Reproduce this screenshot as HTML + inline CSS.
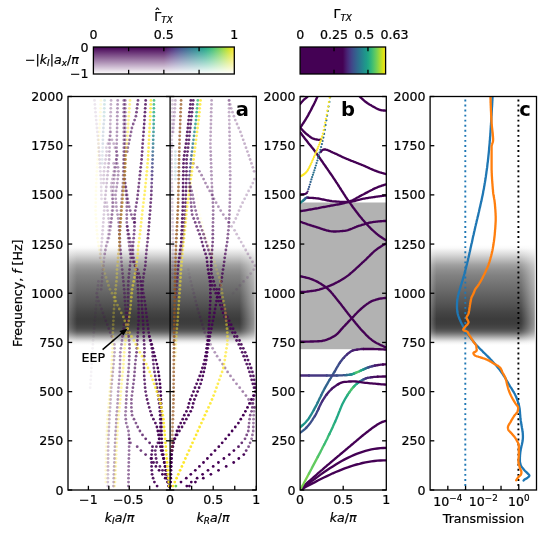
<!DOCTYPE html>
<html><head><meta charset="utf-8"><title>Figure</title>
<style>
html,body{margin:0;padding:0;background:#fff;}
body{width:550px;height:535px;overflow:hidden;}
svg{display:block;}
text{font-family:"DejaVu Sans","Liberation Sans",sans-serif;fill:#000;}
.t{font-size:12.6px;stroke:#000;stroke-width:0.22px;}
.i{font-style:italic;}
.b{font-weight:bold;}
</style></head><body>
<svg width="550" height="535" viewBox="0 0 550 535">
<defs><clipPath id="clipc"><rect x="430.1" y="96.5" width="106.4" height="393.5"/></clipPath></defs>
<defs><clipPath id="clipb"><rect x="300.1" y="96.5" width="86.2" height="393.5"/></clipPath></defs>
<defs><clipPath id="clipa"><rect x="68.0" y="96.5" width="188.3" height="393.5"/></clipPath></defs>
<defs><linearGradient id="gb" x1="0" y1="0" x2="0" y2="1">
<stop offset="0.0000" stop-color="#ffffff"/>
<stop offset="0.0300" stop-color="#fafafa"/>
<stop offset="0.0500" stop-color="#f0f0f0"/>
<stop offset="0.0900" stop-color="#dcdcdc"/>
<stop offset="0.1300" stop-color="#c6c6c6"/>
<stop offset="0.1700" stop-color="#b0b0b0"/>
<stop offset="0.2000" stop-color="#a0a0a0"/>
<stop offset="0.2500" stop-color="#8e8e8e"/>
<stop offset="0.3050" stop-color="#818181"/>
<stop offset="0.4060" stop-color="#717171"/>
<stop offset="0.5070" stop-color="#616161"/>
<stop offset="0.6070" stop-color="#515151"/>
<stop offset="0.6700" stop-color="#454545"/>
<stop offset="0.7400" stop-color="#3c3c3c"/>
<stop offset="0.7900" stop-color="#3e3e3e"/>
<stop offset="0.8300" stop-color="#484848"/>
<stop offset="0.8600" stop-color="#5a5a5a"/>
<stop offset="0.8800" stop-color="#707070"/>
<stop offset="0.9000" stop-color="#8c8c8c"/>
<stop offset="0.9200" stop-color="#aaaaaa"/>
<stop offset="0.9400" stop-color="#c8c8c8"/>
<stop offset="0.9600" stop-color="#e4e4e4"/>
<stop offset="0.9800" stop-color="#f6f6f6"/>
<stop offset="1.0000" stop-color="#ffffff"/>
</linearGradient></defs>
<rect x="68.0" y="245" width="188.3" height="100" fill="url(#gb)"/>
<rect x="430.1" y="245" width="104.8" height="100" fill="url(#gb)"/>
<rect x="300.1" y="202.5" width="86.2" height="146.7" fill="#b2b2b2"/>
<defs><linearGradient id="fl" x1="0" y1="0" x2="1" y2="0"><stop offset="0" stop-color="#fff" stop-opacity="0.25"/><stop offset="1" stop-color="#fff" stop-opacity="0"/></linearGradient><linearGradient id="fr" x1="0" y1="0" x2="1" y2="0"><stop offset="0" stop-color="#fff" stop-opacity="0"/><stop offset="1" stop-color="#fff" stop-opacity="0.47"/></linearGradient></defs>
<rect x="68.0" y="245" width="9.0" height="100" fill="url(#fl)"/>
<rect x="239.6" y="245" width="15.0" height="100" fill="url(#fr)"/>
<rect x="254.6" y="245" width="2.0" height="100" fill="#fff"/>
<rect x="430.1" y="245" width="6.5" height="100" fill="url(#fl)"/>
<rect x="520.8" y="245" width="14.0" height="100" fill="url(#fr)"/>
<rect x="534.8" y="245" width="2.0" height="100" fill="#fff"/>
<g clip-path="url(#clipa)">
<g fill="#440154" fill-opacity="0.05"><circle cx="90.2" cy="387.7" r="1.4"/><circle cx="90.5" cy="383.8" r="1.4"/><circle cx="90.7" cy="379.8" r="1.4"/><circle cx="91.0" cy="375.9" r="1.4"/><circle cx="91.2" cy="371.9" r="1.4"/><circle cx="91.4" cy="368.0" r="1.4"/><circle cx="91.7" cy="364.1" r="1.4"/><circle cx="91.9" cy="360.1" r="1.4"/><circle cx="92.1" cy="356.2" r="1.4"/><circle cx="92.4" cy="352.3" r="1.4"/><circle cx="92.6" cy="348.3" r="1.4"/><circle cx="92.9" cy="344.4" r="1.4"/><circle cx="93.1" cy="340.5" r="1.4"/><circle cx="93.5" cy="336.5" r="1.4"/><circle cx="189.1" cy="273.6" r="1.4"/><circle cx="188.3" cy="269.6" r="1.4"/><circle cx="233.3" cy="293.2" r="1.4"/></g>
<g fill="#440154" fill-opacity="0.10"><circle cx="93.8" cy="332.6" r="1.4"/><circle cx="94.1" cy="328.7" r="1.4"/><circle cx="94.4" cy="324.7" r="1.4"/><circle cx="94.8" cy="320.8" r="1.4"/><circle cx="95.1" cy="316.9" r="1.4"/><circle cx="95.4" cy="312.9" r="1.4"/><circle cx="95.8" cy="309.0" r="1.4"/><circle cx="96.1" cy="305.1" r="1.4"/><circle cx="96.4" cy="301.1" r="1.4"/><circle cx="96.8" cy="297.2" r="1.4"/><circle cx="97.2" cy="293.2" r="1.4"/><circle cx="96.4" cy="293.2" r="1.4"/><circle cx="98.4" cy="143.7" r="1.4"/><circle cx="98.0" cy="139.8" r="1.4"/><circle cx="97.7" cy="135.8" r="1.4"/><circle cx="97.3" cy="131.9" r="1.4"/><circle cx="96.9" cy="128.0" r="1.4"/><circle cx="96.6" cy="124.0" r="1.4"/><circle cx="96.2" cy="120.1" r="1.4"/><circle cx="95.9" cy="116.2" r="1.4"/><circle cx="95.5" cy="112.2" r="1.4"/><circle cx="95.2" cy="108.3" r="1.4"/><circle cx="94.9" cy="104.4" r="1.4"/><circle cx="94.5" cy="100.4" r="1.4"/><circle cx="192.8" cy="289.3" r="1.4"/><circle cx="191.8" cy="285.4" r="1.4"/><circle cx="190.8" cy="281.4" r="1.4"/><circle cx="189.9" cy="277.5" r="1.4"/><circle cx="236.7" cy="289.3" r="1.4"/><circle cx="240.0" cy="285.4" r="1.4"/></g>
<g fill="#440154" fill-opacity="0.15"><circle cx="97.6" cy="289.3" r="1.4"/><circle cx="98.0" cy="285.4" r="1.4"/><circle cx="98.4" cy="281.4" r="1.4"/><circle cx="100.1" cy="305.1" r="1.4"/><circle cx="98.7" cy="301.1" r="1.4"/><circle cx="97.6" cy="297.2" r="1.4"/><circle cx="100.2" cy="257.8" r="1.4"/><circle cx="100.6" cy="253.9" r="1.4"/><circle cx="101.5" cy="198.8" r="1.4"/><circle cx="101.4" cy="194.9" r="1.4"/><circle cx="101.3" cy="190.9" r="1.4"/><circle cx="101.2" cy="187.0" r="1.4"/><circle cx="101.1" cy="183.1" r="1.4"/><circle cx="100.9" cy="179.1" r="1.4"/><circle cx="100.7" cy="175.2" r="1.4"/><circle cx="100.4" cy="171.3" r="1.4"/><circle cx="100.2" cy="167.3" r="1.4"/><circle cx="99.9" cy="163.4" r="1.4"/><circle cx="99.6" cy="159.5" r="1.4"/><circle cx="99.4" cy="155.5" r="1.4"/><circle cx="99.1" cy="151.6" r="1.4"/><circle cx="98.8" cy="147.7" r="1.4"/><circle cx="195.7" cy="301.1" r="1.4"/><circle cx="194.7" cy="297.2" r="1.4"/><circle cx="193.8" cy="293.2" r="1.4"/><circle cx="243.6" cy="281.4" r="1.4"/><circle cx="247.5" cy="277.5" r="1.4"/><circle cx="250.7" cy="273.6" r="1.4"/></g>
<g fill="#440154" fill-opacity="0.25"><circle cx="107.8" cy="486.1" r="1.4"/><circle cx="107.8" cy="482.1" r="1.4"/><circle cx="107.9" cy="478.2" r="1.4"/><circle cx="107.9" cy="474.3" r="1.4"/><circle cx="107.3" cy="324.7" r="1.4"/><circle cx="105.8" cy="320.8" r="1.4"/><circle cx="104.7" cy="253.9" r="1.4"/><circle cx="105.4" cy="250.0" r="1.4"/><circle cx="106.3" cy="246.0" r="1.4"/><circle cx="107.8" cy="242.1" r="1.4"/><circle cx="104.5" cy="206.7" r="1.4"/><circle cx="104.8" cy="202.7" r="1.4"/><circle cx="105.1" cy="198.8" r="1.4"/><circle cx="105.5" cy="194.9" r="1.4"/><circle cx="105.9" cy="190.9" r="1.4"/><circle cx="106.3" cy="187.0" r="1.4"/><circle cx="106.7" cy="183.1" r="1.4"/><circle cx="107.1" cy="179.1" r="1.4"/><circle cx="107.5" cy="175.2" r="1.4"/><circle cx="107.9" cy="171.3" r="1.4"/><circle cx="110.3" cy="135.8" r="1.4"/><circle cx="110.7" cy="131.9" r="1.4"/><circle cx="107.9" cy="143.7" r="1.4"/><circle cx="109.0" cy="139.8" r="1.4"/><circle cx="110.3" cy="226.4" r="1.4"/><circle cx="106.9" cy="242.1" r="1.4"/><circle cx="107.8" cy="238.2" r="1.4"/><circle cx="108.5" cy="234.2" r="1.4"/><circle cx="108.8" cy="230.3" r="1.4"/><circle cx="109.0" cy="226.4" r="1.4"/><circle cx="109.1" cy="222.4" r="1.4"/><circle cx="108.6" cy="218.5" r="1.4"/><circle cx="108.1" cy="214.6" r="1.4"/><circle cx="107.6" cy="210.6" r="1.4"/><circle cx="107.2" cy="206.7" r="1.4"/><circle cx="202.4" cy="324.7" r="1.4"/><circle cx="201.2" cy="320.8" r="1.4"/><circle cx="200.1" cy="316.9" r="1.4"/><circle cx="231.6" cy="226.4" r="1.4"/><circle cx="233.8" cy="222.4" r="1.4"/><circle cx="235.8" cy="218.5" r="1.4"/><circle cx="237.5" cy="214.6" r="1.4"/><circle cx="239.0" cy="210.6" r="1.4"/><circle cx="240.7" cy="206.7" r="1.4"/><circle cx="242.6" cy="202.7" r="1.4"/><circle cx="244.6" cy="198.8" r="1.4"/><circle cx="246.6" cy="194.9" r="1.4"/><circle cx="248.6" cy="190.9" r="1.4"/><circle cx="250.9" cy="187.0" r="1.4"/><circle cx="252.8" cy="183.1" r="1.4"/><circle cx="254.3" cy="179.1" r="1.4"/><circle cx="255.0" cy="265.7" r="1.4"/><circle cx="252.5" cy="261.8" r="1.4"/><circle cx="250.2" cy="257.8" r="1.4"/><circle cx="247.9" cy="253.9" r="1.4"/><circle cx="245.7" cy="250.0" r="1.4"/><circle cx="243.4" cy="246.0" r="1.4"/><circle cx="241.2" cy="242.1" r="1.4"/><circle cx="238.9" cy="238.2" r="1.4"/><circle cx="236.7" cy="234.2" r="1.4"/><circle cx="234.6" cy="230.3" r="1.4"/></g>
<g fill="#440154" fill-opacity="0.30"><circle cx="108.0" cy="470.3" r="1.4"/><circle cx="108.0" cy="466.4" r="1.4"/><circle cx="108.0" cy="462.5" r="1.4"/><circle cx="108.1" cy="458.5" r="1.4"/><circle cx="108.1" cy="454.6" r="1.4"/><circle cx="108.1" cy="450.6" r="1.4"/><circle cx="108.2" cy="446.7" r="1.4"/><circle cx="108.3" cy="442.8" r="1.4"/><circle cx="108.4" cy="438.8" r="1.4"/><circle cx="108.6" cy="434.9" r="1.4"/><circle cx="108.8" cy="431.0" r="1.4"/><circle cx="109.0" cy="427.0" r="1.4"/><circle cx="109.2" cy="423.1" r="1.4"/><circle cx="109.3" cy="419.2" r="1.4"/><circle cx="109.5" cy="415.2" r="1.4"/><circle cx="109.8" cy="411.3" r="1.4"/><circle cx="110.1" cy="407.4" r="1.4"/><circle cx="110.4" cy="403.4" r="1.4"/><circle cx="110.6" cy="399.5" r="1.4"/><circle cx="110.8" cy="395.6" r="1.4"/><circle cx="111.0" cy="391.6" r="1.4"/><circle cx="111.3" cy="387.7" r="1.4"/><circle cx="110.3" cy="332.6" r="1.4"/><circle cx="108.8" cy="328.7" r="1.4"/><circle cx="108.8" cy="238.2" r="1.4"/><circle cx="109.5" cy="234.2" r="1.4"/><circle cx="110.1" cy="230.3" r="1.4"/><circle cx="110.8" cy="226.4" r="1.4"/><circle cx="111.2" cy="222.4" r="1.4"/><circle cx="111.5" cy="218.5" r="1.4"/><circle cx="108.3" cy="167.3" r="1.4"/><circle cx="108.7" cy="163.4" r="1.4"/><circle cx="109.2" cy="159.5" r="1.4"/><circle cx="109.3" cy="155.5" r="1.4"/><circle cx="109.4" cy="151.6" r="1.4"/><circle cx="109.6" cy="147.7" r="1.4"/><circle cx="109.7" cy="143.7" r="1.4"/><circle cx="109.8" cy="139.8" r="1.4"/><circle cx="109.9" cy="135.8" r="1.4"/><circle cx="110.1" cy="131.9" r="1.4"/><circle cx="110.2" cy="128.0" r="1.4"/><circle cx="110.3" cy="124.0" r="1.4"/><circle cx="110.4" cy="120.1" r="1.4"/><circle cx="110.6" cy="116.2" r="1.4"/><circle cx="110.7" cy="112.2" r="1.4"/><circle cx="110.8" cy="108.3" r="1.4"/><circle cx="110.9" cy="104.4" r="1.4"/><circle cx="111.1" cy="100.4" r="1.4"/><circle cx="114.9" cy="147.7" r="1.4"/><circle cx="113.7" cy="143.7" r="1.4"/><circle cx="112.0" cy="139.8" r="1.4"/><circle cx="110.9" cy="222.4" r="1.4"/><circle cx="111.6" cy="218.5" r="1.4"/><circle cx="112.2" cy="214.6" r="1.4"/><circle cx="112.8" cy="210.6" r="1.4"/><circle cx="113.4" cy="206.7" r="1.4"/><circle cx="113.0" cy="202.7" r="1.4"/><circle cx="112.4" cy="198.8" r="1.4"/><circle cx="111.9" cy="194.9" r="1.4"/><circle cx="111.5" cy="190.9" r="1.4"/><circle cx="111.1" cy="187.0" r="1.4"/><circle cx="111.6" cy="183.1" r="1.4"/><circle cx="112.4" cy="179.1" r="1.4"/><circle cx="113.2" cy="175.2" r="1.4"/><circle cx="113.9" cy="171.3" r="1.4"/><circle cx="114.4" cy="167.3" r="1.4"/><circle cx="113.6" cy="163.4" r="1.4"/><circle cx="173.1" cy="131.9" r="1.4"/><circle cx="173.4" cy="128.0" r="1.4"/><circle cx="173.7" cy="124.0" r="1.4"/><circle cx="174.0" cy="120.1" r="1.4"/><circle cx="174.3" cy="116.2" r="1.4"/><circle cx="174.6" cy="112.2" r="1.4"/><circle cx="174.9" cy="108.3" r="1.4"/><circle cx="175.1" cy="104.4" r="1.4"/><circle cx="175.4" cy="100.4" r="1.4"/><circle cx="229.4" cy="124.0" r="1.4"/><circle cx="229.3" cy="120.1" r="1.4"/><circle cx="229.2" cy="116.2" r="1.4"/><circle cx="229.1" cy="112.2" r="1.4"/><circle cx="229.1" cy="108.3" r="1.4"/><circle cx="229.0" cy="104.4" r="1.4"/><circle cx="228.9" cy="100.4" r="1.4"/><circle cx="204.8" cy="332.6" r="1.4"/><circle cx="203.6" cy="328.7" r="1.4"/><circle cx="254.1" cy="171.3" r="1.4"/><circle cx="252.8" cy="167.3" r="1.4"/><circle cx="251.5" cy="163.4" r="1.4"/><circle cx="250.1" cy="159.5" r="1.4"/><circle cx="248.8" cy="155.5" r="1.4"/><circle cx="247.4" cy="151.6" r="1.4"/><circle cx="246.0" cy="147.7" r="1.4"/><circle cx="244.6" cy="143.7" r="1.4"/><circle cx="243.2" cy="139.8" r="1.4"/><circle cx="241.8" cy="135.8" r="1.4"/><circle cx="240.4" cy="131.9" r="1.4"/><circle cx="238.7" cy="128.0" r="1.4"/><circle cx="237.0" cy="124.0" r="1.4"/><circle cx="235.3" cy="120.1" r="1.4"/><circle cx="233.9" cy="116.2" r="1.4"/><circle cx="232.5" cy="112.2" r="1.4"/><circle cx="231.2" cy="108.3" r="1.4"/><circle cx="230.2" cy="104.4" r="1.4"/><circle cx="229.3" cy="100.4" r="1.4"/></g>
<g fill="#440154" fill-opacity="0.35"><circle cx="111.7" cy="383.8" r="1.4"/><circle cx="112.0" cy="379.8" r="1.4"/><circle cx="112.4" cy="375.9" r="1.4"/><circle cx="112.8" cy="371.9" r="1.4"/><circle cx="113.2" cy="368.0" r="1.4"/><circle cx="113.6" cy="364.1" r="1.4"/><circle cx="113.9" cy="360.1" r="1.4"/><circle cx="114.2" cy="356.2" r="1.4"/><circle cx="114.5" cy="352.3" r="1.4"/><circle cx="114.5" cy="348.3" r="1.4"/><circle cx="114.4" cy="344.4" r="1.4"/><circle cx="113.2" cy="340.5" r="1.4"/><circle cx="111.8" cy="336.5" r="1.4"/><circle cx="113.5" cy="486.1" r="1.4"/><circle cx="113.7" cy="482.1" r="1.4"/><circle cx="113.8" cy="478.2" r="1.4"/><circle cx="113.9" cy="474.3" r="1.4"/><circle cx="114.1" cy="470.3" r="1.4"/><circle cx="114.2" cy="466.4" r="1.4"/><circle cx="114.4" cy="462.5" r="1.4"/><circle cx="114.5" cy="458.5" r="1.4"/><circle cx="114.6" cy="454.6" r="1.4"/><circle cx="114.8" cy="450.6" r="1.4"/><circle cx="114.9" cy="446.7" r="1.4"/><circle cx="111.8" cy="214.6" r="1.4"/><circle cx="112.1" cy="210.6" r="1.4"/><circle cx="112.4" cy="206.7" r="1.4"/><circle cx="112.6" cy="202.7" r="1.4"/><circle cx="112.8" cy="198.8" r="1.4"/><circle cx="113.0" cy="194.9" r="1.4"/><circle cx="113.2" cy="190.9" r="1.4"/><circle cx="113.4" cy="187.0" r="1.4"/><circle cx="113.7" cy="183.1" r="1.4"/><circle cx="114.2" cy="179.1" r="1.4"/><circle cx="114.6" cy="175.2" r="1.4"/><circle cx="115.0" cy="171.3" r="1.4"/><circle cx="117.4" cy="155.5" r="1.4"/><circle cx="116.5" cy="151.6" r="1.4"/><circle cx="230.1" cy="171.3" r="1.4"/><circle cx="230.0" cy="167.3" r="1.4"/><circle cx="230.0" cy="163.4" r="1.4"/><circle cx="229.9" cy="159.5" r="1.4"/><circle cx="229.9" cy="155.5" r="1.4"/><circle cx="229.8" cy="151.6" r="1.4"/><circle cx="229.8" cy="147.7" r="1.4"/><circle cx="229.7" cy="143.7" r="1.4"/><circle cx="229.6" cy="139.8" r="1.4"/><circle cx="229.6" cy="135.8" r="1.4"/><circle cx="229.5" cy="131.9" r="1.4"/><circle cx="229.4" cy="128.0" r="1.4"/><circle cx="210.5" cy="147.7" r="1.4"/><circle cx="210.4" cy="143.7" r="1.4"/><circle cx="210.5" cy="139.8" r="1.4"/><circle cx="210.6" cy="135.8" r="1.4"/><circle cx="210.7" cy="131.9" r="1.4"/><circle cx="210.8" cy="128.0" r="1.4"/><circle cx="210.9" cy="124.0" r="1.4"/><circle cx="211.0" cy="120.1" r="1.4"/><circle cx="211.1" cy="116.2" r="1.4"/><circle cx="211.2" cy="112.2" r="1.4"/><circle cx="211.3" cy="108.3" r="1.4"/><circle cx="211.5" cy="104.4" r="1.4"/><circle cx="211.6" cy="100.4" r="1.4"/><circle cx="210.6" cy="344.4" r="1.4"/><circle cx="208.7" cy="340.5" r="1.4"/><circle cx="206.7" cy="336.5" r="1.4"/></g>
<g fill="#440154" fill-opacity="0.20"><circle cx="104.3" cy="316.9" r="1.4"/><circle cx="102.9" cy="312.9" r="1.4"/><circle cx="101.5" cy="309.0" r="1.4"/><circle cx="101.1" cy="289.3" r="1.4"/><circle cx="101.5" cy="285.4" r="1.4"/><circle cx="101.9" cy="281.4" r="1.4"/><circle cx="102.2" cy="277.5" r="1.4"/><circle cx="102.6" cy="273.6" r="1.4"/><circle cx="103.0" cy="269.6" r="1.4"/><circle cx="103.4" cy="265.7" r="1.4"/><circle cx="103.8" cy="261.8" r="1.4"/><circle cx="104.2" cy="257.8" r="1.4"/><circle cx="101.0" cy="250.0" r="1.4"/><circle cx="101.4" cy="246.0" r="1.4"/><circle cx="101.8" cy="242.1" r="1.4"/><circle cx="102.1" cy="238.2" r="1.4"/><circle cx="102.4" cy="234.2" r="1.4"/><circle cx="102.7" cy="230.3" r="1.4"/><circle cx="103.0" cy="226.4" r="1.4"/><circle cx="103.3" cy="222.4" r="1.4"/><circle cx="103.6" cy="218.5" r="1.4"/><circle cx="103.9" cy="214.6" r="1.4"/><circle cx="104.2" cy="210.6" r="1.4"/><circle cx="103.6" cy="183.1" r="1.4"/><circle cx="103.7" cy="179.1" r="1.4"/><circle cx="103.8" cy="175.2" r="1.4"/><circle cx="104.0" cy="171.3" r="1.4"/><circle cx="104.4" cy="167.3" r="1.4"/><circle cx="105.0" cy="163.4" r="1.4"/><circle cx="105.6" cy="159.5" r="1.4"/><circle cx="106.2" cy="155.5" r="1.4"/><circle cx="106.7" cy="151.6" r="1.4"/><circle cx="106.3" cy="147.7" r="1.4"/><circle cx="104.8" cy="253.9" r="1.4"/><circle cx="105.4" cy="250.0" r="1.4"/><circle cx="106.1" cy="246.0" r="1.4"/><circle cx="106.8" cy="202.7" r="1.4"/><circle cx="172.5" cy="277.5" r="1.4"/><circle cx="172.6" cy="273.6" r="1.4"/><circle cx="172.6" cy="269.6" r="1.4"/><circle cx="172.7" cy="265.7" r="1.4"/><circle cx="172.7" cy="261.8" r="1.4"/><circle cx="172.8" cy="257.8" r="1.4"/><circle cx="172.8" cy="253.9" r="1.4"/><circle cx="172.9" cy="250.0" r="1.4"/><circle cx="172.9" cy="246.0" r="1.4"/><circle cx="173.0" cy="242.1" r="1.4"/><circle cx="173.0" cy="238.2" r="1.4"/><circle cx="172.9" cy="234.2" r="1.4"/><circle cx="172.8" cy="230.3" r="1.4"/><circle cx="172.7" cy="226.4" r="1.4"/><circle cx="172.6" cy="222.4" r="1.4"/><circle cx="172.6" cy="218.5" r="1.4"/><circle cx="172.5" cy="214.6" r="1.4"/><circle cx="172.4" cy="210.6" r="1.4"/><circle cx="172.3" cy="206.7" r="1.4"/><circle cx="172.3" cy="202.7" r="1.4"/><circle cx="172.2" cy="198.8" r="1.4"/><circle cx="172.1" cy="194.9" r="1.4"/><circle cx="172.1" cy="190.9" r="1.4"/><circle cx="172.0" cy="187.0" r="1.4"/><circle cx="171.9" cy="183.1" r="1.4"/><circle cx="171.9" cy="179.1" r="1.4"/><circle cx="171.8" cy="175.2" r="1.4"/><circle cx="171.8" cy="171.3" r="1.4"/><circle cx="171.7" cy="167.3" r="1.4"/><circle cx="171.7" cy="163.4" r="1.4"/><circle cx="171.6" cy="159.5" r="1.4"/><circle cx="171.7" cy="155.5" r="1.4"/><circle cx="171.7" cy="151.6" r="1.4"/><circle cx="171.8" cy="147.7" r="1.4"/><circle cx="171.8" cy="143.7" r="1.4"/><circle cx="171.9" cy="139.8" r="1.4"/><circle cx="171.9" cy="135.8" r="1.4"/><circle cx="172.0" cy="131.9" r="1.4"/><circle cx="172.0" cy="128.0" r="1.4"/><circle cx="172.1" cy="124.0" r="1.4"/><circle cx="172.2" cy="120.1" r="1.4"/><circle cx="172.2" cy="116.2" r="1.4"/><circle cx="172.3" cy="112.2" r="1.4"/><circle cx="172.3" cy="108.3" r="1.4"/><circle cx="172.4" cy="104.4" r="1.4"/><circle cx="172.5" cy="100.4" r="1.4"/><circle cx="198.9" cy="312.9" r="1.4"/><circle cx="197.7" cy="309.0" r="1.4"/><circle cx="196.7" cy="305.1" r="1.4"/><circle cx="253.8" cy="269.6" r="1.4"/></g>
<g fill="#440154" fill-opacity="0.40"><circle cx="115.1" cy="442.8" r="1.4"/><circle cx="115.3" cy="438.8" r="1.4"/><circle cx="115.5" cy="434.9" r="1.4"/><circle cx="115.7" cy="431.0" r="1.4"/><circle cx="116.0" cy="427.0" r="1.4"/><circle cx="116.2" cy="423.1" r="1.4"/><circle cx="116.4" cy="419.2" r="1.4"/><circle cx="116.6" cy="415.2" r="1.4"/><circle cx="117.0" cy="411.3" r="1.4"/><circle cx="117.3" cy="407.4" r="1.4"/><circle cx="117.6" cy="403.4" r="1.4"/><circle cx="117.8" cy="399.5" r="1.4"/><circle cx="118.0" cy="395.6" r="1.4"/><circle cx="118.2" cy="391.6" r="1.4"/><circle cx="118.5" cy="387.7" r="1.4"/><circle cx="115.5" cy="167.3" r="1.4"/><circle cx="115.9" cy="163.4" r="1.4"/><circle cx="116.3" cy="159.5" r="1.4"/><circle cx="116.5" cy="155.5" r="1.4"/><circle cx="116.6" cy="151.6" r="1.4"/><circle cx="116.6" cy="147.7" r="1.4"/><circle cx="116.7" cy="143.7" r="1.4"/><circle cx="116.8" cy="139.8" r="1.4"/><circle cx="116.9" cy="135.8" r="1.4"/><circle cx="117.0" cy="131.9" r="1.4"/><circle cx="117.1" cy="128.0" r="1.4"/><circle cx="117.2" cy="124.0" r="1.4"/><circle cx="117.2" cy="120.1" r="1.4"/><circle cx="117.3" cy="116.2" r="1.4"/><circle cx="117.4" cy="112.2" r="1.4"/><circle cx="117.5" cy="108.3" r="1.4"/><circle cx="117.6" cy="104.4" r="1.4"/><circle cx="117.7" cy="100.4" r="1.4"/><circle cx="118.2" cy="218.5" r="1.4"/><circle cx="117.6" cy="214.6" r="1.4"/><circle cx="116.9" cy="210.6" r="1.4"/><circle cx="116.4" cy="206.7" r="1.4"/><circle cx="116.1" cy="202.7" r="1.4"/><circle cx="115.8" cy="198.8" r="1.4"/><circle cx="115.5" cy="194.9" r="1.4"/><circle cx="116.1" cy="190.9" r="1.4"/><circle cx="116.7" cy="187.0" r="1.4"/><circle cx="117.3" cy="183.1" r="1.4"/><circle cx="117.7" cy="179.1" r="1.4"/><circle cx="118.1" cy="175.2" r="1.4"/><circle cx="118.4" cy="171.3" r="1.4"/><circle cx="118.0" cy="167.3" r="1.4"/><circle cx="117.2" cy="163.4" r="1.4"/><circle cx="116.5" cy="159.5" r="1.4"/><circle cx="230.0" cy="190.9" r="1.4"/><circle cx="230.1" cy="187.0" r="1.4"/><circle cx="230.1" cy="183.1" r="1.4"/><circle cx="230.2" cy="179.1" r="1.4"/><circle cx="230.2" cy="175.2" r="1.4"/><circle cx="211.8" cy="183.1" r="1.4"/><circle cx="211.6" cy="179.1" r="1.4"/><circle cx="211.5" cy="175.2" r="1.4"/><circle cx="211.3" cy="171.3" r="1.4"/><circle cx="211.2" cy="167.3" r="1.4"/><circle cx="211.1" cy="163.4" r="1.4"/><circle cx="210.9" cy="159.5" r="1.4"/><circle cx="210.8" cy="155.5" r="1.4"/><circle cx="210.7" cy="151.6" r="1.4"/><circle cx="219.8" cy="360.1" r="1.4"/><circle cx="217.1" cy="356.2" r="1.4"/><circle cx="214.8" cy="352.3" r="1.4"/><circle cx="212.6" cy="348.3" r="1.4"/><circle cx="228.6" cy="222.4" r="1.4"/><circle cx="226.0" cy="218.5" r="1.4"/><circle cx="223.3" cy="214.6" r="1.4"/><circle cx="220.7" cy="210.6" r="1.4"/><circle cx="218.4" cy="206.7" r="1.4"/><circle cx="216.1" cy="202.7" r="1.4"/><circle cx="214.0" cy="198.8" r="1.4"/><circle cx="211.9" cy="194.9" r="1.4"/></g>
<g fill="#440154" fill-opacity="0.45"><circle cx="118.9" cy="383.8" r="1.4"/><circle cx="119.2" cy="379.8" r="1.4"/><circle cx="119.6" cy="375.9" r="1.4"/><circle cx="119.7" cy="371.9" r="1.4"/><circle cx="119.8" cy="368.0" r="1.4"/><circle cx="120.0" cy="364.1" r="1.4"/><circle cx="120.1" cy="360.1" r="1.4"/><circle cx="120.2" cy="356.2" r="1.4"/><circle cx="120.3" cy="352.3" r="1.4"/><circle cx="120.9" cy="348.3" r="1.4"/><circle cx="121.5" cy="344.4" r="1.4"/><circle cx="122.0" cy="340.5" r="1.4"/><circle cx="120.8" cy="253.9" r="1.4"/><circle cx="120.6" cy="250.0" r="1.4"/><circle cx="120.3" cy="246.0" r="1.4"/><circle cx="120.0" cy="242.1" r="1.4"/><circle cx="119.8" cy="238.2" r="1.4"/><circle cx="119.5" cy="234.2" r="1.4"/><circle cx="119.2" cy="230.3" r="1.4"/><circle cx="118.9" cy="226.4" r="1.4"/><circle cx="118.7" cy="222.4" r="1.4"/><circle cx="121.8" cy="265.7" r="1.4"/><circle cx="121.5" cy="261.8" r="1.4"/><circle cx="121.2" cy="257.8" r="1.4"/><circle cx="120.8" cy="253.9" r="1.4"/><circle cx="120.1" cy="250.0" r="1.4"/><circle cx="119.6" cy="246.0" r="1.4"/><circle cx="119.6" cy="242.1" r="1.4"/><circle cx="119.5" cy="238.2" r="1.4"/><circle cx="119.5" cy="234.2" r="1.4"/><circle cx="119.8" cy="230.3" r="1.4"/><circle cx="120.0" cy="226.4" r="1.4"/><circle cx="120.2" cy="222.4" r="1.4"/><circle cx="120.5" cy="218.5" r="1.4"/><circle cx="120.7" cy="214.6" r="1.4"/><circle cx="121.0" cy="210.6" r="1.4"/><circle cx="121.2" cy="206.7" r="1.4"/><circle cx="121.5" cy="202.7" r="1.4"/><circle cx="121.7" cy="198.8" r="1.4"/><circle cx="122.0" cy="194.9" r="1.4"/><circle cx="175.8" cy="297.2" r="1.4"/><circle cx="229.7" cy="206.7" r="1.4"/><circle cx="229.8" cy="202.7" r="1.4"/><circle cx="229.9" cy="198.8" r="1.4"/><circle cx="229.9" cy="194.9" r="1.4"/><circle cx="212.5" cy="194.9" r="1.4"/><circle cx="212.2" cy="190.9" r="1.4"/><circle cx="212.0" cy="187.0" r="1.4"/><circle cx="254.0" cy="411.3" r="1.4"/><circle cx="254.9" cy="407.4" r="1.4"/><circle cx="239.7" cy="387.7" r="1.4"/><circle cx="236.5" cy="383.8" r="1.4"/><circle cx="233.4" cy="379.8" r="1.4"/><circle cx="230.5" cy="375.9" r="1.4"/><circle cx="227.6" cy="371.9" r="1.4"/><circle cx="225.1" cy="368.0" r="1.4"/><circle cx="222.6" cy="364.1" r="1.4"/><circle cx="209.7" cy="190.9" r="1.4"/><circle cx="207.5" cy="187.0" r="1.4"/><circle cx="205.5" cy="183.1" r="1.4"/><circle cx="203.6" cy="179.1" r="1.4"/><circle cx="201.6" cy="175.2" r="1.4"/><circle cx="199.4" cy="171.3" r="1.4"/><circle cx="197.2" cy="167.3" r="1.4"/><circle cx="193.4" cy="163.4" r="1.4"/></g>
<g fill="#440154" fill-opacity="0.50"><circle cx="122.4" cy="336.5" r="1.4"/><circle cx="123.1" cy="332.6" r="1.4"/><circle cx="123.6" cy="328.7" r="1.4"/><circle cx="124.0" cy="324.7" r="1.4"/><circle cx="125.4" cy="415.2" r="1.4"/><circle cx="125.7" cy="411.3" r="1.4"/><circle cx="125.6" cy="309.0" r="1.4"/><circle cx="125.2" cy="305.1" r="1.4"/><circle cx="124.9" cy="301.1" r="1.4"/><circle cx="124.7" cy="297.2" r="1.4"/><circle cx="124.5" cy="293.2" r="1.4"/><circle cx="124.2" cy="289.3" r="1.4"/><circle cx="123.8" cy="285.4" r="1.4"/><circle cx="123.4" cy="281.4" r="1.4"/><circle cx="123.0" cy="277.5" r="1.4"/><circle cx="122.6" cy="273.6" r="1.4"/><circle cx="122.2" cy="269.6" r="1.4"/><circle cx="122.3" cy="190.9" r="1.4"/><circle cx="122.6" cy="187.0" r="1.4"/><circle cx="122.9" cy="183.1" r="1.4"/><circle cx="123.2" cy="179.1" r="1.4"/><circle cx="123.3" cy="175.2" r="1.4"/><circle cx="123.4" cy="171.3" r="1.4"/><circle cx="123.4" cy="167.3" r="1.4"/><circle cx="123.5" cy="163.4" r="1.4"/><circle cx="123.6" cy="159.5" r="1.4"/><circle cx="123.7" cy="155.5" r="1.4"/><circle cx="123.8" cy="151.6" r="1.4"/><circle cx="123.8" cy="147.7" r="1.4"/><circle cx="123.8" cy="143.7" r="1.4"/><circle cx="123.8" cy="139.8" r="1.4"/><circle cx="123.8" cy="135.8" r="1.4"/><circle cx="123.8" cy="131.9" r="1.4"/><circle cx="123.8" cy="128.0" r="1.4"/><circle cx="123.8" cy="124.0" r="1.4"/><circle cx="123.8" cy="120.1" r="1.4"/><circle cx="123.8" cy="116.2" r="1.4"/><circle cx="123.8" cy="112.2" r="1.4"/><circle cx="123.8" cy="108.3" r="1.4"/><circle cx="123.8" cy="104.4" r="1.4"/><circle cx="123.8" cy="100.4" r="1.4"/><circle cx="125.1" cy="183.1" r="1.4"/><circle cx="124.2" cy="179.1" r="1.4"/><circle cx="125.6" cy="190.9" r="1.4"/><circle cx="125.3" cy="187.0" r="1.4"/><circle cx="125.1" cy="183.1" r="1.4"/><circle cx="124.9" cy="179.1" r="1.4"/><circle cx="124.7" cy="175.2" r="1.4"/><circle cx="124.5" cy="171.3" r="1.4"/><circle cx="124.5" cy="167.3" r="1.4"/><circle cx="124.6" cy="163.4" r="1.4"/><circle cx="124.7" cy="159.5" r="1.4"/><circle cx="124.8" cy="155.5" r="1.4"/><circle cx="124.9" cy="151.6" r="1.4"/><circle cx="125.0" cy="147.7" r="1.4"/><circle cx="125.1" cy="143.7" r="1.4"/><circle cx="125.2" cy="139.8" r="1.4"/><circle cx="125.2" cy="135.8" r="1.4"/><circle cx="125.2" cy="131.9" r="1.4"/><circle cx="125.2" cy="128.0" r="1.4"/><circle cx="125.2" cy="124.0" r="1.4"/><circle cx="125.2" cy="120.1" r="1.4"/><circle cx="125.2" cy="116.2" r="1.4"/><circle cx="125.2" cy="112.2" r="1.4"/><circle cx="125.2" cy="108.3" r="1.4"/><circle cx="125.2" cy="104.4" r="1.4"/><circle cx="125.2" cy="100.4" r="1.4"/><circle cx="176.1" cy="293.2" r="1.4"/><circle cx="176.4" cy="289.3" r="1.4"/><circle cx="192.6" cy="194.9" r="1.4"/><circle cx="191.7" cy="190.9" r="1.4"/><circle cx="190.7" cy="187.0" r="1.4"/><circle cx="229.0" cy="222.4" r="1.4"/><circle cx="229.2" cy="218.5" r="1.4"/><circle cx="229.4" cy="214.6" r="1.4"/><circle cx="229.6" cy="210.6" r="1.4"/><circle cx="213.2" cy="210.6" r="1.4"/><circle cx="213.1" cy="206.7" r="1.4"/><circle cx="212.9" cy="202.7" r="1.4"/><circle cx="212.7" cy="198.8" r="1.4"/><circle cx="253.4" cy="423.1" r="1.4"/><circle cx="253.5" cy="419.2" r="1.4"/><circle cx="253.7" cy="415.2" r="1.4"/><circle cx="254.3" cy="407.4" r="1.4"/><circle cx="251.0" cy="403.4" r="1.4"/><circle cx="248.6" cy="399.5" r="1.4"/><circle cx="245.9" cy="395.6" r="1.4"/><circle cx="242.8" cy="391.6" r="1.4"/></g>
<g fill="#440154" fill-opacity="0.55"><circle cx="128.4" cy="486.1" r="1.4"/><circle cx="128.5" cy="482.1" r="1.4"/><circle cx="128.5" cy="478.2" r="1.4"/><circle cx="128.6" cy="474.3" r="1.4"/><circle cx="128.6" cy="470.3" r="1.4"/><circle cx="128.7" cy="466.4" r="1.4"/><circle cx="128.8" cy="462.5" r="1.4"/><circle cx="128.9" cy="458.5" r="1.4"/><circle cx="129.0" cy="454.6" r="1.4"/><circle cx="129.1" cy="450.6" r="1.4"/><circle cx="129.1" cy="446.7" r="1.4"/><circle cx="129.1" cy="442.8" r="1.4"/><circle cx="129.1" cy="438.8" r="1.4"/><circle cx="128.8" cy="434.9" r="1.4"/><circle cx="128.5" cy="431.0" r="1.4"/><circle cx="127.4" cy="427.0" r="1.4"/><circle cx="126.2" cy="423.1" r="1.4"/><circle cx="125.8" cy="419.2" r="1.4"/><circle cx="125.9" cy="407.4" r="1.4"/><circle cx="126.1" cy="403.4" r="1.4"/><circle cx="126.3" cy="399.5" r="1.4"/><circle cx="126.5" cy="395.6" r="1.4"/><circle cx="126.7" cy="391.6" r="1.4"/><circle cx="127.0" cy="387.7" r="1.4"/><circle cx="127.4" cy="383.8" r="1.4"/><circle cx="127.7" cy="379.8" r="1.4"/><circle cx="128.1" cy="375.9" r="1.4"/><circle cx="128.4" cy="371.9" r="1.4"/><circle cx="128.7" cy="368.0" r="1.4"/><circle cx="129.0" cy="364.1" r="1.4"/><circle cx="129.2" cy="360.1" r="1.4"/><circle cx="129.1" cy="340.5" r="1.4"/><circle cx="128.6" cy="336.5" r="1.4"/><circle cx="128.0" cy="332.6" r="1.4"/><circle cx="127.5" cy="328.7" r="1.4"/><circle cx="127.2" cy="324.7" r="1.4"/><circle cx="126.9" cy="320.8" r="1.4"/><circle cx="126.4" cy="316.9" r="1.4"/><circle cx="126.0" cy="312.9" r="1.4"/><circle cx="127.8" cy="324.7" r="1.4"/><circle cx="128.0" cy="320.8" r="1.4"/><circle cx="128.1" cy="316.9" r="1.4"/><circle cx="128.1" cy="312.9" r="1.4"/><circle cx="128.1" cy="309.0" r="1.4"/><circle cx="128.1" cy="305.1" r="1.4"/><circle cx="128.1" cy="301.1" r="1.4"/><circle cx="128.1" cy="297.2" r="1.4"/><circle cx="128.1" cy="293.2" r="1.4"/><circle cx="128.1" cy="289.3" r="1.4"/><circle cx="128.2" cy="285.4" r="1.4"/><circle cx="128.4" cy="281.4" r="1.4"/><circle cx="128.7" cy="277.5" r="1.4"/><circle cx="129.1" cy="273.6" r="1.4"/><circle cx="129.2" cy="246.0" r="1.4"/><circle cx="128.8" cy="242.1" r="1.4"/><circle cx="128.3" cy="238.2" r="1.4"/><circle cx="127.9" cy="234.2" r="1.4"/><circle cx="127.5" cy="230.3" r="1.4"/><circle cx="127.1" cy="226.4" r="1.4"/><circle cx="127.3" cy="151.6" r="1.4"/><circle cx="127.9" cy="147.7" r="1.4"/><circle cx="128.7" cy="143.7" r="1.4"/><circle cx="129.2" cy="206.7" r="1.4"/><circle cx="128.4" cy="202.7" r="1.4"/><circle cx="127.7" cy="198.8" r="1.4"/><circle cx="127.1" cy="194.9" r="1.4"/><circle cx="126.6" cy="190.9" r="1.4"/><circle cx="125.9" cy="187.0" r="1.4"/><circle cx="128.8" cy="234.2" r="1.4"/><circle cx="128.0" cy="230.3" r="1.4"/><circle cx="127.3" cy="226.4" r="1.4"/><circle cx="126.8" cy="222.4" r="1.4"/><circle cx="126.8" cy="218.5" r="1.4"/><circle cx="126.8" cy="214.6" r="1.4"/><circle cx="126.8" cy="210.6" r="1.4"/><circle cx="126.8" cy="206.7" r="1.4"/><circle cx="126.8" cy="202.7" r="1.4"/><circle cx="126.6" cy="198.8" r="1.4"/><circle cx="126.1" cy="194.9" r="1.4"/><circle cx="176.7" cy="285.4" r="1.4"/><circle cx="197.7" cy="218.5" r="1.4"/><circle cx="196.6" cy="214.6" r="1.4"/><circle cx="195.7" cy="210.6" r="1.4"/><circle cx="194.7" cy="206.7" r="1.4"/><circle cx="194.0" cy="202.7" r="1.4"/><circle cx="193.3" cy="198.8" r="1.4"/><circle cx="228.4" cy="230.3" r="1.4"/><circle cx="228.8" cy="226.4" r="1.4"/><circle cx="213.0" cy="222.4" r="1.4"/><circle cx="213.1" cy="218.5" r="1.4"/><circle cx="213.1" cy="214.6" r="1.4"/><circle cx="251.6" cy="438.8" r="1.4"/><circle cx="252.4" cy="434.9" r="1.4"/><circle cx="253.2" cy="431.0" r="1.4"/><circle cx="253.3" cy="427.0" r="1.4"/></g>
<g fill="#440154" fill-opacity="0.60"><circle cx="129.3" cy="356.2" r="1.4"/><circle cx="129.5" cy="352.3" r="1.4"/><circle cx="129.5" cy="348.3" r="1.4"/><circle cx="129.5" cy="344.4" r="1.4"/><circle cx="129.5" cy="269.6" r="1.4"/><circle cx="130.0" cy="265.7" r="1.4"/><circle cx="130.4" cy="261.8" r="1.4"/><circle cx="130.7" cy="257.8" r="1.4"/><circle cx="130.2" cy="253.9" r="1.4"/><circle cx="129.7" cy="250.0" r="1.4"/><circle cx="129.5" cy="139.8" r="1.4"/><circle cx="130.3" cy="135.8" r="1.4"/><circle cx="131.1" cy="131.9" r="1.4"/><circle cx="131.9" cy="128.0" r="1.4"/><circle cx="132.7" cy="218.5" r="1.4"/><circle cx="131.3" cy="214.6" r="1.4"/><circle cx="130.2" cy="210.6" r="1.4"/><circle cx="132.1" cy="415.2" r="1.4"/><circle cx="131.7" cy="411.3" r="1.4"/><circle cx="131.4" cy="407.4" r="1.4"/><circle cx="131.4" cy="403.4" r="1.4"/><circle cx="131.4" cy="399.5" r="1.4"/><circle cx="131.9" cy="395.6" r="1.4"/><circle cx="132.4" cy="391.6" r="1.4"/><circle cx="132.2" cy="257.8" r="1.4"/><circle cx="131.4" cy="253.9" r="1.4"/><circle cx="131.4" cy="250.0" r="1.4"/><circle cx="131.3" cy="246.0" r="1.4"/><circle cx="130.6" cy="242.1" r="1.4"/><circle cx="129.6" cy="238.2" r="1.4"/><circle cx="130.5" cy="442.8" r="1.4"/><circle cx="129.3" cy="438.8" r="1.4"/><circle cx="177.0" cy="281.4" r="1.4"/><circle cx="180.7" cy="257.8" r="1.4"/><circle cx="181.2" cy="253.9" r="1.4"/><circle cx="191.0" cy="202.7" r="1.4"/><circle cx="190.6" cy="198.8" r="1.4"/><circle cx="190.3" cy="194.9" r="1.4"/><circle cx="202.1" cy="230.3" r="1.4"/><circle cx="200.6" cy="226.4" r="1.4"/><circle cx="199.2" cy="222.4" r="1.4"/><circle cx="227.6" cy="238.2" r="1.4"/><circle cx="228.0" cy="234.2" r="1.4"/><circle cx="212.9" cy="230.3" r="1.4"/><circle cx="212.9" cy="226.4" r="1.4"/><circle cx="249.1" cy="423.1" r="1.4"/><circle cx="249.6" cy="419.2" r="1.4"/><circle cx="250.1" cy="442.8" r="1.4"/></g>
<g fill="#440154" fill-opacity="0.65"><circle cx="133.2" cy="124.0" r="1.4"/><circle cx="134.6" cy="120.1" r="1.4"/><circle cx="135.9" cy="116.2" r="1.4"/><circle cx="134.3" cy="222.4" r="1.4"/><circle cx="135.9" cy="423.1" r="1.4"/><circle cx="134.0" cy="419.2" r="1.4"/><circle cx="132.9" cy="387.7" r="1.4"/><circle cx="133.4" cy="383.8" r="1.4"/><circle cx="133.9" cy="379.8" r="1.4"/><circle cx="134.3" cy="375.9" r="1.4"/><circle cx="134.6" cy="371.9" r="1.4"/><circle cx="134.9" cy="368.0" r="1.4"/><circle cx="135.2" cy="364.1" r="1.4"/><circle cx="135.6" cy="360.1" r="1.4"/><circle cx="136.1" cy="356.2" r="1.4"/><circle cx="135.9" cy="269.6" r="1.4"/><circle cx="134.9" cy="265.7" r="1.4"/><circle cx="133.2" cy="261.8" r="1.4"/><circle cx="135.7" cy="265.7" r="1.4"/><circle cx="134.5" cy="261.8" r="1.4"/><circle cx="133.6" cy="257.8" r="1.4"/><circle cx="133.0" cy="253.9" r="1.4"/><circle cx="133.0" cy="250.0" r="1.4"/><circle cx="133.0" cy="246.0" r="1.4"/><circle cx="133.3" cy="242.1" r="1.4"/><circle cx="133.7" cy="238.2" r="1.4"/><circle cx="134.0" cy="234.2" r="1.4"/><circle cx="134.3" cy="230.3" r="1.4"/><circle cx="134.5" cy="226.4" r="1.4"/><circle cx="134.7" cy="222.4" r="1.4"/><circle cx="134.7" cy="218.5" r="1.4"/><circle cx="134.7" cy="214.6" r="1.4"/><circle cx="135.3" cy="210.6" r="1.4"/><circle cx="136.0" cy="206.7" r="1.4"/><circle cx="143.3" cy="293.2" r="1.4"/><circle cx="142.7" cy="289.3" r="1.4"/><circle cx="142.7" cy="285.4" r="1.4"/><circle cx="142.9" cy="281.4" r="1.4"/><circle cx="143.4" cy="277.5" r="1.4"/><circle cx="177.3" cy="277.5" r="1.4"/><circle cx="181.7" cy="250.0" r="1.4"/><circle cx="182.2" cy="246.0" r="1.4"/><circle cx="182.8" cy="242.1" r="1.4"/><circle cx="183.1" cy="238.2" r="1.4"/><circle cx="193.7" cy="218.5" r="1.4"/><circle cx="192.2" cy="214.6" r="1.4"/><circle cx="191.7" cy="210.6" r="1.4"/><circle cx="191.3" cy="206.7" r="1.4"/><circle cx="206.0" cy="242.1" r="1.4"/><circle cx="204.8" cy="238.2" r="1.4"/><circle cx="203.6" cy="234.2" r="1.4"/><circle cx="226.5" cy="246.0" r="1.4"/><circle cx="227.2" cy="242.1" r="1.4"/><circle cx="212.8" cy="238.2" r="1.4"/><circle cx="212.8" cy="234.2" r="1.4"/><circle cx="248.3" cy="431.0" r="1.4"/><circle cx="248.7" cy="427.0" r="1.4"/><circle cx="250.2" cy="415.2" r="1.4"/><circle cx="251.5" cy="411.3" r="1.4"/><circle cx="248.6" cy="446.7" r="1.4"/></g>
<g fill="#440154" fill-opacity="0.70"><circle cx="136.5" cy="112.2" r="1.4"/><circle cx="137.0" cy="108.3" r="1.4"/><circle cx="137.5" cy="104.4" r="1.4"/><circle cx="138.0" cy="100.4" r="1.4"/><circle cx="139.9" cy="431.0" r="1.4"/><circle cx="137.7" cy="427.0" r="1.4"/><circle cx="136.6" cy="352.3" r="1.4"/><circle cx="136.8" cy="348.3" r="1.4"/><circle cx="137.1" cy="344.4" r="1.4"/><circle cx="137.4" cy="340.5" r="1.4"/><circle cx="137.6" cy="336.5" r="1.4"/><circle cx="137.9" cy="332.6" r="1.4"/><circle cx="138.1" cy="328.7" r="1.4"/><circle cx="138.3" cy="324.7" r="1.4"/><circle cx="138.6" cy="320.8" r="1.4"/><circle cx="138.6" cy="316.9" r="1.4"/><circle cx="138.6" cy="312.9" r="1.4"/><circle cx="138.6" cy="309.0" r="1.4"/><circle cx="138.6" cy="305.1" r="1.4"/><circle cx="138.5" cy="301.1" r="1.4"/><circle cx="138.3" cy="297.2" r="1.4"/><circle cx="138.2" cy="293.2" r="1.4"/><circle cx="138.0" cy="289.3" r="1.4"/><circle cx="137.8" cy="285.4" r="1.4"/><circle cx="137.6" cy="281.4" r="1.4"/><circle cx="137.2" cy="277.5" r="1.4"/><circle cx="136.7" cy="273.6" r="1.4"/><circle cx="137.2" cy="446.7" r="1.4"/><circle cx="139.9" cy="277.5" r="1.4"/><circle cx="138.7" cy="273.6" r="1.4"/><circle cx="137.2" cy="269.6" r="1.4"/><circle cx="136.6" cy="202.7" r="1.4"/><circle cx="137.3" cy="198.8" r="1.4"/><circle cx="137.7" cy="194.9" r="1.4"/><circle cx="138.2" cy="190.9" r="1.4"/><circle cx="138.6" cy="187.0" r="1.4"/><circle cx="139.0" cy="183.1" r="1.4"/><circle cx="139.5" cy="179.1" r="1.4"/><circle cx="139.9" cy="175.2" r="1.4"/><circle cx="147.2" cy="320.8" r="1.4"/><circle cx="146.7" cy="316.9" r="1.4"/><circle cx="146.2" cy="312.9" r="1.4"/><circle cx="145.8" cy="309.0" r="1.4"/><circle cx="145.3" cy="305.1" r="1.4"/><circle cx="144.7" cy="301.1" r="1.4"/><circle cx="144.0" cy="297.2" r="1.4"/><circle cx="143.9" cy="273.6" r="1.4"/><circle cx="144.6" cy="269.6" r="1.4"/><circle cx="145.3" cy="265.7" r="1.4"/><circle cx="145.6" cy="261.8" r="1.4"/><circle cx="145.9" cy="257.8" r="1.4"/><circle cx="146.2" cy="253.9" r="1.4"/><circle cx="146.6" cy="250.0" r="1.4"/><circle cx="147.0" cy="246.0" r="1.4"/><circle cx="147.5" cy="242.1" r="1.4"/><circle cx="177.6" cy="273.6" r="1.4"/><circle cx="183.4" cy="234.2" r="1.4"/><circle cx="183.7" cy="230.3" r="1.4"/><circle cx="184.0" cy="226.4" r="1.4"/><circle cx="198.1" cy="230.3" r="1.4"/><circle cx="196.6" cy="226.4" r="1.4"/><circle cx="195.2" cy="222.4" r="1.4"/><circle cx="208.5" cy="250.0" r="1.4"/><circle cx="207.3" cy="246.0" r="1.4"/><circle cx="225.3" cy="253.9" r="1.4"/><circle cx="225.9" cy="250.0" r="1.4"/><circle cx="212.4" cy="246.0" r="1.4"/><circle cx="212.7" cy="242.1" r="1.4"/><circle cx="245.0" cy="438.8" r="1.4"/><circle cx="246.7" cy="434.9" r="1.4"/><circle cx="252.3" cy="407.4" r="1.4"/></g>
<g fill="#440154" fill-opacity="0.95"><circle cx="157.1" cy="486.1" r="1.4"/><circle cx="154.4" cy="482.1" r="1.4"/><circle cx="155.9" cy="466.4" r="1.4"/><circle cx="156.9" cy="364.1" r="1.4"/><circle cx="155.8" cy="360.1" r="1.4"/><circle cx="154.8" cy="356.2" r="1.4"/><circle cx="156.9" cy="427.0" r="1.4"/><circle cx="155.4" cy="423.1" r="1.4"/><circle cx="166.9" cy="478.2" r="1.4"/><circle cx="165.1" cy="474.3" r="1.4"/><circle cx="178.7" cy="427.0" r="1.4"/><circle cx="180.7" cy="423.1" r="1.4"/><circle cx="182.7" cy="419.2" r="1.4"/><circle cx="184.3" cy="415.2" r="1.4"/><circle cx="186.4" cy="411.3" r="1.4"/><circle cx="188.1" cy="407.4" r="1.4"/><circle cx="189.0" cy="403.4" r="1.4"/><circle cx="190.3" cy="399.5" r="1.4"/><circle cx="191.9" cy="395.6" r="1.4"/><circle cx="193.5" cy="391.6" r="1.4"/><circle cx="195.0" cy="387.7" r="1.4"/><circle cx="196.6" cy="383.8" r="1.4"/><circle cx="198.2" cy="379.8" r="1.4"/><circle cx="199.7" cy="375.9" r="1.4"/><circle cx="201.1" cy="371.9" r="1.4"/><circle cx="202.4" cy="368.0" r="1.4"/><circle cx="203.6" cy="364.1" r="1.4"/><circle cx="204.6" cy="360.1" r="1.4"/><circle cx="205.4" cy="356.2" r="1.4"/><circle cx="206.2" cy="352.3" r="1.4"/><circle cx="206.6" cy="348.3" r="1.4"/><circle cx="207.1" cy="344.4" r="1.4"/><circle cx="207.7" cy="340.5" r="1.4"/><circle cx="208.3" cy="336.5" r="1.4"/><circle cx="208.6" cy="332.6" r="1.4"/><circle cx="208.8" cy="328.7" r="1.4"/><circle cx="209.0" cy="324.7" r="1.4"/><circle cx="209.3" cy="320.8" r="1.4"/><circle cx="209.5" cy="316.9" r="1.4"/><circle cx="175.0" cy="438.8" r="1.4"/><circle cx="177.1" cy="434.9" r="1.4"/><circle cx="179.4" cy="431.0" r="1.4"/><circle cx="182.0" cy="427.0" r="1.4"/><circle cx="184.3" cy="423.1" r="1.4"/><circle cx="186.3" cy="419.2" r="1.4"/><circle cx="188.5" cy="415.2" r="1.4"/><circle cx="190.7" cy="411.3" r="1.4"/><circle cx="192.4" cy="407.4" r="1.4"/><circle cx="193.2" cy="403.4" r="1.4"/><circle cx="194.4" cy="399.5" r="1.4"/><circle cx="196.0" cy="395.6" r="1.4"/><circle cx="197.6" cy="391.6" r="1.4"/><circle cx="199.1" cy="387.7" r="1.4"/><circle cx="200.6" cy="383.8" r="1.4"/><circle cx="201.7" cy="379.8" r="1.4"/><circle cx="202.8" cy="375.9" r="1.4"/><circle cx="203.8" cy="371.9" r="1.4"/><circle cx="204.7" cy="368.0" r="1.4"/><circle cx="205.5" cy="364.1" r="1.4"/><circle cx="206.3" cy="360.1" r="1.4"/><circle cx="206.7" cy="356.2" r="1.4"/><circle cx="207.1" cy="352.3" r="1.4"/><circle cx="207.8" cy="348.3" r="1.4"/></g>
<g fill="#440154" fill-opacity="0.90"><circle cx="153.1" cy="478.2" r="1.4"/><circle cx="152.1" cy="474.3" r="1.4"/><circle cx="151.8" cy="470.3" r="1.4"/><circle cx="151.6" cy="466.4" r="1.4"/><circle cx="151.6" cy="462.5" r="1.4"/><circle cx="151.6" cy="458.5" r="1.4"/><circle cx="151.6" cy="454.6" r="1.4"/><circle cx="152.1" cy="450.6" r="1.4"/><circle cx="152.5" cy="446.7" r="1.4"/><circle cx="153.5" cy="462.5" r="1.4"/><circle cx="151.0" cy="458.5" r="1.4"/><circle cx="153.8" cy="352.3" r="1.4"/><circle cx="152.8" cy="348.3" r="1.4"/><circle cx="151.8" cy="344.4" r="1.4"/><circle cx="150.6" cy="340.5" r="1.4"/><circle cx="153.4" cy="419.2" r="1.4"/><circle cx="151.6" cy="415.2" r="1.4"/><circle cx="162.5" cy="470.3" r="1.4"/><circle cx="160.0" cy="434.9" r="1.4"/><circle cx="160.2" cy="431.0" r="1.4"/><circle cx="160.4" cy="427.0" r="1.4"/><circle cx="160.4" cy="423.1" r="1.4"/><circle cx="160.3" cy="419.2" r="1.4"/><circle cx="160.2" cy="415.2" r="1.4"/><circle cx="159.9" cy="411.3" r="1.4"/><circle cx="209.7" cy="312.9" r="1.4"/><circle cx="210.0" cy="309.0" r="1.4"/><circle cx="210.1" cy="305.1" r="1.4"/><circle cx="210.3" cy="301.1" r="1.4"/><circle cx="210.4" cy="297.2" r="1.4"/><circle cx="210.4" cy="293.2" r="1.4"/><circle cx="210.4" cy="289.3" r="1.4"/><circle cx="210.2" cy="285.4" r="1.4"/><circle cx="209.9" cy="281.4" r="1.4"/><circle cx="209.3" cy="277.5" r="1.4"/><circle cx="208.7" cy="273.6" r="1.4"/><circle cx="208.1" cy="269.6" r="1.4"/><circle cx="207.5" cy="265.7" r="1.4"/><circle cx="207.1" cy="261.8" r="1.4"/><circle cx="206.7" cy="257.8" r="1.4"/><circle cx="208.5" cy="344.4" r="1.4"/><circle cx="209.2" cy="340.5" r="1.4"/><circle cx="209.9" cy="336.5" r="1.4"/><circle cx="210.6" cy="332.6" r="1.4"/><circle cx="211.4" cy="328.7" r="1.4"/><circle cx="212.1" cy="324.7" r="1.4"/><circle cx="212.9" cy="320.8" r="1.4"/><circle cx="213.7" cy="316.9" r="1.4"/><circle cx="214.4" cy="312.9" r="1.4"/><circle cx="215.1" cy="309.0" r="1.4"/><circle cx="215.8" cy="305.1" r="1.4"/><circle cx="216.5" cy="301.1" r="1.4"/><circle cx="217.3" cy="297.2" r="1.4"/><circle cx="237.1" cy="336.5" r="1.4"/><circle cx="235.1" cy="332.6" r="1.4"/><circle cx="233.1" cy="328.7" r="1.4"/><circle cx="231.2" cy="324.7" r="1.4"/><circle cx="229.2" cy="320.8" r="1.4"/><circle cx="227.2" cy="316.9" r="1.4"/><circle cx="225.7" cy="312.9" r="1.4"/><circle cx="224.2" cy="309.0" r="1.4"/><circle cx="222.8" cy="305.1" r="1.4"/><circle cx="221.3" cy="301.1" r="1.4"/><circle cx="219.9" cy="297.2" r="1.4"/><circle cx="218.4" cy="293.2" r="1.4"/><circle cx="234.5" cy="336.5" r="1.4"/><circle cx="232.5" cy="332.6" r="1.4"/><circle cx="230.5" cy="328.7" r="1.4"/><circle cx="228.6" cy="324.7" r="1.4"/><circle cx="226.6" cy="320.8" r="1.4"/><circle cx="224.6" cy="316.9" r="1.4"/><circle cx="223.1" cy="312.9" r="1.4"/><circle cx="221.6" cy="309.0" r="1.4"/><circle cx="220.2" cy="305.1" r="1.4"/><circle cx="218.7" cy="301.1" r="1.4"/><circle cx="217.3" cy="297.2" r="1.4"/><circle cx="215.8" cy="293.2" r="1.4"/><circle cx="255.3" cy="391.6" r="1.4"/><circle cx="254.0" cy="387.7" r="1.4"/><circle cx="252.8" cy="383.8" r="1.4"/><circle cx="251.7" cy="379.8" r="1.4"/><circle cx="250.6" cy="375.9" r="1.4"/><circle cx="249.5" cy="371.9" r="1.4"/><circle cx="248.2" cy="368.0" r="1.4"/><circle cx="246.7" cy="364.1" r="1.4"/><circle cx="245.1" cy="360.1" r="1.4"/><circle cx="243.7" cy="356.2" r="1.4"/><circle cx="242.2" cy="352.3" r="1.4"/><circle cx="240.5" cy="348.3" r="1.4"/><circle cx="238.8" cy="344.4" r="1.4"/><circle cx="236.6" cy="340.5" r="1.4"/><circle cx="255.6" cy="387.7" r="1.4"/><circle cx="254.9" cy="383.8" r="1.4"/><circle cx="254.2" cy="379.8" r="1.4"/><circle cx="253.4" cy="375.9" r="1.4"/><circle cx="252.4" cy="371.9" r="1.4"/><circle cx="251.2" cy="368.0" r="1.4"/><circle cx="249.7" cy="364.1" r="1.4"/><circle cx="248.1" cy="360.1" r="1.4"/><circle cx="246.7" cy="356.2" r="1.4"/><circle cx="245.2" cy="352.3" r="1.4"/><circle cx="243.3" cy="348.3" r="1.4"/><circle cx="241.3" cy="344.4" r="1.4"/><circle cx="239.5" cy="340.5" r="1.4"/><circle cx="238.5" cy="446.7" r="1.4"/></g>
<g fill="#440154" fill-opacity="0.85"><circle cx="149.6" cy="442.8" r="1.4"/><circle cx="149.4" cy="336.5" r="1.4"/><circle cx="150.4" cy="411.3" r="1.4"/><circle cx="149.2" cy="407.4" r="1.4"/><circle cx="148.1" cy="403.4" r="1.4"/><circle cx="147.1" cy="399.5" r="1.4"/><circle cx="159.9" cy="466.4" r="1.4"/><circle cx="156.8" cy="462.5" r="1.4"/><circle cx="156.1" cy="458.5" r="1.4"/><circle cx="156.4" cy="446.7" r="1.4"/><circle cx="157.9" cy="442.8" r="1.4"/><circle cx="159.5" cy="438.8" r="1.4"/><circle cx="159.7" cy="407.4" r="1.4"/><circle cx="159.2" cy="403.4" r="1.4"/><circle cx="158.7" cy="399.5" r="1.4"/><circle cx="158.2" cy="395.6" r="1.4"/><circle cx="157.7" cy="391.6" r="1.4"/><circle cx="157.1" cy="387.7" r="1.4"/><circle cx="156.5" cy="383.8" r="1.4"/><circle cx="155.8" cy="379.8" r="1.4"/><circle cx="178.6" cy="261.8" r="1.4"/><circle cx="179.1" cy="257.8" r="1.4"/><circle cx="179.6" cy="253.9" r="1.4"/><circle cx="180.1" cy="250.0" r="1.4"/><circle cx="180.6" cy="246.0" r="1.4"/><circle cx="181.2" cy="242.1" r="1.4"/><circle cx="181.4" cy="238.2" r="1.4"/><circle cx="181.6" cy="234.2" r="1.4"/><circle cx="181.8" cy="230.3" r="1.4"/><circle cx="182.0" cy="226.4" r="1.4"/><circle cx="182.1" cy="222.4" r="1.4"/><circle cx="182.3" cy="218.5" r="1.4"/><circle cx="182.5" cy="214.6" r="1.4"/><circle cx="182.7" cy="210.6" r="1.4"/><circle cx="182.8" cy="206.7" r="1.4"/><circle cx="182.9" cy="202.7" r="1.4"/><circle cx="182.9" cy="198.8" r="1.4"/><circle cx="183.0" cy="194.9" r="1.4"/><circle cx="183.0" cy="190.9" r="1.4"/><circle cx="183.1" cy="187.0" r="1.4"/><circle cx="183.1" cy="183.1" r="1.4"/><circle cx="183.2" cy="179.1" r="1.4"/><circle cx="183.3" cy="175.2" r="1.4"/><circle cx="183.4" cy="171.3" r="1.4"/><circle cx="183.4" cy="167.3" r="1.4"/><circle cx="183.5" cy="163.4" r="1.4"/><circle cx="183.7" cy="159.5" r="1.4"/><circle cx="184.2" cy="155.5" r="1.4"/><circle cx="184.8" cy="151.6" r="1.4"/><circle cx="185.4" cy="147.7" r="1.4"/><circle cx="186.0" cy="143.7" r="1.4"/><circle cx="186.5" cy="139.8" r="1.4"/><circle cx="186.9" cy="135.8" r="1.4"/><circle cx="187.3" cy="131.9" r="1.4"/><circle cx="187.8" cy="128.0" r="1.4"/><circle cx="188.2" cy="124.0" r="1.4"/><circle cx="188.6" cy="120.1" r="1.4"/><circle cx="189.1" cy="116.2" r="1.4"/><circle cx="189.5" cy="112.2" r="1.4"/><circle cx="190.0" cy="108.3" r="1.4"/><circle cx="190.4" cy="104.4" r="1.4"/><circle cx="190.8" cy="100.4" r="1.4"/><circle cx="205.6" cy="253.9" r="1.4"/><circle cx="204.3" cy="250.0" r="1.4"/><circle cx="211.1" cy="269.6" r="1.4"/><circle cx="218.3" cy="293.2" r="1.4"/><circle cx="219.3" cy="289.3" r="1.4"/><circle cx="220.4" cy="285.4" r="1.4"/><circle cx="221.3" cy="281.4" r="1.4"/><circle cx="216.7" cy="289.3" r="1.4"/><circle cx="214.8" cy="285.4" r="1.4"/><circle cx="213.7" cy="281.4" r="1.4"/><circle cx="212.6" cy="277.5" r="1.4"/><circle cx="211.5" cy="273.6" r="1.4"/><circle cx="214.1" cy="289.3" r="1.4"/><circle cx="212.2" cy="285.4" r="1.4"/><circle cx="211.1" cy="281.4" r="1.4"/></g>
<g fill="#440154" fill-opacity="0.80"><circle cx="145.7" cy="438.8" r="1.4"/><circle cx="145.6" cy="454.6" r="1.4"/><circle cx="146.3" cy="395.6" r="1.4"/><circle cx="145.6" cy="391.6" r="1.4"/><circle cx="145.1" cy="387.7" r="1.4"/><circle cx="144.8" cy="383.8" r="1.4"/><circle cx="144.5" cy="379.8" r="1.4"/><circle cx="144.2" cy="375.9" r="1.4"/><circle cx="144.1" cy="371.9" r="1.4"/><circle cx="144.0" cy="368.0" r="1.4"/><circle cx="143.8" cy="364.1" r="1.4"/><circle cx="144.0" cy="360.1" r="1.4"/><circle cx="144.2" cy="356.2" r="1.4"/><circle cx="144.4" cy="352.3" r="1.4"/><circle cx="144.4" cy="348.3" r="1.4"/><circle cx="144.2" cy="344.4" r="1.4"/><circle cx="144.0" cy="340.5" r="1.4"/><circle cx="143.8" cy="336.5" r="1.4"/><circle cx="143.6" cy="332.6" r="1.4"/><circle cx="143.6" cy="131.9" r="1.4"/><circle cx="143.9" cy="128.0" r="1.4"/><circle cx="144.2" cy="124.0" r="1.4"/><circle cx="144.5" cy="120.1" r="1.4"/><circle cx="144.7" cy="116.2" r="1.4"/><circle cx="145.0" cy="112.2" r="1.4"/><circle cx="145.2" cy="108.3" r="1.4"/><circle cx="145.5" cy="104.4" r="1.4"/><circle cx="145.7" cy="100.4" r="1.4"/><circle cx="155.5" cy="454.6" r="1.4"/><circle cx="155.3" cy="450.6" r="1.4"/><circle cx="155.2" cy="375.9" r="1.4"/><circle cx="154.5" cy="371.9" r="1.4"/><circle cx="153.9" cy="368.0" r="1.4"/><circle cx="153.5" cy="364.1" r="1.4"/><circle cx="153.1" cy="360.1" r="1.4"/><circle cx="152.8" cy="356.2" r="1.4"/><circle cx="152.5" cy="352.3" r="1.4"/><circle cx="151.9" cy="348.3" r="1.4"/><circle cx="178.3" cy="265.7" r="1.4"/><circle cx="185.4" cy="206.7" r="1.4"/><circle cx="185.5" cy="202.7" r="1.4"/><circle cx="185.7" cy="198.8" r="1.4"/><circle cx="185.8" cy="194.9" r="1.4"/><circle cx="186.0" cy="190.9" r="1.4"/><circle cx="186.1" cy="187.0" r="1.4"/><circle cx="186.2" cy="183.1" r="1.4"/><circle cx="186.4" cy="179.1" r="1.4"/><circle cx="186.4" cy="175.2" r="1.4"/><circle cx="186.5" cy="171.3" r="1.4"/><circle cx="186.5" cy="167.3" r="1.4"/><circle cx="186.6" cy="163.4" r="1.4"/><circle cx="186.6" cy="159.5" r="1.4"/><circle cx="187.1" cy="155.5" r="1.4"/><circle cx="187.6" cy="151.6" r="1.4"/><circle cx="188.1" cy="147.7" r="1.4"/><circle cx="188.5" cy="143.7" r="1.4"/><circle cx="189.0" cy="139.8" r="1.4"/><circle cx="189.4" cy="135.8" r="1.4"/><circle cx="189.8" cy="131.9" r="1.4"/><circle cx="190.3" cy="128.0" r="1.4"/><circle cx="190.7" cy="124.0" r="1.4"/><circle cx="191.1" cy="120.1" r="1.4"/><circle cx="191.6" cy="116.2" r="1.4"/><circle cx="192.0" cy="112.2" r="1.4"/><circle cx="192.5" cy="108.3" r="1.4"/><circle cx="192.9" cy="104.4" r="1.4"/><circle cx="193.3" cy="100.4" r="1.4"/><circle cx="203.0" cy="246.0" r="1.4"/><circle cx="202.0" cy="242.1" r="1.4"/><circle cx="211.1" cy="265.7" r="1.4"/><circle cx="211.1" cy="261.8" r="1.4"/><circle cx="221.9" cy="277.5" r="1.4"/><circle cx="222.4" cy="273.6" r="1.4"/><circle cx="223.0" cy="269.6" r="1.4"/><circle cx="211.2" cy="269.6" r="1.4"/><circle cx="211.3" cy="265.7" r="1.4"/><circle cx="211.5" cy="261.8" r="1.4"/><circle cx="211.6" cy="257.8" r="1.4"/><circle cx="210.0" cy="277.5" r="1.4"/><circle cx="208.9" cy="273.6" r="1.4"/><circle cx="241.8" cy="442.8" r="1.4"/><circle cx="254.3" cy="395.6" r="1.4"/><circle cx="246.2" cy="450.6" r="1.4"/></g>
<g fill="#440154" fill-opacity="0.75"><circle cx="142.5" cy="434.9" r="1.4"/><circle cx="140.9" cy="450.6" r="1.4"/><circle cx="143.4" cy="328.7" r="1.4"/><circle cx="143.2" cy="324.7" r="1.4"/><circle cx="143.0" cy="320.8" r="1.4"/><circle cx="142.7" cy="316.9" r="1.4"/><circle cx="142.4" cy="312.9" r="1.4"/><circle cx="142.1" cy="309.0" r="1.4"/><circle cx="141.8" cy="305.1" r="1.4"/><circle cx="141.6" cy="301.1" r="1.4"/><circle cx="141.6" cy="297.2" r="1.4"/><circle cx="141.5" cy="293.2" r="1.4"/><circle cx="141.4" cy="289.3" r="1.4"/><circle cx="141.2" cy="285.4" r="1.4"/><circle cx="140.7" cy="281.4" r="1.4"/><circle cx="140.3" cy="171.3" r="1.4"/><circle cx="140.7" cy="167.3" r="1.4"/><circle cx="141.2" cy="163.4" r="1.4"/><circle cx="141.6" cy="159.5" r="1.4"/><circle cx="141.9" cy="155.5" r="1.4"/><circle cx="142.2" cy="151.6" r="1.4"/><circle cx="142.4" cy="147.7" r="1.4"/><circle cx="142.7" cy="143.7" r="1.4"/><circle cx="143.0" cy="139.8" r="1.4"/><circle cx="143.3" cy="135.8" r="1.4"/><circle cx="151.1" cy="344.4" r="1.4"/><circle cx="150.2" cy="340.5" r="1.4"/><circle cx="149.3" cy="336.5" r="1.4"/><circle cx="148.7" cy="332.6" r="1.4"/><circle cx="148.2" cy="328.7" r="1.4"/><circle cx="147.7" cy="324.7" r="1.4"/><circle cx="147.9" cy="238.2" r="1.4"/><circle cx="148.2" cy="234.2" r="1.4"/><circle cx="148.6" cy="230.3" r="1.4"/><circle cx="148.9" cy="226.4" r="1.4"/><circle cx="149.2" cy="222.4" r="1.4"/><circle cx="149.5" cy="218.5" r="1.4"/><circle cx="149.8" cy="214.6" r="1.4"/><circle cx="150.2" cy="210.6" r="1.4"/><circle cx="150.4" cy="206.7" r="1.4"/><circle cx="150.7" cy="202.7" r="1.4"/><circle cx="151.0" cy="198.8" r="1.4"/><circle cx="151.3" cy="194.9" r="1.4"/><circle cx="177.9" cy="269.6" r="1.4"/><circle cx="184.3" cy="222.4" r="1.4"/><circle cx="184.6" cy="218.5" r="1.4"/><circle cx="184.9" cy="214.6" r="1.4"/><circle cx="185.2" cy="210.6" r="1.4"/><circle cx="201.0" cy="238.2" r="1.4"/><circle cx="199.6" cy="234.2" r="1.4"/><circle cx="211.1" cy="257.8" r="1.4"/><circle cx="209.8" cy="253.9" r="1.4"/><circle cx="223.7" cy="265.7" r="1.4"/><circle cx="224.2" cy="261.8" r="1.4"/><circle cx="224.7" cy="257.8" r="1.4"/><circle cx="211.9" cy="253.9" r="1.4"/><circle cx="212.1" cy="250.0" r="1.4"/><circle cx="252.9" cy="403.4" r="1.4"/><circle cx="253.4" cy="399.5" r="1.4"/></g>
<g fill="#440154" fill-opacity="1.00"><circle cx="169.0" cy="486.1" r="1.4"/><circle cx="167.5" cy="482.1" r="1.4"/><circle cx="165.2" cy="478.2" r="1.4"/><circle cx="162.4" cy="474.3" r="1.4"/><circle cx="159.1" cy="470.3" r="1.4"/><circle cx="169.3" cy="486.1" r="1.4"/><circle cx="168.5" cy="482.1" r="1.4"/><circle cx="167.6" cy="478.2" r="1.4"/><circle cx="166.9" cy="474.3" r="1.4"/><circle cx="166.1" cy="470.3" r="1.4"/><circle cx="165.3" cy="466.4" r="1.4"/><circle cx="164.5" cy="462.5" r="1.4"/><circle cx="163.8" cy="458.5" r="1.4"/><circle cx="163.2" cy="454.6" r="1.4"/><circle cx="162.6" cy="450.6" r="1.4"/><circle cx="162.2" cy="446.7" r="1.4"/><circle cx="161.9" cy="442.8" r="1.4"/><circle cx="161.7" cy="438.8" r="1.4"/><circle cx="161.6" cy="434.9" r="1.4"/><circle cx="161.5" cy="431.0" r="1.4"/><circle cx="161.5" cy="427.0" r="1.4"/><circle cx="161.5" cy="423.1" r="1.4"/><circle cx="161.5" cy="419.2" r="1.4"/><circle cx="161.5" cy="415.2" r="1.4"/><circle cx="161.4" cy="411.3" r="1.4"/><circle cx="161.2" cy="407.4" r="1.4"/><circle cx="161.1" cy="403.4" r="1.4"/><circle cx="160.9" cy="399.5" r="1.4"/><circle cx="160.8" cy="395.6" r="1.4"/><circle cx="160.6" cy="391.6" r="1.4"/><circle cx="160.3" cy="387.7" r="1.4"/><circle cx="160.0" cy="383.8" r="1.4"/><circle cx="159.5" cy="379.8" r="1.4"/><circle cx="159.0" cy="375.9" r="1.4"/><circle cx="158.4" cy="371.9" r="1.4"/><circle cx="157.8" cy="368.0" r="1.4"/><circle cx="168.6" cy="486.1" r="1.4"/><circle cx="168.0" cy="482.1" r="1.4"/><circle cx="167.3" cy="478.2" r="1.4"/><circle cx="166.5" cy="474.3" r="1.4"/><circle cx="165.7" cy="470.3" r="1.4"/><circle cx="165.0" cy="466.4" r="1.4"/><circle cx="164.2" cy="462.5" r="1.4"/><circle cx="163.4" cy="458.5" r="1.4"/><circle cx="162.1" cy="454.6" r="1.4"/><circle cx="161.2" cy="450.6" r="1.4"/><circle cx="160.4" cy="446.7" r="1.4"/><circle cx="159.6" cy="442.8" r="1.4"/><circle cx="159.1" cy="438.8" r="1.4"/><circle cx="158.5" cy="434.9" r="1.4"/><circle cx="157.8" cy="431.0" r="1.4"/><circle cx="169.1" cy="486.1" r="1.4"/><circle cx="168.2" cy="482.1" r="1.4"/><circle cx="170.6" cy="486.1" r="1.4"/><circle cx="170.7" cy="482.1" r="1.4"/><circle cx="170.8" cy="478.2" r="1.4"/><circle cx="170.9" cy="474.3" r="1.4"/><circle cx="171.0" cy="470.3" r="1.4"/><circle cx="171.1" cy="466.4" r="1.4"/><circle cx="171.3" cy="462.5" r="1.4"/><circle cx="171.5" cy="458.5" r="1.4"/><circle cx="171.6" cy="454.6" r="1.4"/><circle cx="172.2" cy="450.6" r="1.4"/><circle cx="172.9" cy="446.7" r="1.4"/><circle cx="173.6" cy="442.8" r="1.4"/><circle cx="174.4" cy="438.8" r="1.4"/><circle cx="175.9" cy="434.9" r="1.4"/><circle cx="177.0" cy="431.0" r="1.4"/><circle cx="170.9" cy="466.4" r="1.4"/><circle cx="171.0" cy="462.5" r="1.4"/><circle cx="171.1" cy="458.5" r="1.4"/><circle cx="171.2" cy="454.6" r="1.4"/><circle cx="171.5" cy="450.6" r="1.4"/><circle cx="172.2" cy="446.7" r="1.4"/><circle cx="172.8" cy="442.8" r="1.4"/><circle cx="181.0" cy="482.1" r="1.4"/><circle cx="186.3" cy="478.2" r="1.4"/><circle cx="190.8" cy="474.3" r="1.4"/><circle cx="195.3" cy="470.3" r="1.4"/><circle cx="199.4" cy="466.4" r="1.4"/><circle cx="203.5" cy="462.5" r="1.4"/><circle cx="207.4" cy="458.5" r="1.4"/><circle cx="211.2" cy="454.6" r="1.4"/><circle cx="215.0" cy="450.6" r="1.4"/><circle cx="218.8" cy="446.7" r="1.4"/><circle cx="222.2" cy="442.8" r="1.4"/><circle cx="225.6" cy="438.8" r="1.4"/><circle cx="228.9" cy="434.9" r="1.4"/><circle cx="232.1" cy="431.0" r="1.4"/><circle cx="235.3" cy="427.0" r="1.4"/><circle cx="238.4" cy="423.1" r="1.4"/><circle cx="240.8" cy="419.2" r="1.4"/><circle cx="243.3" cy="415.2" r="1.4"/><circle cx="245.4" cy="411.3" r="1.4"/><circle cx="247.5" cy="407.4" r="1.4"/><circle cx="249.5" cy="403.4" r="1.4"/><circle cx="251.4" cy="399.5" r="1.4"/><circle cx="253.5" cy="395.6" r="1.4"/><circle cx="186.8" cy="486.1" r="1.4"/><circle cx="191.3" cy="482.1" r="1.4"/><circle cx="197.1" cy="478.2" r="1.4"/><circle cx="202.6" cy="474.3" r="1.4"/><circle cx="208.0" cy="470.3" r="1.4"/><circle cx="213.2" cy="466.4" r="1.4"/><circle cx="218.4" cy="462.5" r="1.4"/><circle cx="223.9" cy="458.5" r="1.4"/><circle cx="229.3" cy="454.6" r="1.4"/><circle cx="233.9" cy="450.6" r="1.4"/><circle cx="189.4" cy="486.1" r="1.4"/><circle cx="195.4" cy="482.1" r="1.4"/><circle cx="203.3" cy="478.2" r="1.4"/><circle cx="210.9" cy="474.3" r="1.4"/><circle cx="218.5" cy="470.3" r="1.4"/><circle cx="226.2" cy="466.4" r="1.4"/><circle cx="233.7" cy="462.5" r="1.4"/><circle cx="238.8" cy="458.5" r="1.4"/><circle cx="243.8" cy="454.6" r="1.4"/></g>
<g fill="#25848e" fill-opacity="0.20"><circle cx="104.0" cy="116.2" r="1.4"/><circle cx="104.2" cy="112.2" r="1.4"/><circle cx="104.3" cy="108.3" r="1.4"/><circle cx="104.4" cy="104.4" r="1.4"/><circle cx="104.6" cy="100.4" r="1.4"/></g>
<g fill="#460a5d" fill-opacity="0.75"><circle cx="151.4" cy="190.9" r="1.4"/></g>
<g fill="#481467" fill-opacity="0.75"><circle cx="151.6" cy="187.0" r="1.4"/></g>
<g fill="#481d6f" fill-opacity="0.75"><circle cx="151.7" cy="183.1" r="1.4"/></g>
<g fill="#482677" fill-opacity="0.80"><circle cx="151.9" cy="179.1" r="1.4"/><circle cx="189.4" cy="179.1" r="1.4"/></g>
<g fill="#472e7c" fill-opacity="0.80"><circle cx="152.0" cy="175.2" r="1.4"/><circle cx="189.7" cy="175.2" r="1.4"/></g>
<g fill="#453781" fill-opacity="0.80"><circle cx="152.1" cy="171.3" r="1.4"/><circle cx="190.0" cy="171.3" r="1.4"/></g>
<g fill="#423f85" fill-opacity="0.80"><circle cx="152.3" cy="167.3" r="1.4"/><circle cx="190.4" cy="167.3" r="1.4"/></g>
<g fill="#3f4889" fill-opacity="0.80"><circle cx="152.4" cy="163.4" r="1.4"/><circle cx="190.7" cy="163.4" r="1.4"/></g>
<g fill="#3a538b" fill-opacity="0.80"><circle cx="152.6" cy="159.5" r="1.4"/><circle cx="191.0" cy="159.5" r="1.4"/></g>
<g fill="#355e8d" fill-opacity="0.80"><circle cx="152.7" cy="155.5" r="1.4"/><circle cx="191.5" cy="155.5" r="1.4"/></g>
<g fill="#31688e" fill-opacity="0.80"><circle cx="152.8" cy="151.6" r="1.4"/><circle cx="192.0" cy="151.6" r="1.4"/></g>
<g fill="#2c718e" fill-opacity="0.80"><circle cx="153.0" cy="147.7" r="1.4"/><circle cx="192.5" cy="147.7" r="1.4"/></g>
<g fill="#297a8e" fill-opacity="0.80"><circle cx="153.1" cy="143.7" r="1.4"/><circle cx="192.9" cy="143.7" r="1.4"/></g>
<g fill="#26818e" fill-opacity="0.80"><circle cx="153.2" cy="139.8" r="1.4"/><circle cx="193.5" cy="139.8" r="1.4"/></g>
<g fill="#24878e" fill-opacity="0.80"><circle cx="153.3" cy="135.8" r="1.4"/><circle cx="194.0" cy="135.8" r="1.4"/></g>
<g fill="#228d8d" fill-opacity="0.80"><circle cx="153.5" cy="131.9" r="1.4"/><circle cx="194.5" cy="131.9" r="1.4"/></g>
<g fill="#20938c" fill-opacity="0.80"><circle cx="153.6" cy="128.0" r="1.4"/><circle cx="195.0" cy="128.0" r="1.4"/></g>
<g fill="#1f9a8a" fill-opacity="0.80"><circle cx="153.7" cy="124.0" r="1.4"/><circle cx="195.5" cy="124.0" r="1.4"/></g>
<g fill="#1fa088" fill-opacity="0.80"><circle cx="153.7" cy="120.1" r="1.4"/><circle cx="196.0" cy="120.1" r="1.4"/></g>
<g fill="#21a685" fill-opacity="0.80"><circle cx="153.8" cy="116.2" r="1.4"/><circle cx="196.4" cy="116.2" r="1.4"/></g>
<g fill="#25ac82" fill-opacity="0.80"><circle cx="153.8" cy="112.2" r="1.4"/><circle cx="196.7" cy="112.2" r="1.4"/></g>
<g fill="#2ab07f" fill-opacity="0.80"><circle cx="153.9" cy="108.3" r="1.4"/><circle cx="197.1" cy="108.3" r="1.4"/></g>
<g fill="#31b57b" fill-opacity="0.80"><circle cx="153.9" cy="104.4" r="1.4"/><circle cx="197.4" cy="104.4" r="1.4"/></g>
<g fill="#38b977" fill-opacity="0.80"><circle cx="154.0" cy="100.4" r="1.4"/><circle cx="197.8" cy="100.4" r="1.4"/></g>
<g fill="#fde725" fill-opacity="0.20"><circle cx="105.8" cy="482.1" r="1.4"/><circle cx="105.8" cy="478.2" r="1.4"/><circle cx="105.9" cy="474.3" r="1.4"/><circle cx="105.9" cy="470.3" r="1.4"/><circle cx="106.0" cy="466.4" r="1.4"/><circle cx="106.0" cy="462.5" r="1.4"/><circle cx="106.1" cy="458.5" r="1.4"/><circle cx="106.1" cy="454.6" r="1.4"/><circle cx="106.2" cy="450.6" r="1.4"/><circle cx="106.3" cy="446.7" r="1.4"/><circle cx="106.5" cy="442.8" r="1.4"/><circle cx="106.6" cy="438.8" r="1.4"/><circle cx="106.1" cy="277.5" r="1.4"/><circle cx="104.9" cy="273.6" r="1.4"/><circle cx="103.7" cy="269.6" r="1.4"/><circle cx="175.5" cy="356.2" r="1.4"/><circle cx="216.6" cy="269.6" r="1.4"/><circle cx="215.5" cy="265.7" r="1.4"/><circle cx="214.5" cy="261.8" r="1.4"/></g>
<g fill="#fde725" fill-opacity="0.25"><circle cx="106.8" cy="434.9" r="1.4"/><circle cx="107.0" cy="431.0" r="1.4"/><circle cx="107.1" cy="427.0" r="1.4"/><circle cx="107.3" cy="423.1" r="1.4"/><circle cx="107.5" cy="419.2" r="1.4"/><circle cx="107.8" cy="415.2" r="1.4"/><circle cx="108.2" cy="411.3" r="1.4"/><circle cx="108.5" cy="407.4" r="1.4"/><circle cx="108.9" cy="403.4" r="1.4"/><circle cx="109.2" cy="399.5" r="1.4"/><circle cx="109.5" cy="395.6" r="1.4"/><circle cx="109.8" cy="391.6" r="1.4"/><circle cx="110.1" cy="387.7" r="1.4"/><circle cx="110.4" cy="383.8" r="1.4"/><circle cx="110.8" cy="379.8" r="1.4"/><circle cx="110.0" cy="289.3" r="1.4"/><circle cx="108.5" cy="285.4" r="1.4"/><circle cx="107.3" cy="281.4" r="1.4"/><circle cx="175.6" cy="352.3" r="1.4"/><circle cx="219.3" cy="277.5" r="1.4"/><circle cx="217.8" cy="273.6" r="1.4"/></g>
<g fill="#fde725" fill-opacity="0.30"><circle cx="111.1" cy="375.9" r="1.4"/><circle cx="111.3" cy="371.9" r="1.4"/><circle cx="111.5" cy="368.0" r="1.4"/><circle cx="111.7" cy="364.1" r="1.4"/><circle cx="111.9" cy="360.1" r="1.4"/><circle cx="112.1" cy="356.2" r="1.4"/><circle cx="112.3" cy="352.3" r="1.4"/><circle cx="112.5" cy="348.3" r="1.4"/><circle cx="112.6" cy="344.4" r="1.4"/><circle cx="112.7" cy="340.5" r="1.4"/><circle cx="112.8" cy="336.5" r="1.4"/><circle cx="112.9" cy="332.6" r="1.4"/><circle cx="113.1" cy="328.7" r="1.4"/><circle cx="113.2" cy="324.7" r="1.4"/><circle cx="113.4" cy="320.8" r="1.4"/><circle cx="113.5" cy="316.9" r="1.4"/><circle cx="113.7" cy="312.9" r="1.4"/><circle cx="114.0" cy="309.0" r="1.4"/><circle cx="114.3" cy="305.1" r="1.4"/><circle cx="114.6" cy="301.1" r="1.4"/><circle cx="114.0" cy="297.2" r="1.4"/><circle cx="112.0" cy="293.2" r="1.4"/><circle cx="114.8" cy="486.1" r="1.4"/><circle cx="175.8" cy="348.3" r="1.4"/><circle cx="221.5" cy="289.3" r="1.4"/><circle cx="221.0" cy="285.4" r="1.4"/><circle cx="220.4" cy="281.4" r="1.4"/></g>
<g fill="#fde725" fill-opacity="0.35"><circle cx="115.0" cy="297.2" r="1.4"/><circle cx="115.3" cy="293.2" r="1.4"/><circle cx="115.6" cy="289.3" r="1.4"/><circle cx="116.0" cy="285.4" r="1.4"/><circle cx="116.4" cy="281.4" r="1.4"/><circle cx="116.8" cy="277.5" r="1.4"/><circle cx="116.9" cy="273.6" r="1.4"/><circle cx="117.0" cy="269.6" r="1.4"/><circle cx="117.4" cy="265.7" r="1.4"/><circle cx="117.8" cy="261.8" r="1.4"/><circle cx="118.1" cy="257.8" r="1.4"/><circle cx="118.4" cy="253.9" r="1.4"/><circle cx="119.0" cy="250.0" r="1.4"/><circle cx="117.5" cy="305.1" r="1.4"/><circle cx="115.8" cy="301.1" r="1.4"/><circle cx="115.0" cy="482.1" r="1.4"/><circle cx="115.2" cy="478.2" r="1.4"/><circle cx="115.4" cy="474.3" r="1.4"/><circle cx="115.5" cy="470.3" r="1.4"/><circle cx="115.7" cy="466.4" r="1.4"/><circle cx="115.9" cy="462.5" r="1.4"/><circle cx="116.1" cy="458.5" r="1.4"/><circle cx="116.2" cy="454.6" r="1.4"/><circle cx="116.4" cy="450.6" r="1.4"/><circle cx="116.6" cy="446.7" r="1.4"/><circle cx="116.8" cy="442.8" r="1.4"/><circle cx="117.0" cy="438.8" r="1.4"/><circle cx="117.3" cy="434.9" r="1.4"/><circle cx="117.5" cy="431.0" r="1.4"/><circle cx="117.8" cy="427.0" r="1.4"/><circle cx="118.0" cy="423.1" r="1.4"/><circle cx="118.3" cy="419.2" r="1.4"/><circle cx="118.5" cy="415.2" r="1.4"/><circle cx="175.9" cy="344.4" r="1.4"/><circle cx="222.6" cy="297.2" r="1.4"/><circle cx="222.1" cy="293.2" r="1.4"/></g>
<g fill="#fde725" fill-opacity="0.40"><circle cx="119.4" cy="246.0" r="1.4"/><circle cx="119.5" cy="242.1" r="1.4"/><circle cx="119.5" cy="238.2" r="1.4"/><circle cx="119.6" cy="234.2" r="1.4"/><circle cx="119.9" cy="230.3" r="1.4"/><circle cx="120.2" cy="226.4" r="1.4"/><circle cx="120.5" cy="222.4" r="1.4"/><circle cx="120.9" cy="218.5" r="1.4"/><circle cx="121.2" cy="214.6" r="1.4"/><circle cx="121.5" cy="210.6" r="1.4"/><circle cx="121.9" cy="206.7" r="1.4"/><circle cx="122.3" cy="202.7" r="1.4"/><circle cx="122.6" cy="198.8" r="1.4"/><circle cx="122.9" cy="194.9" r="1.4"/><circle cx="121.3" cy="312.9" r="1.4"/><circle cx="119.3" cy="309.0" r="1.4"/><circle cx="119.1" cy="411.3" r="1.4"/><circle cx="119.6" cy="407.4" r="1.4"/><circle cx="120.0" cy="403.4" r="1.4"/><circle cx="120.3" cy="399.5" r="1.4"/><circle cx="120.6" cy="395.6" r="1.4"/><circle cx="120.9" cy="391.6" r="1.4"/><circle cx="121.3" cy="387.7" r="1.4"/><circle cx="121.6" cy="383.8" r="1.4"/><circle cx="122.0" cy="379.8" r="1.4"/><circle cx="122.3" cy="375.9" r="1.4"/><circle cx="122.8" cy="371.9" r="1.4"/><circle cx="176.1" cy="340.5" r="1.4"/><circle cx="224.9" cy="309.0" r="1.4"/><circle cx="224.2" cy="305.1" r="1.4"/><circle cx="223.4" cy="301.1" r="1.4"/></g>
<g fill="#fde725" fill-opacity="0.45"><circle cx="123.2" cy="190.9" r="1.4"/><circle cx="123.6" cy="187.0" r="1.4"/><circle cx="123.9" cy="183.1" r="1.4"/><circle cx="124.2" cy="179.1" r="1.4"/><circle cx="124.5" cy="175.2" r="1.4"/><circle cx="124.9" cy="171.3" r="1.4"/><circle cx="125.1" cy="167.3" r="1.4"/><circle cx="125.3" cy="163.4" r="1.4"/><circle cx="125.5" cy="159.5" r="1.4"/><circle cx="125.7" cy="155.5" r="1.4"/><circle cx="126.0" cy="151.6" r="1.4"/><circle cx="126.2" cy="147.7" r="1.4"/><circle cx="126.8" cy="143.7" r="1.4"/><circle cx="127.1" cy="139.8" r="1.4"/><circle cx="126.2" cy="324.7" r="1.4"/><circle cx="124.8" cy="320.8" r="1.4"/><circle cx="123.3" cy="316.9" r="1.4"/><circle cx="123.2" cy="368.0" r="1.4"/><circle cx="123.5" cy="364.1" r="1.4"/><circle cx="123.7" cy="360.1" r="1.4"/><circle cx="124.0" cy="356.2" r="1.4"/><circle cx="124.2" cy="352.3" r="1.4"/><circle cx="124.6" cy="348.3" r="1.4"/><circle cx="124.9" cy="344.4" r="1.4"/><circle cx="125.5" cy="340.5" r="1.4"/><circle cx="126.2" cy="336.5" r="1.4"/><circle cx="126.8" cy="332.6" r="1.4"/><circle cx="176.3" cy="336.5" r="1.4"/><circle cx="176.6" cy="332.6" r="1.4"/><circle cx="226.2" cy="320.8" r="1.4"/><circle cx="225.9" cy="316.9" r="1.4"/><circle cx="225.5" cy="312.9" r="1.4"/></g>
<g fill="#fde725" fill-opacity="0.50"><circle cx="127.5" cy="135.8" r="1.4"/><circle cx="127.8" cy="131.9" r="1.4"/><circle cx="128.1" cy="128.0" r="1.4"/><circle cx="128.3" cy="124.0" r="1.4"/><circle cx="128.5" cy="120.1" r="1.4"/><circle cx="128.8" cy="116.2" r="1.4"/><circle cx="129.1" cy="112.2" r="1.4"/><circle cx="129.4" cy="108.3" r="1.4"/><circle cx="129.7" cy="104.4" r="1.4"/><circle cx="130.0" cy="100.4" r="1.4"/><circle cx="128.1" cy="324.7" r="1.4"/><circle cx="128.7" cy="320.8" r="1.4"/><circle cx="129.2" cy="316.9" r="1.4"/><circle cx="129.7" cy="312.9" r="1.4"/><circle cx="130.2" cy="309.0" r="1.4"/><circle cx="130.7" cy="305.1" r="1.4"/><circle cx="131.0" cy="301.1" r="1.4"/><circle cx="127.5" cy="328.7" r="1.4"/><circle cx="129.5" cy="332.6" r="1.4"/><circle cx="127.6" cy="328.7" r="1.4"/><circle cx="176.9" cy="328.7" r="1.4"/><circle cx="177.3" cy="324.7" r="1.4"/><circle cx="177.6" cy="320.8" r="1.4"/><circle cx="177.9" cy="316.9" r="1.4"/><circle cx="178.1" cy="312.9" r="1.4"/><circle cx="227.0" cy="328.7" r="1.4"/><circle cx="226.6" cy="324.7" r="1.4"/></g>
<g fill="#fde725" fill-opacity="0.15"><circle cx="102.5" cy="265.7" r="1.4"/><circle cx="101.6" cy="261.8" r="1.4"/><circle cx="100.8" cy="257.8" r="1.4"/><circle cx="100.1" cy="253.9" r="1.4"/><circle cx="99.4" cy="250.0" r="1.4"/><circle cx="98.7" cy="246.0" r="1.4"/><circle cx="98.8" cy="139.8" r="1.4"/><circle cx="99.0" cy="135.8" r="1.4"/><circle cx="99.3" cy="131.9" r="1.4"/><circle cx="99.5" cy="128.0" r="1.4"/><circle cx="99.8" cy="124.0" r="1.4"/><circle cx="100.0" cy="120.1" r="1.4"/><circle cx="100.2" cy="116.2" r="1.4"/><circle cx="100.4" cy="112.2" r="1.4"/><circle cx="100.6" cy="108.3" r="1.4"/><circle cx="100.7" cy="104.4" r="1.4"/><circle cx="100.9" cy="100.4" r="1.4"/><circle cx="175.3" cy="360.1" r="1.4"/><circle cx="213.2" cy="257.8" r="1.4"/><circle cx="211.7" cy="253.9" r="1.4"/><circle cx="210.2" cy="250.0" r="1.4"/><circle cx="208.8" cy="246.0" r="1.4"/></g>
<g fill="#fde725" fill-opacity="0.10"><circle cx="98.1" cy="242.1" r="1.4"/><circle cx="97.5" cy="238.2" r="1.4"/><circle cx="97.2" cy="234.2" r="1.4"/><circle cx="96.8" cy="230.3" r="1.4"/><circle cx="96.5" cy="226.4" r="1.4"/><circle cx="96.3" cy="222.4" r="1.4"/><circle cx="96.0" cy="218.5" r="1.4"/><circle cx="95.8" cy="214.6" r="1.4"/><circle cx="95.6" cy="210.6" r="1.4"/><circle cx="95.7" cy="206.7" r="1.4"/><circle cx="95.8" cy="202.7" r="1.4"/><circle cx="95.8" cy="198.8" r="1.4"/><circle cx="95.9" cy="194.9" r="1.4"/><circle cx="96.0" cy="190.9" r="1.4"/><circle cx="96.1" cy="187.0" r="1.4"/><circle cx="96.3" cy="183.1" r="1.4"/><circle cx="96.5" cy="179.1" r="1.4"/><circle cx="96.7" cy="175.2" r="1.4"/><circle cx="96.9" cy="171.3" r="1.4"/><circle cx="97.2" cy="167.3" r="1.4"/><circle cx="97.4" cy="163.4" r="1.4"/><circle cx="97.6" cy="159.5" r="1.4"/><circle cx="97.9" cy="155.5" r="1.4"/><circle cx="98.1" cy="151.6" r="1.4"/><circle cx="98.3" cy="147.7" r="1.4"/><circle cx="98.6" cy="143.7" r="1.4"/><circle cx="175.2" cy="364.1" r="1.4"/><circle cx="207.3" cy="242.1" r="1.4"/><circle cx="205.8" cy="238.2" r="1.4"/><circle cx="204.6" cy="234.2" r="1.4"/><circle cx="203.6" cy="230.3" r="1.4"/><circle cx="202.6" cy="226.4" r="1.4"/><circle cx="201.6" cy="222.4" r="1.4"/><circle cx="200.7" cy="218.5" r="1.4"/></g>
<g fill="#fde725" fill-opacity="0.55"><circle cx="131.3" cy="297.2" r="1.4"/><circle cx="131.7" cy="293.2" r="1.4"/><circle cx="132.1" cy="289.3" r="1.4"/><circle cx="132.9" cy="285.4" r="1.4"/><circle cx="133.7" cy="281.4" r="1.4"/><circle cx="134.4" cy="277.5" r="1.4"/><circle cx="135.1" cy="273.6" r="1.4"/><circle cx="133.9" cy="340.5" r="1.4"/><circle cx="131.5" cy="336.5" r="1.4"/><circle cx="178.4" cy="309.0" r="1.4"/><circle cx="178.7" cy="305.1" r="1.4"/><circle cx="179.0" cy="301.1" r="1.4"/><circle cx="179.2" cy="297.2" r="1.4"/><circle cx="179.5" cy="293.2" r="1.4"/><circle cx="179.8" cy="289.3" r="1.4"/><circle cx="180.0" cy="285.4" r="1.4"/><circle cx="180.3" cy="281.4" r="1.4"/><circle cx="227.5" cy="336.5" r="1.4"/><circle cx="227.3" cy="332.6" r="1.4"/></g>
<g fill="#fde725" fill-opacity="0.60"><circle cx="135.7" cy="269.6" r="1.4"/><circle cx="136.2" cy="265.7" r="1.4"/><circle cx="136.7" cy="261.8" r="1.4"/><circle cx="137.3" cy="257.8" r="1.4"/><circle cx="137.8" cy="253.9" r="1.4"/><circle cx="138.0" cy="250.0" r="1.4"/><circle cx="138.3" cy="246.0" r="1.4"/><circle cx="138.9" cy="242.1" r="1.4"/><circle cx="139.4" cy="238.2" r="1.4"/><circle cx="137.8" cy="348.3" r="1.4"/><circle cx="135.7" cy="344.4" r="1.4"/><circle cx="180.5" cy="277.5" r="1.4"/><circle cx="180.7" cy="273.6" r="1.4"/><circle cx="181.0" cy="269.6" r="1.4"/><circle cx="181.4" cy="265.7" r="1.4"/><circle cx="181.7" cy="261.8" r="1.4"/><circle cx="182.0" cy="257.8" r="1.4"/><circle cx="182.4" cy="253.9" r="1.4"/><circle cx="182.8" cy="250.0" r="1.4"/><circle cx="227.2" cy="344.4" r="1.4"/><circle cx="227.4" cy="340.5" r="1.4"/></g>
<g fill="#fde725" fill-opacity="0.65"><circle cx="139.9" cy="234.2" r="1.4"/><circle cx="140.3" cy="230.3" r="1.4"/><circle cx="140.8" cy="226.4" r="1.4"/><circle cx="141.2" cy="222.4" r="1.4"/><circle cx="141.6" cy="218.5" r="1.4"/><circle cx="142.1" cy="214.6" r="1.4"/><circle cx="142.5" cy="210.6" r="1.4"/><circle cx="143.0" cy="206.7" r="1.4"/><circle cx="143.5" cy="202.7" r="1.4"/><circle cx="142.0" cy="356.2" r="1.4"/><circle cx="139.8" cy="352.3" r="1.4"/><circle cx="183.2" cy="246.0" r="1.4"/><circle cx="183.6" cy="242.1" r="1.4"/><circle cx="184.0" cy="238.2" r="1.4"/><circle cx="184.4" cy="234.2" r="1.4"/><circle cx="184.8" cy="230.3" r="1.4"/><circle cx="185.2" cy="226.4" r="1.4"/><circle cx="185.6" cy="222.4" r="1.4"/><circle cx="186.0" cy="218.5" r="1.4"/><circle cx="225.9" cy="352.3" r="1.4"/><circle cx="226.5" cy="348.3" r="1.4"/></g>
<g fill="#fde725" fill-opacity="0.70"><circle cx="144.0" cy="198.8" r="1.4"/><circle cx="144.5" cy="194.9" r="1.4"/><circle cx="144.9" cy="190.9" r="1.4"/><circle cx="145.3" cy="187.0" r="1.4"/><circle cx="145.7" cy="183.1" r="1.4"/><circle cx="146.1" cy="179.1" r="1.4"/><circle cx="146.5" cy="175.2" r="1.4"/><circle cx="146.9" cy="171.3" r="1.4"/><circle cx="147.2" cy="167.3" r="1.4"/><circle cx="147.6" cy="163.4" r="1.4"/><circle cx="146.3" cy="364.1" r="1.4"/><circle cx="144.2" cy="360.1" r="1.4"/><circle cx="186.3" cy="214.6" r="1.4"/><circle cx="186.7" cy="210.6" r="1.4"/><circle cx="187.2" cy="206.7" r="1.4"/><circle cx="187.7" cy="202.7" r="1.4"/><circle cx="188.2" cy="198.8" r="1.4"/><circle cx="188.7" cy="194.9" r="1.4"/><circle cx="189.2" cy="190.9" r="1.4"/><circle cx="189.7" cy="187.0" r="1.4"/><circle cx="190.3" cy="183.1" r="1.4"/><circle cx="190.8" cy="179.1" r="1.4"/><circle cx="191.4" cy="175.2" r="1.4"/><circle cx="191.9" cy="171.3" r="1.4"/><circle cx="224.0" cy="364.1" r="1.4"/><circle cx="224.8" cy="360.1" r="1.4"/><circle cx="225.3" cy="356.2" r="1.4"/></g>
<g fill="#fde725" fill-opacity="0.75"><circle cx="148.0" cy="159.5" r="1.4"/><circle cx="148.2" cy="155.5" r="1.4"/><circle cx="148.4" cy="151.6" r="1.4"/><circle cx="148.6" cy="147.7" r="1.4"/><circle cx="148.8" cy="143.7" r="1.4"/><circle cx="149.0" cy="139.8" r="1.4"/><circle cx="149.2" cy="135.8" r="1.4"/><circle cx="149.4" cy="131.9" r="1.4"/><circle cx="149.6" cy="128.0" r="1.4"/><circle cx="149.8" cy="124.0" r="1.4"/><circle cx="150.0" cy="120.1" r="1.4"/><circle cx="150.2" cy="116.2" r="1.4"/><circle cx="150.4" cy="112.2" r="1.4"/><circle cx="150.6" cy="108.3" r="1.4"/><circle cx="150.7" cy="104.4" r="1.4"/><circle cx="150.9" cy="100.4" r="1.4"/><circle cx="151.2" cy="375.9" r="1.4"/><circle cx="149.7" cy="371.9" r="1.4"/><circle cx="148.0" cy="368.0" r="1.4"/><circle cx="192.5" cy="167.3" r="1.4"/><circle cx="193.1" cy="163.4" r="1.4"/><circle cx="193.6" cy="159.5" r="1.4"/><circle cx="194.1" cy="155.5" r="1.4"/><circle cx="194.6" cy="151.6" r="1.4"/><circle cx="195.1" cy="147.7" r="1.4"/><circle cx="195.5" cy="143.7" r="1.4"/><circle cx="196.1" cy="139.8" r="1.4"/><circle cx="196.6" cy="135.8" r="1.4"/><circle cx="197.1" cy="131.9" r="1.4"/><circle cx="197.6" cy="128.0" r="1.4"/><circle cx="198.1" cy="124.0" r="1.4"/><circle cx="198.6" cy="120.1" r="1.4"/><circle cx="199.0" cy="116.2" r="1.4"/><circle cx="199.4" cy="112.2" r="1.4"/><circle cx="199.7" cy="108.3" r="1.4"/><circle cx="219.3" cy="379.8" r="1.4"/><circle cx="220.7" cy="375.9" r="1.4"/><circle cx="222.1" cy="371.9" r="1.4"/><circle cx="223.3" cy="368.0" r="1.4"/></g>
<g fill="#fde725" fill-opacity="1.00"><circle cx="169.2" cy="486.1" r="1.4"/><circle cx="168.7" cy="482.1" r="1.4"/><circle cx="168.4" cy="478.2" r="1.4"/><circle cx="173.0" cy="486.1" r="1.4"/><circle cx="174.8" cy="482.1" r="1.4"/><circle cx="176.6" cy="478.2" r="1.4"/><circle cx="178.3" cy="474.3" r="1.4"/><circle cx="180.1" cy="470.3" r="1.4"/><circle cx="181.9" cy="466.4" r="1.4"/></g>
<g fill="#fde725" fill-opacity="0.95"><circle cx="168.0" cy="474.3" r="1.4"/><circle cx="167.7" cy="470.3" r="1.4"/><circle cx="167.4" cy="466.4" r="1.4"/><circle cx="167.1" cy="462.5" r="1.4"/><circle cx="166.7" cy="458.5" r="1.4"/><circle cx="166.4" cy="454.6" r="1.4"/><circle cx="166.1" cy="450.6" r="1.4"/><circle cx="165.8" cy="446.7" r="1.4"/><circle cx="165.4" cy="442.8" r="1.4"/><circle cx="165.1" cy="438.8" r="1.4"/><circle cx="164.8" cy="434.9" r="1.4"/><circle cx="164.5" cy="431.0" r="1.4"/><circle cx="164.1" cy="427.0" r="1.4"/><circle cx="183.7" cy="462.5" r="1.4"/><circle cx="185.4" cy="458.5" r="1.4"/><circle cx="187.2" cy="454.6" r="1.4"/><circle cx="189.0" cy="450.6" r="1.4"/><circle cx="190.8" cy="446.7" r="1.4"/><circle cx="192.5" cy="442.8" r="1.4"/><circle cx="194.3" cy="438.8" r="1.4"/><circle cx="196.1" cy="434.9" r="1.4"/><circle cx="197.8" cy="431.0" r="1.4"/><circle cx="199.6" cy="427.0" r="1.4"/></g>
<g fill="#fde725" fill-opacity="0.90"><circle cx="163.8" cy="423.1" r="1.4"/><circle cx="163.4" cy="419.2" r="1.4"/><circle cx="162.8" cy="415.2" r="1.4"/><circle cx="162.1" cy="411.3" r="1.4"/><circle cx="161.4" cy="407.4" r="1.4"/><circle cx="160.5" cy="403.4" r="1.4"/><circle cx="201.4" cy="423.1" r="1.4"/><circle cx="203.2" cy="419.2" r="1.4"/><circle cx="204.9" cy="415.2" r="1.4"/><circle cx="206.7" cy="411.3" r="1.4"/></g>
<g fill="#fde725" fill-opacity="0.85"><circle cx="159.5" cy="399.5" r="1.4"/><circle cx="158.2" cy="395.6" r="1.4"/><circle cx="156.8" cy="391.6" r="1.4"/><circle cx="208.5" cy="407.4" r="1.4"/><circle cx="210.3" cy="403.4" r="1.4"/><circle cx="212.0" cy="399.5" r="1.4"/><circle cx="213.6" cy="395.6" r="1.4"/></g>
<g fill="#fde725" fill-opacity="0.80"><circle cx="155.4" cy="387.7" r="1.4"/><circle cx="154.1" cy="383.8" r="1.4"/><circle cx="152.7" cy="379.8" r="1.4"/><circle cx="200.1" cy="104.4" r="1.4"/><circle cx="200.5" cy="100.4" r="1.4"/><circle cx="215.1" cy="391.6" r="1.4"/><circle cx="216.5" cy="387.7" r="1.4"/><circle cx="217.9" cy="383.8" r="1.4"/></g>
<g fill="#96541c" fill-opacity="0.15"><circle cx="117.8" cy="261.8" r="1.4"/></g>
<g fill="#96541c" fill-opacity="0.20"><circle cx="118.1" cy="257.8" r="1.4"/><circle cx="126.2" cy="147.7" r="1.4"/></g>
<g fill="#96541c" fill-opacity="0.25"><circle cx="118.4" cy="253.9" r="1.4"/></g>
<g fill="#96541c" fill-opacity="0.35"><circle cx="119.0" cy="250.0" r="1.4"/><circle cx="172.0" cy="450.6" r="1.4"/></g>
<g fill="#96541c" fill-opacity="0.40"><circle cx="119.4" cy="246.0" r="1.4"/><circle cx="125.7" cy="155.5" r="1.4"/></g>
<g fill="#96541c" fill-opacity="0.45"><circle cx="119.5" cy="242.1" r="1.4"/><circle cx="172.1" cy="446.7" r="1.4"/></g>
<g fill="#96541c" fill-opacity="0.50"><circle cx="119.5" cy="238.2" r="1.4"/><circle cx="119.6" cy="234.2" r="1.4"/><circle cx="119.9" cy="230.3" r="1.4"/><circle cx="120.2" cy="226.4" r="1.4"/><circle cx="120.5" cy="222.4" r="1.4"/><circle cx="120.9" cy="218.5" r="1.4"/><circle cx="121.2" cy="214.6" r="1.4"/><circle cx="121.5" cy="210.6" r="1.4"/><circle cx="121.9" cy="206.7" r="1.4"/><circle cx="122.3" cy="202.7" r="1.4"/><circle cx="122.6" cy="198.8" r="1.4"/><circle cx="122.9" cy="194.9" r="1.4"/><circle cx="123.2" cy="190.9" r="1.4"/><circle cx="123.6" cy="187.0" r="1.4"/><circle cx="123.9" cy="183.1" r="1.4"/><circle cx="124.2" cy="179.1" r="1.4"/><circle cx="124.5" cy="175.2" r="1.4"/><circle cx="124.9" cy="171.3" r="1.4"/><circle cx="125.1" cy="167.3" r="1.4"/><circle cx="125.3" cy="163.4" r="1.4"/><circle cx="125.5" cy="159.5" r="1.4"/></g>
<g fill="#96541c" fill-opacity="0.30"><circle cx="126.0" cy="151.6" r="1.4"/></g>
<g fill="#355f8d" fill-opacity="0.15"><circle cx="102.1" cy="163.4" r="1.4"/><circle cx="102.2" cy="159.5" r="1.4"/><circle cx="102.4" cy="155.5" r="1.4"/><circle cx="102.5" cy="151.6" r="1.4"/><circle cx="102.7" cy="147.7" r="1.4"/></g>
<g fill="#355f8d" fill-opacity="0.20"><circle cx="102.8" cy="143.7" r="1.4"/><circle cx="102.9" cy="139.8" r="1.4"/><circle cx="103.0" cy="135.8" r="1.4"/><circle cx="103.2" cy="131.9" r="1.4"/><circle cx="103.4" cy="128.0" r="1.4"/><circle cx="103.7" cy="124.0" r="1.4"/><circle cx="104.2" cy="120.1" r="1.4"/></g>
<g fill="#96541c" fill-opacity="0.55"><circle cx="172.2" cy="442.8" r="1.4"/></g>
<g fill="#96541c" fill-opacity="0.60"><circle cx="172.3" cy="438.8" r="1.4"/><circle cx="172.4" cy="434.9" r="1.4"/></g>
<g fill="#96541c" fill-opacity="0.65"><circle cx="172.5" cy="431.0" r="1.4"/><circle cx="172.6" cy="427.0" r="1.4"/><circle cx="172.7" cy="423.1" r="1.4"/></g>
<g fill="#96541c" fill-opacity="0.70"><circle cx="172.9" cy="419.2" r="1.4"/><circle cx="173.0" cy="415.2" r="1.4"/><circle cx="173.1" cy="411.3" r="1.4"/><circle cx="173.3" cy="407.4" r="1.4"/></g>
<g fill="#96541c" fill-opacity="0.75"><circle cx="173.4" cy="403.4" r="1.4"/><circle cx="173.5" cy="399.5" r="1.4"/><circle cx="173.5" cy="395.6" r="1.4"/><circle cx="173.6" cy="391.6" r="1.4"/><circle cx="173.6" cy="387.7" r="1.4"/><circle cx="173.6" cy="383.8" r="1.4"/><circle cx="173.7" cy="379.8" r="1.4"/><circle cx="173.7" cy="375.9" r="1.4"/><circle cx="173.7" cy="371.9" r="1.4"/><circle cx="173.7" cy="368.0" r="1.4"/><circle cx="173.8" cy="364.1" r="1.4"/><circle cx="173.8" cy="360.1" r="1.4"/><circle cx="173.9" cy="356.2" r="1.4"/><circle cx="173.9" cy="352.3" r="1.4"/><circle cx="178.2" cy="198.8" r="1.4"/><circle cx="178.3" cy="194.9" r="1.4"/><circle cx="178.4" cy="190.9" r="1.4"/><circle cx="178.5" cy="187.0" r="1.4"/><circle cx="178.6" cy="183.1" r="1.4"/><circle cx="178.7" cy="179.1" r="1.4"/><circle cx="178.8" cy="175.2" r="1.4"/><circle cx="178.9" cy="171.3" r="1.4"/><circle cx="178.9" cy="167.3" r="1.4"/><circle cx="179.0" cy="163.4" r="1.4"/><circle cx="179.1" cy="159.5" r="1.4"/><circle cx="179.2" cy="155.5" r="1.4"/><circle cx="179.3" cy="151.6" r="1.4"/><circle cx="179.4" cy="147.7" r="1.4"/><circle cx="179.5" cy="143.7" r="1.4"/><circle cx="179.6" cy="139.8" r="1.4"/><circle cx="179.7" cy="135.8" r="1.4"/><circle cx="179.9" cy="131.9" r="1.4"/><circle cx="180.0" cy="128.0" r="1.4"/><circle cx="180.2" cy="124.0" r="1.4"/><circle cx="180.3" cy="120.1" r="1.4"/><circle cx="180.5" cy="116.2" r="1.4"/><circle cx="180.6" cy="112.2" r="1.4"/><circle cx="180.8" cy="108.3" r="1.4"/><circle cx="181.0" cy="104.4" r="1.4"/><circle cx="181.1" cy="100.4" r="1.4"/></g>
<g fill="#96541c" fill-opacity="0.80"><circle cx="174.0" cy="348.3" r="1.4"/><circle cx="174.0" cy="344.4" r="1.4"/><circle cx="174.1" cy="340.5" r="1.4"/><circle cx="174.2" cy="336.5" r="1.4"/><circle cx="174.2" cy="332.6" r="1.4"/><circle cx="174.3" cy="328.7" r="1.4"/><circle cx="174.3" cy="324.7" r="1.4"/><circle cx="174.4" cy="320.8" r="1.4"/><circle cx="174.4" cy="316.9" r="1.4"/><circle cx="174.5" cy="312.9" r="1.4"/><circle cx="174.5" cy="309.0" r="1.4"/><circle cx="174.6" cy="305.1" r="1.4"/><circle cx="174.7" cy="301.1" r="1.4"/><circle cx="174.7" cy="297.2" r="1.4"/><circle cx="174.8" cy="293.2" r="1.4"/><circle cx="174.8" cy="289.3" r="1.4"/><circle cx="174.9" cy="285.4" r="1.4"/><circle cx="175.0" cy="281.4" r="1.4"/><circle cx="175.1" cy="277.5" r="1.4"/><circle cx="175.2" cy="273.6" r="1.4"/><circle cx="175.3" cy="269.6" r="1.4"/><circle cx="175.4" cy="265.7" r="1.4"/><circle cx="175.5" cy="261.8" r="1.4"/><circle cx="175.6" cy="257.8" r="1.4"/><circle cx="175.7" cy="253.9" r="1.4"/><circle cx="175.9" cy="250.0" r="1.4"/><circle cx="176.0" cy="246.0" r="1.4"/><circle cx="176.2" cy="242.1" r="1.4"/><circle cx="176.4" cy="238.2" r="1.4"/><circle cx="176.6" cy="234.2" r="1.4"/><circle cx="176.8" cy="230.3" r="1.4"/><circle cx="177.0" cy="226.4" r="1.4"/><circle cx="177.2" cy="222.4" r="1.4"/><circle cx="177.4" cy="218.5" r="1.4"/><circle cx="177.6" cy="214.6" r="1.4"/><circle cx="177.8" cy="210.6" r="1.4"/><circle cx="178.0" cy="206.7" r="1.4"/><circle cx="178.1" cy="202.7" r="1.4"/></g>
<g fill="#2a788e" fill-opacity="0.20"><circle cx="175.4" cy="179.1" r="1.4"/><circle cx="175.4" cy="175.2" r="1.4"/><circle cx="175.4" cy="171.3" r="1.4"/><circle cx="175.4" cy="167.3" r="1.4"/><circle cx="175.4" cy="163.4" r="1.4"/><circle cx="175.4" cy="159.5" r="1.4"/><circle cx="175.4" cy="155.5" r="1.4"/><circle cx="175.4" cy="151.6" r="1.4"/></g>
<g fill="#460a5d" fill-opacity="0.80"><circle cx="190.0" cy="190.9" r="1.4"/></g>
<g fill="#481467" fill-opacity="0.80"><circle cx="189.8" cy="187.0" r="1.4"/></g>
<g fill="#481d6f" fill-opacity="0.80"><circle cx="189.6" cy="183.1" r="1.4"/></g>
<g fill="#fde725" fill-opacity="0.05"><circle cx="175.1" cy="368.0" r="1.4"/><circle cx="199.9" cy="214.6" r="1.4"/><circle cx="199.1" cy="210.6" r="1.4"/><circle cx="198.5" cy="206.7" r="1.4"/><circle cx="197.9" cy="202.7" r="1.4"/><circle cx="197.3" cy="198.8" r="1.4"/><circle cx="196.7" cy="194.9" r="1.4"/><circle cx="196.1" cy="190.9" r="1.4"/></g>
<g fill="#6ece58" fill-opacity="1.00"><circle cx="175.9" cy="486.1" r="1.4"/></g>
</g>
<text x="81.6" y="361.8" class="t" text-anchor="start">EEP</text>
<line x1="102.6" y1="349.6" x2="123.5" y2="331.8" stroke="#000" stroke-width="1.5"/>
<path d="M127.6 328.4 L119.4 330.9 L123.4 335.6 Z" fill="#000"/>
<g clip-path="url(#clipb)">
<path d="M300.1 490.0 L303.1 488.4 L306.0 486.8 L309.0 485.2 L312.0 483.6 L315.0 482.1 L317.9 480.5 L320.9 479.0 L323.9 477.5 L326.9 476.1 L329.8 474.7 L332.8 473.3 L335.8 472.0 L338.7 470.8 L341.7 469.6 L344.7 468.4 L347.7 467.4 L350.6 466.3 L353.6 465.4 L356.6 464.5 L359.5 463.8 L362.5 463.0 L365.5 462.4 L368.5 461.8 L371.4 461.4 L374.4 461.0 L377.4 460.7 L380.4 460.5 L383.3 460.3 L386.3 460.3" fill="none" stroke="#440154" stroke-width="2.35" stroke-linecap="round" stroke-linejoin="round" />
<path d="M300.1 490.0 L303.1 487.7 L306.0 485.4 L309.0 483.2 L312.0 480.9 L315.0 478.7 L317.9 476.6 L320.9 474.4 L323.9 472.3 L326.9 470.3 L329.8 468.3 L332.8 466.4 L335.8 464.5 L338.7 462.7 L341.7 461.0 L344.7 459.4 L347.7 457.9 L350.6 456.5 L353.6 455.2 L356.6 453.9 L359.5 452.8 L362.5 451.8 L365.5 450.9 L368.5 450.1 L371.4 449.4 L374.4 448.9 L377.4 448.5 L380.4 448.1 L383.3 448.0 L386.3 447.9" fill="none" stroke="#440154" stroke-width="2.35" stroke-linecap="round" stroke-linejoin="round" />
<path d="M300.1 489.1 L301.1 488.2 L302.2 487.3 L303.2 486.3 L304.3 485.4 L305.3 484.5 L306.4 483.6 L307.4 482.6 L308.5 481.7 L309.5 480.8 L310.6 479.9 L311.6 479.0 L312.7 478.0 L313.7 477.1 L314.8 476.2 L315.8 475.3 L316.9 474.4 L317.9 473.4 L319.0 472.5 L320.0 471.6 L321.1 470.7 L322.2 469.8 L323.2 468.9 L324.3 467.9 L325.3 467.0 L326.4 466.1 L327.4 465.2 L328.5 464.3 L329.6 463.4 L330.6 462.5 L331.7 461.6 L332.8 460.7 L333.8 459.8 L334.9 458.9 L336.0 458.0 L337.0 457.1 L338.1 456.2 L339.2 455.3 L340.2 454.4 L341.3 453.5 L342.4 452.6 L343.5 451.7 L344.5 450.8 L345.6 449.9 L346.7 449.0 L347.7 448.1 L348.8 447.2 L349.9 446.3 L350.9 445.4 L352.0 444.5 L353.1 443.6 L354.1 442.7 L355.2 441.8 L356.3 440.9 L357.3 440.0 L358.4 439.1 L359.5 438.2 L360.5 437.3 L361.6 436.4 L362.7 435.5 L363.8 434.6 L364.9 433.8 L366.0 432.9 L367.1 432.0 L368.2 431.2 L369.3 430.3 L370.4 429.5 L371.5 428.6 L372.6 427.8 L373.8 427.0 L374.9 426.2 L376.1 425.4 L377.3 424.6 L378.4 423.9 L379.6 423.2 L380.9 422.6 L382.1 422.0 L383.5 421.6 L384.8 421.2 L386.2 420.8" fill="none" stroke="#440154" stroke-width="2.35" stroke-linecap="round" stroke-linejoin="round" />
<path d="M300.1 490.0 L300.9 488.5 L301.7 487.0 L302.5 485.5 L303.4 484.0 L304.2 482.5 L305.0 481.0 L305.8 479.5 L306.6 478.0 L307.4 476.5 L308.2 475.0 L309.0 473.5" fill="none" stroke="#7ad151" stroke-width="2.35" stroke-linecap="round" stroke-linejoin="round" />
<path d="M309.0 473.5 L309.8 472.0 L310.6 470.5 L311.4 469.0 L312.2 467.4 L313.0 465.9 L313.8 464.4 L314.6 462.9 L315.4 461.4 L316.2 459.9 L317.0 458.4 L317.8 456.9" fill="none" stroke="#63cb5f" stroke-width="2.35" stroke-linecap="round" stroke-linejoin="round" />
<path d="M317.8 456.9 L318.6 455.4 L319.4 453.9 L320.2 452.4 L321.0 450.8 L321.8 449.3 L322.5 447.8 L323.3 446.3 L324.1 444.8" fill="none" stroke="#4ec36b" stroke-width="2.35" stroke-linecap="round" stroke-linejoin="round" />
<path d="M324.1 444.8 L324.9 443.3 L325.6 441.7 L326.4 440.2 L327.2 438.7 L327.9 437.1 L328.6 435.6 L329.4 434.1" fill="none" stroke="#3bbb75" stroke-width="2.35" stroke-linecap="round" stroke-linejoin="round" />
<path d="M329.4 434.1 L330.1 432.5 L330.9 431.0 L331.6 429.4 L332.3 427.9 L333.0 426.4 L333.7 424.8 L334.4 423.2 L335.1 421.7" fill="none" stroke="#2cb17e" stroke-width="2.35" stroke-linecap="round" stroke-linejoin="round" />
<path d="M335.1 421.7 L335.8 420.1 L336.5 418.5 L337.1 417.0 L337.8 415.4 L338.4 413.8 L339.0 412.2 L339.7 410.6 L340.3 409.0 L341.0 407.4 L341.6 405.9 L342.3 404.3 L343.1 402.8 L343.9 401.3 L344.7 399.8 L345.5 398.3 L346.4 396.8 L347.3 395.4" fill="none" stroke="#22a884" stroke-width="2.35" stroke-linecap="round" stroke-linejoin="round" />
<path d="M347.3 395.4 L348.2 393.9 L349.2 392.5" fill="none" stroke="#2cb17e" stroke-width="2.35" stroke-linecap="round" stroke-linejoin="round" />
<path d="M349.2 392.5 L350.2 391.1 L351.2 389.8" fill="none" stroke="#3bbb75" stroke-width="2.35" stroke-linecap="round" stroke-linejoin="round" />
<path d="M351.2 389.8 L352.2 388.4 L353.4 387.1" fill="none" stroke="#4ec36b" stroke-width="2.35" stroke-linecap="round" stroke-linejoin="round" />
<path d="M353.4 387.1 L354.5 385.9" fill="none" stroke="#3bbb75" stroke-width="2.35" stroke-linecap="round" stroke-linejoin="round" />
<path d="M354.5 385.9 L355.8 384.7 L357.0 383.6" fill="none" stroke="#2cb17e" stroke-width="2.35" stroke-linecap="round" stroke-linejoin="round" />
<path d="M357.0 383.6 L358.4 382.5" fill="none" stroke="#1f9f88" stroke-width="2.35" stroke-linecap="round" stroke-linejoin="round" />
<path d="M358.4 382.5 L359.8 381.5" fill="none" stroke="#1f958b" stroke-width="2.35" stroke-linecap="round" stroke-linejoin="round" />
<path d="M359.8 381.5 L361.2 380.7" fill="none" stroke="#26828e" stroke-width="2.35" stroke-linecap="round" stroke-linejoin="round" />
<path d="M361.2 380.7 L362.8 379.8" fill="none" stroke="#2e6f8e" stroke-width="2.35" stroke-linecap="round" stroke-linejoin="round" />
<path d="M362.8 379.8 L364.3 379.1" fill="none" stroke="#375a8c" stroke-width="2.35" stroke-linecap="round" stroke-linejoin="round" />
<path d="M364.3 379.1 L365.9 378.4" fill="none" stroke="#414487" stroke-width="2.35" stroke-linecap="round" stroke-linejoin="round" />
<path d="M365.9 378.4 L367.5 377.9" fill="none" stroke="#453781" stroke-width="2.35" stroke-linecap="round" stroke-linejoin="round" />
<path d="M367.5 377.9 L369.2 377.6 L370.8 377.3" fill="none" stroke="#472a7a" stroke-width="2.35" stroke-linecap="round" stroke-linejoin="round" />
<path d="M370.8 377.3 L372.5 377.1" fill="none" stroke="#481d6f" stroke-width="2.35" stroke-linecap="round" stroke-linejoin="round" />
<path d="M372.5 377.1 L374.3 376.9 L376.0 376.8 L377.7 376.7" fill="none" stroke="#471063" stroke-width="2.35" stroke-linecap="round" stroke-linejoin="round" />
<path d="M377.7 376.7 L379.4 376.6 L381.1 376.6 L382.8 376.5 L384.5 376.5 L386.2 376.5" fill="none" stroke="#440154" stroke-width="2.35" stroke-linecap="round" stroke-linejoin="round" />
<path d="M300.1 432.8 L301.4 431.9 L302.7 430.9 L304.0 429.8 L305.2 428.8 L306.3 427.7" fill="none" stroke="#375a8c" stroke-width="2.35" stroke-linecap="round" stroke-linejoin="round" />
<path d="M306.3 427.7 L307.4 426.5 L308.5 425.3 L309.5 424.1 L310.4 422.8 L311.4 421.4 L312.3 420.1 L313.1 418.7 L314.0 417.4 L314.9 416.0" fill="none" stroke="#3c4f8a" stroke-width="2.35" stroke-linecap="round" stroke-linejoin="round" />
<path d="M314.9 416.0 L315.7 414.6 L316.4 413.2 L317.1 411.7 L317.9 410.3 L318.6 408.8" fill="none" stroke="#414487" stroke-width="2.35" stroke-linecap="round" stroke-linejoin="round" />
<path d="M318.6 408.8 L319.2 407.3 L319.9 405.8 L320.6 404.4 L321.3 402.9 L322.1 401.5" fill="none" stroke="#453781" stroke-width="2.35" stroke-linecap="round" stroke-linejoin="round" />
<path d="M322.1 401.5 L322.9 400.1 L323.7 398.8 L324.6 397.5 L325.5 396.2 L326.5 394.8" fill="none" stroke="#472a7a" stroke-width="2.35" stroke-linecap="round" stroke-linejoin="round" />
<path d="M326.5 394.8 L327.5 393.5 L328.5 392.3 L329.6 391.0 L330.8 389.9 L331.9 388.7" fill="none" stroke="#481d6f" stroke-width="2.35" stroke-linecap="round" stroke-linejoin="round" />
<path d="M331.9 388.7 L333.1 387.7 L334.4 386.8 L335.7 385.9 L337.0 384.9 L338.5 384.1" fill="none" stroke="#471063" stroke-width="2.35" stroke-linecap="round" stroke-linejoin="round" />
<path d="M338.5 384.1 L339.9 383.3 L341.4 382.6 L343.0 382.2 L344.5 381.9 L346.1 381.8 L347.7 381.7 L349.3 381.5 L350.9 381.5 L352.6 381.4 L354.2 381.4 L355.8 381.5 L357.4 381.7 L359.0 381.9 L360.6 382.2 L362.1 382.4 L363.7 382.6 L365.3 382.8 L366.9 382.9 L368.6 383.1 L370.2 383.3 L371.8 383.4 L373.4 383.6 L375.0 383.7 L376.6 383.9 L378.2 384.0 L379.8 384.1 L381.4 384.3 L383.0 384.4 L384.6 384.5 L386.2 384.6" fill="none" stroke="#440154" stroke-width="2.35" stroke-linecap="round" stroke-linejoin="round" />
<path d="M300.1 427.3 L301.4 426.3 L302.6 425.2" fill="none" stroke="#1f9f88" stroke-width="2.35" stroke-linecap="round" stroke-linejoin="round" />
<path d="M302.6 425.2 L303.8 424.1 L305.0 423.0 L306.1 421.8 L307.1 420.6 L308.1 419.4 L309.0 418.1" fill="none" stroke="#1f958b" stroke-width="2.35" stroke-linecap="round" stroke-linejoin="round" />
<path d="M309.0 418.1 L309.9 416.7 L310.7 415.3 L311.6 413.9 L312.4 412.5 L313.2 411.1 L314.0 409.7" fill="none" stroke="#228b8d" stroke-width="2.35" stroke-linecap="round" stroke-linejoin="round" />
<path d="M314.0 409.7 L314.7 408.2 L315.5 406.8 L316.3 405.4 L317.0 404.0 L317.7 402.5" fill="none" stroke="#26828e" stroke-width="2.35" stroke-linecap="round" stroke-linejoin="round" />
<path d="M317.7 402.5 L318.4 401.1 L319.1 399.6 L319.8 398.1 L320.5 396.7 L321.2 395.2" fill="none" stroke="#2a788e" stroke-width="2.35" stroke-linecap="round" stroke-linejoin="round" />
<path d="M321.2 395.2 L321.9 393.8 L322.6 392.3 L323.4 390.9 L324.1 389.5 L324.9 388.0" fill="none" stroke="#2e6f8e" stroke-width="2.35" stroke-linecap="round" stroke-linejoin="round" />
<path d="M324.9 388.0 L325.7 386.6 L326.5 385.2 L327.3 383.8 L328.1 382.4 L328.9 381.0 L329.7 379.7" fill="none" stroke="#32648e" stroke-width="2.35" stroke-linecap="round" stroke-linejoin="round" />
<path d="M329.7 379.7 L330.6 378.3 L331.4 376.9 L332.3 375.5 L333.1 374.1 L333.9 372.7 L334.8 371.3" fill="none" stroke="#375a8c" stroke-width="2.35" stroke-linecap="round" stroke-linejoin="round" />
<path d="M334.8 371.3 L335.6 369.9 L336.4 368.4 L337.2 367.0 L338.1 365.6 L338.9 364.2 L339.8 362.8" fill="none" stroke="#3c4f8a" stroke-width="2.35" stroke-linecap="round" stroke-linejoin="round" />
<path d="M339.8 362.8 L340.7 361.5 L341.7 360.2 L342.6 359.0 L343.7 357.9" fill="none" stroke="#414487" stroke-width="2.35" stroke-linecap="round" stroke-linejoin="round" />
<path d="M343.7 357.9 L344.7 356.7 L345.9 355.5 L347.1 354.4" fill="none" stroke="#453781" stroke-width="2.35" stroke-linecap="round" stroke-linejoin="round" />
<path d="M347.1 354.4 L348.4 353.2 L349.8 352.2 L351.1 351.3 L352.5 350.6" fill="none" stroke="#472a7a" stroke-width="2.35" stroke-linecap="round" stroke-linejoin="round" />
<path d="M352.5 350.6 L354.0 350.2 L355.5 349.9 L357.0 349.6" fill="none" stroke="#481d6f" stroke-width="2.35" stroke-linecap="round" stroke-linejoin="round" />
<path d="M357.0 349.6 L358.7 349.3 L360.3 349.2 L362.0 349.0 L363.6 349.0" fill="none" stroke="#471063" stroke-width="2.35" stroke-linecap="round" stroke-linejoin="round" />
<path d="M363.6 349.0 L365.2 349.0 L366.8 349.0 L368.4 349.0 L370.0 349.0 L371.6 349.0 L373.3 349.0 L374.9 349.1 L376.5 349.1 L378.1 349.2 L379.7 349.2 L381.3 349.3 L383.0 349.4 L384.6 349.5 L386.2 349.6" fill="none" stroke="#440154" stroke-width="2.35" stroke-linecap="round" stroke-linejoin="round" />
<path d="M300.1 375.5 L301.2 375.5 L302.3 375.5 L303.4 375.5 L304.5 375.5 L305.7 375.5 L306.8 375.5 L307.9 375.5 L309.0 375.5" fill="none" stroke="#472a7a" stroke-width="2.35" stroke-linecap="round" stroke-linejoin="round" />
<path d="M309.0 375.5 L310.1 375.5 L311.2 375.5 L312.3 375.5 L313.4 375.5 L314.6 375.5 L315.7 375.5 L316.8 375.5 L317.9 375.5 L319.0 375.5 L320.1 375.5 L321.2 375.5 L322.3 375.5 L323.5 375.5 L324.6 375.5 L325.7 375.5 L326.8 375.5" fill="none" stroke="#453781" stroke-width="2.35" stroke-linecap="round" stroke-linejoin="round" />
<path d="M326.8 375.5 L327.9 375.5 L329.0 375.5 L330.1 375.5 L331.2 375.5 L332.4 375.5 L333.5 375.5 L334.6 375.5 L335.7 375.5 L336.8 375.5" fill="none" stroke="#414487" stroke-width="2.35" stroke-linecap="round" stroke-linejoin="round" />
<path d="M336.8 375.5 L337.9 375.5 L339.0 375.4 L340.2 375.4 L341.3 375.3 L342.4 375.3 L343.5 375.2 L344.6 375.1" fill="none" stroke="#3c4f8a" stroke-width="2.35" stroke-linecap="round" stroke-linejoin="round" />
<path d="M344.6 375.1 L345.7 375.1" fill="none" stroke="#375a8c" stroke-width="2.35" stroke-linecap="round" stroke-linejoin="round" />
<path d="M345.7 375.1 L346.8 375.0" fill="none" stroke="#32648e" stroke-width="2.35" stroke-linecap="round" stroke-linejoin="round" />
<path d="M346.8 375.0 L347.9 374.9 L349.0 374.8" fill="none" stroke="#2e6f8e" stroke-width="2.35" stroke-linecap="round" stroke-linejoin="round" />
<path d="M349.0 374.8 L350.1 374.7" fill="none" stroke="#2a788e" stroke-width="2.35" stroke-linecap="round" stroke-linejoin="round" />
<path d="M350.1 374.7 L351.2 374.5" fill="none" stroke="#26828e" stroke-width="2.35" stroke-linecap="round" stroke-linejoin="round" />
<path d="M351.2 374.5 L352.3 374.2" fill="none" stroke="#228b8d" stroke-width="2.35" stroke-linecap="round" stroke-linejoin="round" />
<path d="M352.3 374.2 L353.3 373.8" fill="none" stroke="#1f958b" stroke-width="2.35" stroke-linecap="round" stroke-linejoin="round" />
<path d="M353.3 373.8 L354.4 373.4" fill="none" stroke="#1f9f88" stroke-width="2.35" stroke-linecap="round" stroke-linejoin="round" />
<path d="M354.4 373.4 L355.4 372.9" fill="none" stroke="#22a884" stroke-width="2.35" stroke-linecap="round" stroke-linejoin="round" />
<path d="M355.4 372.9 L356.5 372.5" fill="none" stroke="#3bbb75" stroke-width="2.35" stroke-linecap="round" stroke-linejoin="round" />
<path d="M356.5 372.5 L357.5 372.1 L358.5 371.7 L359.5 371.2" fill="none" stroke="#4ec36b" stroke-width="2.35" stroke-linecap="round" stroke-linejoin="round" />
<path d="M359.5 371.2 L360.5 370.7" fill="none" stroke="#3bbb75" stroke-width="2.35" stroke-linecap="round" stroke-linejoin="round" />
<path d="M360.5 370.7 L361.5 370.3" fill="none" stroke="#2cb17e" stroke-width="2.35" stroke-linecap="round" stroke-linejoin="round" />
<path d="M361.5 370.3 L362.5 369.8" fill="none" stroke="#22a884" stroke-width="2.35" stroke-linecap="round" stroke-linejoin="round" />
<path d="M362.5 369.8 L363.6 369.4" fill="none" stroke="#1f9f88" stroke-width="2.35" stroke-linecap="round" stroke-linejoin="round" />
<path d="M363.6 369.4 L364.6 368.9" fill="none" stroke="#1f958b" stroke-width="2.35" stroke-linecap="round" stroke-linejoin="round" />
<path d="M364.6 368.9 L365.6 368.5" fill="none" stroke="#26828e" stroke-width="2.35" stroke-linecap="round" stroke-linejoin="round" />
<path d="M365.6 368.5 L366.6 368.0" fill="none" stroke="#2a788e" stroke-width="2.35" stroke-linecap="round" stroke-linejoin="round" />
<path d="M366.6 368.0 L367.7 367.6" fill="none" stroke="#2e6f8e" stroke-width="2.35" stroke-linecap="round" stroke-linejoin="round" />
<path d="M367.7 367.6 L368.7 367.3" fill="none" stroke="#375a8c" stroke-width="2.35" stroke-linecap="round" stroke-linejoin="round" />
<path d="M368.7 367.3 L369.8 366.9" fill="none" stroke="#3c4f8a" stroke-width="2.35" stroke-linecap="round" stroke-linejoin="round" />
<path d="M369.8 366.9 L370.8 366.6 L371.9 366.3" fill="none" stroke="#414487" stroke-width="2.35" stroke-linecap="round" stroke-linejoin="round" />
<path d="M371.9 366.3 L373.0 366.0 L374.1 365.8" fill="none" stroke="#453781" stroke-width="2.35" stroke-linecap="round" stroke-linejoin="round" />
<path d="M374.1 365.8 L375.1 365.5" fill="none" stroke="#472a7a" stroke-width="2.35" stroke-linecap="round" stroke-linejoin="round" />
<path d="M375.1 365.5 L376.2 365.3 L377.3 365.2" fill="none" stroke="#481d6f" stroke-width="2.35" stroke-linecap="round" stroke-linejoin="round" />
<path d="M377.3 365.2 L378.4 365.0 L379.6 364.9 L380.7 364.7 L381.8 364.6 L382.9 364.5" fill="none" stroke="#471063" stroke-width="2.35" stroke-linecap="round" stroke-linejoin="round" />
<path d="M382.9 364.5 L384.0 364.4 L385.1 364.4 L386.2 364.3" fill="none" stroke="#440154" stroke-width="2.35" stroke-linecap="round" stroke-linejoin="round" />
<path d="M300.1 341.7 L301.4 341.7 L302.7 341.7 L304.0 341.7 L305.4 341.7 L306.7 341.6 L307.9 341.6 L309.2 341.6 L310.5 341.5 L311.8 341.5 L313.1 341.5 L314.3 341.4 L315.6 341.4 L316.9 341.3 L318.1 341.2 L319.4 341.2 L320.6 341.1 L321.8 341.0 L323.1 340.7 L324.4 340.5 L325.6 340.1 L326.9 339.7 L328.1 339.2 L329.4 338.7 L330.6 338.1 L331.7 337.5 L332.8 336.9 L333.9 336.4 L334.9 335.7 L335.9 335.0 L336.9 334.2 L337.8 333.3 L338.7 332.4 L339.6 331.4 L340.4 330.4 L341.3 329.4 L342.2 328.4 L343.0 327.4 L343.9 326.5 L344.8 325.6 L345.7 324.6 L346.6 323.7 L347.5 322.8 L348.3 321.8 L349.2 320.9 L350.1 320.0 L351.0 319.0 L351.9 318.1 L352.8 317.2 L353.7 316.3 L354.6 315.3 L355.4 314.4 L356.3 313.5 L357.2 312.5 L358.1 311.6 L359.1 310.7 L360.0 309.8 L360.9 309.0 L361.9 308.1 L362.8 307.3 L363.8 306.5 L364.8 305.7 L365.9 304.9 L366.9 304.1 L368.0 303.4 L369.1 302.6 L370.2 302.0 L371.3 301.4 L372.5 300.8 L373.6 300.4 L374.8 300.1 L376.0 299.7 L377.2 299.3 L378.4 299.0 L379.7 298.7 L380.9 298.5 L382.2 298.3 L383.5 298.1 L384.9 298.0 L386.2 297.9" fill="none" stroke="#440154" stroke-width="2.35" stroke-linecap="round" stroke-linejoin="round" />
<path d="M300.1 276.3 L301.6 276.5 L303.0 276.8 L304.4 277.1 L305.8 277.5 L307.2 277.8 L308.6 278.2 L310.0 278.7 L311.3 279.1 L312.7 279.6 L314.0 280.2 L315.3 280.8 L316.6 281.4 L318.0 282.1 L319.3 282.9 L320.5 283.6 L321.8 284.4 L323.0 285.2 L324.2 286.0 L325.3 286.9 L326.4 287.7 L327.5 288.6 L328.6 289.6 L329.6 290.6 L330.6 291.6 L331.5 292.7 L332.5 293.8 L333.4 295.0 L334.3 296.1 L335.3 297.3 L336.2 298.4 L337.1 299.6 L338.0 300.7 L338.9 301.8 L339.8 302.9 L340.8 304.1 L341.6 305.2 L342.5 306.4 L343.4 307.5 L344.3 308.7 L345.2 309.8 L346.0 311.0 L346.9 312.1 L347.8 313.3 L348.7 314.4 L349.6 315.6 L350.5 316.7 L351.4 317.8 L352.3 319.0 L353.2 320.1 L354.1 321.2 L355.0 322.3 L355.9 323.5 L356.9 324.6 L357.8 325.7 L358.7 326.8 L359.7 327.9 L360.6 329.0 L361.6 330.1 L362.6 331.1 L363.6 332.2 L364.6 333.2 L365.6 334.3 L366.6 335.3 L367.7 336.3 L368.7 337.3 L369.8 338.3 L370.9 339.2 L372.0 340.1 L373.2 341.0 L374.4 341.7 L375.6 342.5 L376.9 343.2 L378.2 343.8 L379.5 344.5 L380.8 345.1 L382.2 345.7 L383.5 346.3 L384.8 346.8 L386.2 347.3" fill="none" stroke="#440154" stroke-width="2.35" stroke-linecap="round" stroke-linejoin="round" />
<path d="M300.1 292.0 L301.4 292.0 L302.7 291.9 L304.0 291.9 L305.3 291.8 L306.6 291.7 L307.8 291.5 L309.1 291.4 L310.4 291.2 L311.6 291.0 L312.9 290.9 L314.2 290.7 L315.4 290.5 L316.7 290.2 L317.9 289.9 L319.2 289.6 L320.4 289.2 L321.6 288.8 L322.9 288.4 L324.1 288.0 L325.3 287.5 L326.5 287.1 L327.7 286.6 L328.9 286.1 L330.0 285.7 L331.2 285.1 L332.4 284.6 L333.6 284.1 L334.7 283.5 L335.9 282.9 L337.1 282.3 L338.2 281.7 L339.3 281.1 L340.4 280.5 L341.6 279.8 L342.6 279.1 L343.7 278.5 L344.8 277.8 L345.8 277.1 L346.8 276.4 L347.9 275.6 L348.9 274.8 L349.9 274.0 L350.8 273.2 L351.8 272.4 L352.8 271.5 L353.8 270.7 L354.7 269.8 L355.7 268.9 L356.6 268.0 L357.6 267.1 L358.5 266.3 L359.5 265.4 L360.4 264.5 L361.4 263.6 L362.3 262.7 L363.3 261.9 L364.2 261.0 L365.2 260.1 L366.1 259.3 L367.0 258.3 L367.9 257.4 L368.9 256.5 L369.8 255.6 L370.7 254.7 L371.6 253.8 L372.5 252.9 L373.5 252.0 L374.4 251.2 L375.4 250.4 L376.4 249.6 L377.4 248.8 L378.4 248.1 L379.5 247.4 L380.6 246.7 L381.7 246.0 L382.8 245.3 L383.9 244.7 L385.0 244.1 L386.2 243.5" fill="none" stroke="#440154" stroke-width="2.35" stroke-linecap="round" stroke-linejoin="round" />
<path d="M300.1 221.6 L301.2 222.0 L302.2 222.4 L303.3 222.8 L304.3 223.1 L305.4 223.5 L306.5 223.9 L307.5 224.3 L308.6 224.6 L309.7 225.0 L310.7 225.3 L311.8 225.7 L312.9 226.0 L314.0 226.3 L315.0 226.6 L316.1 227.0 L317.2 227.3 L318.3 227.7 L319.4 228.0 L320.4 228.4 L321.5 228.8 L322.6 229.2 L323.7 229.5 L324.8 229.8 L325.9 230.2 L327.0 230.5 L328.1 230.7 L329.2 231.0 L330.3 231.2 L331.4 231.3 L332.5 231.4 L333.6 231.5 L334.7 231.5 L335.8 231.5 L336.9 231.4 L338.1 231.4 L339.2 231.3 L340.3 231.2 L341.5 231.1 L342.6 231.0 L343.7 230.9 L344.8 230.8 L345.9 230.6 L346.9 230.4 L348.0 230.1 L349.1 229.7 L350.1 229.3 L351.2 228.9 L352.3 228.5 L353.3 228.0 L354.4 227.6 L355.4 227.2 L356.5 226.7 L357.5 226.3 L358.6 225.9 L359.7 225.6 L360.8 225.3 L361.8 224.9 L362.9 224.6 L364.0 224.3 L365.1 223.9 L366.2 223.6 L367.3 223.3 L368.4 223.0 L369.4 222.7 L370.5 222.5 L371.6 222.3 L372.7 222.1 L373.8 221.9 L375.0 221.8 L376.1 221.7 L377.2 221.6 L378.3 221.4 L379.4 221.3 L380.5 221.2 L381.7 221.2 L382.8 221.1 L383.9 221.0 L385.1 221.0 L386.2 221.0" fill="none" stroke="#440154" stroke-width="2.35" stroke-linecap="round" stroke-linejoin="round" />
<path d="M300.1 211.2 L301.2 211.0 L302.4 210.8 L303.5 210.6 L304.6 210.5 L305.8 210.3 L306.9 210.1 L308.1 209.9 L309.2 209.7 L310.3 209.5 L311.5 209.3 L312.6 209.1 L313.7 208.9 L314.9 208.7 L316.0 208.5 L317.1 208.3 L318.3 208.1 L319.4 207.8 L320.5 207.6 L321.6 207.4 L322.8 207.2 L323.9 207.0 L325.0 206.8 L326.2 206.6 L327.3 206.4 L328.4 206.2 L329.6 206.0 L330.7 205.7 L331.9 205.5 L333.0 205.3 L334.2 205.1 L335.3 204.9 L336.5 204.7 L337.6 204.5 L338.7 204.3 L339.9 204.0 L341.0 203.8 L342.1 203.5 L343.2 203.3 L344.3 203.0 L345.4 202.7 L346.5 202.4 L347.6 202.1 L348.7 201.8 L349.7 201.4 L350.8 200.9 L351.8 200.5 L352.9 200.0 L353.9 199.5 L354.9 199.0 L355.9 198.4 L356.9 197.8 L358.0 197.3 L359.0 196.7 L360.0 196.1 L361.0 195.6 L362.0 195.0 L363.1 194.5 L364.1 194.0 L365.1 193.4 L366.1 192.9 L367.2 192.4 L368.2 191.8 L369.2 191.3 L370.2 190.7 L371.2 190.2 L372.3 189.7 L373.3 189.1 L374.3 188.6 L375.4 188.2 L376.4 187.7 L377.5 187.3 L378.5 186.8 L379.6 186.4 L380.7 186.1 L381.8 185.7 L382.9 185.3 L384.0 185.0 L385.1 184.6 L386.2 184.3" fill="none" stroke="#440154" stroke-width="2.35" stroke-linecap="round" stroke-linejoin="round" />
<path d="M300.1 203.0 L300.9 202.4 L301.6 201.7 L302.4 201.1 L303.2 200.5" fill="none" stroke="#228b8d" stroke-width="2.35" stroke-linecap="round" stroke-linejoin="round" />
<path d="M303.2 200.5 L304.0 199.9" fill="none" stroke="#26828e" stroke-width="2.35" stroke-linecap="round" stroke-linejoin="round" />
<path d="M304.0 199.9 L304.7 199.1" fill="none" stroke="#2a788e" stroke-width="2.35" stroke-linecap="round" stroke-linejoin="round" />
<path d="M304.7 199.1 L305.5 198.3" fill="none" stroke="#2e6f8e" stroke-width="2.35" stroke-linecap="round" stroke-linejoin="round" />
<path d="M305.5 198.3 L306.3 197.8" fill="none" stroke="#32648e" stroke-width="2.35" stroke-linecap="round" stroke-linejoin="round" />
<path d="M306.3 197.8 L307.2 197.7" fill="none" stroke="#3c4f8a" stroke-width="2.35" stroke-linecap="round" stroke-linejoin="round" />
<path d="M307.2 197.7 L308.1 197.7" fill="none" stroke="#453781" stroke-width="2.35" stroke-linecap="round" stroke-linejoin="round" />
<path d="M308.1 197.7 L309.1 197.8" fill="none" stroke="#481d6f" stroke-width="2.35" stroke-linecap="round" stroke-linejoin="round" />
<path d="M309.1 197.8 L310.1 197.8 L311.1 197.9 L312.2 197.9 L313.2 198.0 L314.2 198.1 L315.2 198.1 L316.2 198.3 L317.2 198.4 L318.2 198.5 L319.2 198.7 L320.1 198.9 L321.1 199.1 L322.1 199.3 L323.1 199.5 L324.1 199.7 L325.0 199.9 L326.0 200.1 L327.0 200.3 L328.0 200.5 L329.0 200.7 L329.9 200.9 L330.9 201.0 L331.9 201.2 L332.9 201.3 L333.9 201.4 L334.9 201.4 L335.9 201.5 L336.9 201.6 L337.9 201.6 L338.9 201.7 L339.9 201.8 L340.9 201.8 L341.9 201.9 L342.9 201.9 L343.9 201.9 L344.9 202.0 L345.9 202.0 L346.9 202.0 L347.9 202.0 L348.8 202.0 L349.8 201.9 L350.8 201.8 L351.8 201.6 L352.8 201.4 L353.7 201.2 L354.7 201.0 L355.7 200.7 L356.6 200.4 L357.6 200.2 L358.6 199.9 L359.6 199.6 L360.5 199.4 L361.5 199.1 L362.5 198.9 L363.5 198.7 L364.5 198.6 L365.4 198.4 L366.4 198.2 L367.4 198.1 L368.4 197.9 L369.4 197.7 L370.4 197.6 L371.3 197.4 L372.3 197.3 L373.3 197.1 L374.3 197.0 L375.3 196.8 L376.3 196.7 L377.3 196.6 L378.3 196.4 L379.3 196.3 L380.2 196.2 L381.2 196.1 L382.2 195.9 L383.2 195.8 L384.2 195.7 L385.2 195.6 L386.2 195.5" fill="none" stroke="#440154" stroke-width="2.35" stroke-linecap="round" stroke-linejoin="round" />
<path d="M300.1 132.2 L301.2 133.6 L302.2 135.0 L303.3 136.4 L304.3 137.8 L305.4 139.2 L306.5 140.6 L307.6 142.0 L308.7 143.4 L309.8 144.7 L310.9 146.1 L312.0 147.5 L313.1 148.8 L314.2 150.2 L315.2 151.6 L316.3 153.1 L317.3 154.5 L318.3 156.0 L319.3 157.4 L320.3 158.8 L321.3 160.3 L322.3 161.7 L323.3 163.2 L324.3 164.6 L325.3 166.0 L326.3 167.5 L327.3 168.9 L328.3 170.4 L329.3 171.8 L330.3 173.3 L331.3 174.7 L332.3 176.2 L333.3 177.7 L334.3 179.1 L335.3 180.6 L336.2 182.1 L337.2 183.5 L338.1 185.0 L339.1 186.5 L340.0 188.0 L341.0 189.5 L341.9 191.0 L342.9 192.4 L343.8 193.9 L344.8 195.4 L345.7 196.9 L346.7 198.3 L347.7 199.8 L348.7 201.2 L349.8 202.6 L350.8 204.1 L351.8 205.5 L352.8 207.0 L353.9 208.4 L354.9 209.8 L356.0 211.2 L357.0 212.6 L358.1 214.0 L359.2 215.4 L360.3 216.8 L361.4 218.1 L362.5 219.5 L363.7 220.8 L364.8 222.1 L366.0 223.4 L367.2 224.7 L368.4 226.0 L369.7 227.3 L370.9 228.6 L372.2 229.8 L373.5 231.0 L374.8 232.2 L376.1 233.3 L377.4 234.4 L378.8 235.5 L380.2 236.5 L381.7 237.5 L383.2 238.5 L384.7 239.4 L386.2 240.3" fill="none" stroke="#440154" stroke-width="2.35" stroke-linecap="round" stroke-linejoin="round" />
<path d="M300.1 127.3 L300.6 128.0 L301.2 128.7 L301.8 129.4 L302.4 130.0 L303.0 130.7 L303.6 131.3 L304.2 131.9 L304.8 132.5 L305.5 133.1 L306.1 133.7 L306.8 134.2 L307.5 134.8 L308.2 135.3 L308.9 135.9 L309.6 136.4 L310.3 137.0 L311.1 137.5 L311.8 138.0 L312.6 138.4 L313.4 138.7 L314.2 139.0 L315.0 139.2 L315.9 139.4 L316.7 139.5 L317.6 139.7 L318.5 139.8 L319.4 139.8 L320.2 139.6 L321.0 139.2" fill="none" stroke="#440154" stroke-width="2.35" stroke-linecap="round" stroke-linejoin="round" />
<path d="M320.8 152.0 L321.3 151.1 L321.9 150.4 L322.6 150.0 L323.4 149.7 L324.3 149.5 L325.2 149.5 L326.0 149.7 L326.9 149.9 L327.7 150.2 L328.6 150.5 L329.4 150.9 L330.3 151.2 L331.1 151.7 L332.0 152.1 L332.8 152.5 L333.6 152.8 L334.5 153.2 L335.3 153.6 L336.1 153.9 L336.9 154.3 L337.7 154.7 L338.5 155.1 L339.4 155.5 L340.2 155.9 L341.0 156.3 L341.8 156.7 L342.6 157.1 L343.4 157.4 L344.2 157.8 L345.1 158.2 L345.9 158.5 L346.7 158.9 L347.6 159.2 L348.4 159.5 L349.2 159.9 L350.1 160.2 L350.9 160.6 L351.7 160.9 L352.6 161.2 L353.4 161.5 L354.2 161.9 L355.1 162.2 L355.9 162.5 L356.8 162.9 L357.6 163.2 L358.4 163.5 L359.3 163.9 L360.1 164.2 L361.0 164.5 L361.8 164.9 L362.6 165.2 L363.5 165.5 L364.3 165.9 L365.1 166.2 L365.9 166.6 L366.8 167.0 L367.6 167.4 L368.4 167.7 L369.2 168.1 L370.0 168.5 L370.9 168.9 L371.7 169.2 L372.5 169.6 L373.3 169.9 L374.2 170.3 L375.0 170.6 L375.8 170.9 L376.7 171.3 L377.5 171.5 L378.4 171.8 L379.2 172.1 L380.1 172.4 L381.0 172.6 L381.8 172.9 L382.7 173.1 L383.6 173.3 L384.4 173.6 L385.3 173.8 L386.2 174.0" fill="none" stroke="#440154" stroke-width="2.35" stroke-linecap="round" stroke-linejoin="round" />
<path d="M300.1 127.8 L300.9 126.7 L301.7 125.6 L302.4 124.4 L303.2 123.3 L303.9 122.1 L304.7 121.0 L305.4 119.8 L306.1 118.7 L306.8 117.5 L307.5 116.3 L308.2 115.1 L308.8 113.9 L309.5 112.7 L310.1 111.5 L310.8 110.3 L311.4 109.1 L312.0 107.9 L312.6 106.6 L313.3 105.4 L313.9 104.2 L314.5 103.0 L315.1 101.7 L315.7 100.5 L316.2 99.3 L316.8 98.0 L317.4 96.8 L317.9 95.5 L318.5 94.3 L319.0 93.0" fill="none" stroke="#440154" stroke-width="2.35" stroke-linecap="round" stroke-linejoin="round" />
<path d="M300.1 104.1 L300.5 103.6 L300.9 103.0 L301.3 102.5 L301.8 102.0 L302.2 101.5 L302.7 101.0 L303.1 100.5 L303.6 100.0 L304.1 99.5 L304.6 99.1 L305.1 98.7 L305.6 98.3 L306.2 97.8 L306.7 97.4 L307.2 97.0 L307.7 96.5 L308.1 96.0 L308.6 95.5 L309.0 95.0" fill="none" stroke="#440154" stroke-width="2.35" stroke-linecap="round" stroke-linejoin="round" />
<path d="M357.0 94.0 L357.6 94.6 L358.3 95.2 L358.9 95.8 L359.6 96.4 L360.2 97.0 L360.9 97.6 L361.5 98.2 L362.2 98.8 L362.8 99.4 L363.5 100.0 L364.1 100.6 L364.8 101.2 L365.5 101.7 L366.2 102.2 L366.9 102.7 L367.6 103.2 L368.4 103.7 L369.1 104.2 L369.9 104.7 L370.6 105.1 L371.4 105.6 L372.1 106.0 L372.9 106.4 L373.7 106.9 L374.5 107.3 L375.3 107.7 L376.1 108.2 L376.8 108.6 L377.7 109.0 L378.5 109.4 L379.3 109.7 L380.1 110.0 L380.9 110.1 L381.8 110.3 L382.6 110.4 L383.5 110.5 L384.4 110.5 L385.3 110.6 L386.2 110.6" fill="none" stroke="#440154" stroke-width="2.35" stroke-linecap="round" stroke-linejoin="round" />
<circle cx="300.1" cy="194.5" r="1.12" fill="#440154"/>
<circle cx="300.9" cy="194.5" r="1.12" fill="#440154"/>
<circle cx="301.6" cy="194.4" r="1.12" fill="#440154"/>
<circle cx="302.4" cy="194.4" r="1.12" fill="#440154"/>
<circle cx="303.1" cy="194.3" r="1.12" fill="#440154"/>
<circle cx="303.9" cy="194.2" r="1.12" fill="#440154"/>
<circle cx="304.6" cy="194.1" r="1.12" fill="#440154"/>
<circle cx="305.4" cy="193.8" r="1.12" fill="#440154"/>
<circle cx="306.1" cy="193.5" r="1.12" fill="#440154"/>
<circle cx="306.9" cy="193.0" r="1.12" fill="#440154"/>
<circle cx="307.6" cy="191.5" r="1.12" fill="#48186a"/>
<circle cx="308.4" cy="189.2" r="1.12" fill="#3a538b"/>
<circle cx="309.1" cy="186.9" r="1.12" fill="#38598c"/>
<circle cx="309.9" cy="184.5" r="1.12" fill="#355f8d"/>
<circle cx="310.6" cy="181.9" r="1.12" fill="#32648e"/>
<circle cx="311.4" cy="179.4" r="1.12" fill="#306a8e"/>
<circle cx="312.1" cy="177.1" r="1.12" fill="#2e6f8e"/>
<circle cx="312.9" cy="174.8" r="1.12" fill="#2c738e"/>
<circle cx="313.6" cy="172.6" r="1.12" fill="#2c728e"/>
<circle cx="314.4" cy="170.3" r="1.12" fill="#2c718e"/>
<circle cx="315.1" cy="167.9" r="1.12" fill="#2d718e"/>
<circle cx="315.9" cy="165.5" r="1.12" fill="#2d708e"/>
<circle cx="316.6" cy="163.0" r="1.12" fill="#2e6f8e"/>
<circle cx="317.4" cy="160.5" r="1.12" fill="#2e6e8e"/>
<circle cx="318.1" cy="157.9" r="1.12" fill="#2e6d8e"/>
<circle cx="318.9" cy="155.3" r="1.12" fill="#2f6c8e"/>
<circle cx="319.6" cy="152.6" r="1.12" fill="#2f6b8e"/>
<circle cx="320.4" cy="149.8" r="1.12" fill="#306a8e"/>
<circle cx="321.1" cy="147.0" r="1.12" fill="#306a8e"/>
<circle cx="321.9" cy="144.1" r="1.12" fill="#2f6b8e"/>
<circle cx="322.6" cy="141.0" r="1.12" fill="#2f6b8e"/>
<circle cx="323.4" cy="137.6" r="1.12" fill="#2f6c8e"/>
<circle cx="324.1" cy="133.9" r="1.12" fill="#2e6d8e"/>
<circle cx="324.9" cy="129.8" r="1.12" fill="#2e6e8e"/>
<circle cx="325.6" cy="125.1" r="1.12" fill="#2e6f8e"/>
<circle cx="326.4" cy="120.3" r="1.12" fill="#2d718e"/>
<circle cx="327.1" cy="115.7" r="1.12" fill="#2c738e"/>
<circle cx="327.9" cy="111.1" r="1.12" fill="#2b758e"/>
<circle cx="328.6" cy="106.5" r="1.12" fill="#2a778e"/>
<circle cx="329.4" cy="101.9" r="1.12" fill="#297a8e"/>
<circle cx="330.1" cy="97.3" r="1.12" fill="#287c8e"/>
<circle cx="300.4" cy="176.3" r="1.12" fill="#fde725"/>
<circle cx="301.2" cy="176.0" r="1.12" fill="#fde725"/>
<circle cx="301.9" cy="175.6" r="1.12" fill="#fde725"/>
<circle cx="302.7" cy="175.2" r="1.12" fill="#fde725"/>
<circle cx="303.4" cy="174.7" r="1.12" fill="#fde725"/>
<circle cx="304.2" cy="174.1" r="1.12" fill="#fde725"/>
<circle cx="304.9" cy="173.5" r="1.12" fill="#fde725"/>
<circle cx="305.7" cy="172.8" r="1.12" fill="#fde725"/>
<circle cx="306.4" cy="172.0" r="1.12" fill="#fde725"/>
<circle cx="307.2" cy="171.0" r="1.12" fill="#fde725"/>
<circle cx="307.9" cy="169.9" r="1.12" fill="#fde725"/>
<circle cx="308.7" cy="168.5" r="1.12" fill="#fde725"/>
<circle cx="309.4" cy="167.1" r="1.12" fill="#fde725"/>
<circle cx="310.2" cy="165.6" r="1.12" fill="#fde725"/>
<circle cx="310.9" cy="164.0" r="1.12" fill="#fde725"/>
<circle cx="311.7" cy="162.3" r="1.12" fill="#fde725"/>
<circle cx="312.4" cy="160.6" r="1.12" fill="#fde725"/>
<circle cx="313.2" cy="159.0" r="1.12" fill="#fde725"/>
<circle cx="313.9" cy="157.2" r="1.12" fill="#fde725"/>
<circle cx="314.7" cy="155.5" r="1.12" fill="#fde725"/>
<circle cx="315.4" cy="153.7" r="1.12" fill="#fde725"/>
<circle cx="316.2" cy="152.0" r="1.12" fill="#fde725"/>
<circle cx="316.9" cy="150.2" r="1.12" fill="#fde725"/>
<circle cx="317.7" cy="148.4" r="1.12" fill="#fde725"/>
<circle cx="318.4" cy="146.5" r="1.12" fill="#fde725"/>
<circle cx="319.2" cy="144.6" r="1.12" fill="#fde725"/>
<circle cx="319.9" cy="142.7" r="1.12" fill="#fde725"/>
<circle cx="320.7" cy="140.8" r="1.12" fill="#fde725"/>
<circle cx="321.4" cy="138.7" r="1.12" fill="#fde725"/>
<circle cx="322.2" cy="136.4" r="1.12" fill="#fde725"/>
<circle cx="322.9" cy="133.6" r="1.12" fill="#fde725"/>
<circle cx="323.7" cy="130.2" r="1.12" fill="#fde725"/>
<circle cx="324.4" cy="126.4" r="1.12" fill="#fde725"/>
<circle cx="325.2" cy="122.7" r="1.12" fill="#fde725"/>
<circle cx="325.9" cy="118.8" r="1.12" fill="#fde725"/>
<circle cx="326.7" cy="114.8" r="1.12" fill="#fde725"/>
<circle cx="327.4" cy="110.7" r="1.12" fill="#fde725"/>
<circle cx="328.2" cy="106.5" r="1.12" fill="#fde725"/>
<circle cx="328.9" cy="102.1" r="1.12" fill="#fde725"/>
<circle cx="329.7" cy="97.6" r="1.12" fill="#fde725"/>
</g>
<g clip-path="url(#clipc)">
<line x1="465.3" y1="491.0" x2="465.3" y2="96.5" stroke="#1f77b4" stroke-width="1.9" stroke-dasharray="1.9 3.16" stroke-dashoffset="0.00"/>
<line x1="518.4" y1="491.0" x2="518.4" y2="96.5" stroke="#000" stroke-width="1.9" stroke-dasharray="1.9 3.16" stroke-dashoffset="0.00"/>
<path d="M492.6 96.5 L492.5 97.5 L492.5 98.4 L492.4 99.4 L492.4 100.4 L492.3 101.3 L492.3 102.3 L492.2 103.2 L492.2 104.2 L492.1 105.2 L492.1 106.1 L492.0 107.1 L491.9 108.1 L491.9 109.0 L491.8 110.0 L491.8 110.9 L491.7 111.9 L491.7 112.9 L491.6 113.8 L491.6 114.8 L491.5 115.8 L491.4 116.7 L491.4 117.7 L491.3 118.6 L491.3 119.6 L491.2 120.6 L491.2 121.5 L491.1 122.5 L491.0 123.5 L491.0 124.4 L490.9 125.4 L490.8 126.3 L490.8 127.3 L490.7 128.3 L490.7 129.2 L490.6 130.2 L490.5 131.2 L490.5 132.1 L490.4 133.1 L490.3 134.0 L490.3 135.0 L490.2 136.0 L490.1 136.9 L490.0 137.9 L490.0 138.9 L489.9 139.8 L489.8 140.8 L489.7 141.7 L489.7 142.7 L489.6 143.7 L489.5 144.6 L489.4 145.6 L489.3 146.6 L489.2 147.5 L489.1 148.5 L489.1 149.4 L489.0 150.4 L488.9 151.4 L488.8 152.3 L488.7 153.3 L488.6 154.3 L488.5 155.2 L488.4 156.2 L488.3 157.1 L488.2 158.1 L488.1 159.1 L488.0 160.0 L487.9 161.0 L487.8 162.0 L487.6 162.9 L487.5 163.9 L487.4 164.8 L487.3 165.8 L487.2 166.8 L487.1 167.7 L486.9 168.7 L486.8 169.7 L486.7 170.6 L486.5 171.6 L486.4 172.5 L486.3 173.5 L486.1 174.5 L486.0 175.4 L485.9 176.4 L485.7 177.4 L485.6 178.3 L485.4 179.3 L485.3 180.3 L485.1 181.2 L485.0 182.2 L484.8 183.1 L484.6 184.1 L484.5 185.1 L484.3 186.0 L484.1 187.0 L484.0 188.0 L483.8 188.9 L483.6 189.9 L483.4 190.8 L483.2 191.8 L483.1 192.8 L482.9 193.7 L482.7 194.7 L482.5 195.7 L482.3 196.6 L482.1 197.6 L481.9 198.5 L481.7 199.5 L481.5 200.5 L481.3 201.4 L481.0 202.4 L480.8 203.4 L480.6 204.3 L480.4 205.3 L480.2 206.2 L480.0 207.2 L479.7 208.2 L479.5 209.1 L479.3 210.1 L479.1 211.1 L478.9 212.0 L478.6 213.0 L478.4 213.9 L478.2 214.9 L478.0 215.9 L477.7 216.8 L477.5 217.8 L477.3 218.8 L477.0 219.7 L476.8 220.7 L476.6 221.6 L476.4 222.6 L476.1 223.6 L475.9 224.5 L475.7 225.5 L475.4 226.5 L475.2 227.4 L475.0 228.4 L474.8 229.3 L474.6 230.3 L474.3 231.3 L474.1 232.2 L473.9 233.2 L473.7 234.2 L473.5 235.1 L473.2 236.1 L473.0 237.0 L472.8 238.0 L472.6 239.0 L472.4 239.9 L472.2 240.9 L472.0 241.9 L471.8 242.8 L471.5 243.8 L471.3 244.7 L471.1 245.7 L470.9 246.7 L470.7 247.6 L470.5 248.6 L470.3 249.6 L470.1 250.5 L469.9 251.5 L469.6 252.5 L469.4 253.4 L469.2 254.4 L469.0 255.3 L468.8 256.3 L468.6 257.3 L468.3 258.2 L468.1 259.2 L467.9 260.2 L467.7 261.1 L467.4 262.1 L467.2 263.0 L467.0 264.0 L466.7 265.0 L466.5 265.9 L466.2 266.9 L466.0 267.9 L465.7 268.8 L465.5 269.8 L465.2 270.7 L465.0 271.7 L464.7 272.7 L464.5 273.6 L464.2 274.6 L463.9 275.6 L463.6 276.5 L463.3 277.5 L463.1 278.4 L462.8 279.4 L462.5 280.4 L462.2 281.3 L461.9 282.3 L461.6 283.3 L461.3 284.2 L461.0 285.2 L460.7 286.1 L460.4 287.1 L460.1 288.1 L459.8 289.0 L459.6 290.0 L459.3 291.0 L459.0 291.9 L458.8 292.9 L458.5 293.8 L458.3 294.8 L458.0 295.8 L457.8 296.7 L457.7 297.7 L457.5 298.7 L457.4 299.6 L457.2 300.6 L457.2 301.5 L457.1 302.5 L457.0 303.5 L457.0 304.4 L457.0 305.4 L457.0 306.4 L457.0 307.3 L457.0 308.3 L457.1 309.2 L457.2 310.2 L457.3 311.2 L457.4 312.1 L457.6 313.1 L457.8 314.1 L458.1 315.0 L458.4 316.0 L458.7 316.9 L459.1 317.9 L459.4 318.9 L459.9 319.8 L460.3 320.8 L460.7 321.8 L461.2 322.7 L461.7 323.7 L462.2 324.6 L462.7 325.6 L463.3 326.6 L463.8 327.5 L464.4 328.5 L464.9 329.5 L465.5 330.4 L466.1 331.4 L466.7 332.4 L467.3 333.3 L468.0 334.3 L468.6 335.2 L469.3 336.2 L470.0 337.2 L470.7 338.1 L471.4 339.1 L472.2 340.1 L473.0 341.0 L473.8 342.0 L474.6 342.9 L475.4 343.9 L476.3 344.9 L477.1 345.8 L478.1 346.8 L479.0 347.8 L479.9 348.7 L480.9 349.7 L481.9 350.6 L482.8 351.6 L483.8 352.6 L484.8 353.5 L485.8 354.5 L486.8 355.5 L487.7 356.4 L488.7 357.4 L489.6 358.3 L490.5 359.3 L491.5 360.3 L492.3 361.2 L493.2 362.2 L494.1 363.2 L494.9 364.1 L495.8 365.1 L496.6 366.0 L497.4 367.0 L498.2 368.0 L498.9 368.9 L499.7 369.9 L500.4 370.9 L501.1 371.8 L501.8 372.8 L502.5 373.7 L503.1 374.7 L503.7 375.7 L504.4 376.6 L505.0 377.6 L505.6 378.6 L506.1 379.5 L506.7 380.5 L507.2 381.4 L507.8 382.4 L508.3 383.4 L508.9 384.3 L509.5 385.3 L510.0 386.3 L510.6 387.2 L511.3 388.2 L511.9 389.1 L512.5 390.1 L513.1 391.1 L513.7 392.0 L514.2 393.0 L514.8 394.0 L515.2 394.9 L515.7 395.9 L516.1 396.8 L516.5 397.8 L516.9 398.8 L517.2 399.7 L517.6 400.7 L517.9 401.7 L518.2 402.6 L518.5 403.6 L518.8 404.6 L519.0 405.5 L519.2 406.5 L519.4 407.4 L519.6 408.4 L519.7 409.4 L519.8 410.3 L519.9 411.3 L520.0 412.3 L520.0 413.2 L520.1 414.2 L520.2 415.1 L520.3 416.1 L520.3 417.1 L520.4 418.0 L520.5 419.0 L520.7 420.0 L520.8 420.9 L521.0 421.9 L521.1 422.8 L521.3 423.8 L521.4 424.8 L521.6 425.7 L521.8 426.7 L521.9 427.7 L522.1 428.6 L522.3 429.6 L522.4 430.5 L522.5 431.5 L522.7 432.5 L522.8 433.4 L522.8 434.4 L522.9 435.4 L522.9 436.3 L522.9 437.3 L522.9 438.2 L522.8 439.2 L522.7 440.2 L522.6 441.1 L522.4 442.1 L522.2 443.1 L522.0 444.0 L521.8 445.0 L521.5 445.9 L521.3 446.9 L521.1 447.9 L520.9 448.8 L520.7 449.8 L520.6 450.8 L520.4 451.7 L520.3 452.7 L520.2 453.6 L520.1 454.6 L520.0 455.6 L520.0 456.5 L519.9 457.5 L519.9 458.5 L519.9 459.4 L519.9 460.4 L519.9 461.3 L520.0 462.3 L520.2 463.3 L520.4 464.2 L520.8 465.2 L521.2 466.2 L521.9 467.1 L522.6 468.1 L523.4 469.0 L524.2 470.0 L525.1 471.0 L526.1 471.9 L527.1 472.9 L528.1 473.9 L529.0 474.8 L529.4 475.8 L528.9 476.7 L527.6 477.7 L526.0 478.7 L524.5 479.6 L523.6 480.6" fill="none" stroke="#1f77b4" stroke-width="2.30" stroke-linecap="round" stroke-linejoin="round" />
<path d="M490.5 96.5 L490.5 97.4 L490.5 98.2 L490.5 99.1 L490.6 99.9 L490.6 100.8 L490.6 101.6 L490.6 102.5 L490.7 103.4 L490.7 104.2 L490.7 105.1 L490.8 105.9 L490.8 106.8 L490.8 107.6 L490.9 108.5 L490.9 109.4 L490.9 110.2 L491.0 111.1 L491.0 111.9 L491.1 112.8 L491.1 113.6 L491.1 114.5 L491.2 115.4 L491.2 116.2 L491.3 117.1 L491.3 117.9 L491.4 118.8 L491.4 119.6 L491.5 120.5 L491.5 121.3 L491.6 122.2 L491.6 123.1 L491.7 123.9 L491.8 124.8 L491.8 125.6 L491.9 126.5 L492.0 127.3 L492.1 128.2 L492.2 129.1 L492.3 129.9 L492.4 130.8 L492.5 131.6 L492.6 132.5 L492.7 133.3 L492.8 134.2 L492.8 135.1 L492.9 135.9 L493.0 136.8 L493.0 137.6 L493.1 138.5 L493.1 139.3 L493.1 140.1 L493.0 141.0 L492.9 141.8 L492.6 142.7 L492.3 143.5 L492.1 144.3 L491.8 145.2 L491.6 146.0 L491.6 146.8 L491.6 147.7 L491.6 148.5 L491.6 149.4 L491.6 150.2 L491.6 151.1 L491.6 151.9 L491.6 152.8 L491.6 153.7 L491.6 154.5 L491.6 155.4 L491.6 156.2 L491.6 157.1 L491.6 158.0 L491.6 158.8 L491.6 159.7 L491.6 160.5 L491.6 161.4 L491.6 162.3 L491.6 163.1 L491.6 164.0 L491.6 164.8 L491.6 165.7 L491.6 166.6 L491.6 167.4 L491.6 168.3 L491.6 169.1 L491.6 170.0 L491.7 170.8 L491.7 171.7 L491.7 172.6 L491.8 173.4 L491.8 174.3 L491.8 175.1 L491.9 176.0 L491.9 176.8 L492.0 177.7 L492.0 178.6 L492.1 179.4 L492.1 180.3 L492.2 181.1 L492.3 182.0 L492.3 182.8 L492.4 183.7 L492.5 184.6 L492.5 185.4 L492.6 186.3 L492.7 187.1 L492.7 188.0 L492.8 188.8 L492.9 189.7 L493.0 190.5 L493.0 191.4 L493.1 192.2 L493.2 193.1 L493.3 193.9 L493.5 194.8 L493.6 195.6 L493.8 196.5 L493.9 197.3 L494.1 198.2 L494.2 199.0 L494.4 199.9 L494.5 200.7 L494.6 201.6 L494.7 202.4 L494.8 203.3 L494.9 204.1 L495.0 205.0 L495.0 205.8 L495.1 206.7 L495.2 207.5 L495.2 208.4 L495.3 209.2 L495.4 210.1 L495.4 211.0 L495.5 211.8 L495.5 212.7 L495.6 213.5 L495.6 214.4 L495.6 215.2 L495.7 216.1 L495.7 217.0 L495.7 217.8 L495.7 218.7 L495.7 219.5 L495.7 220.4 L495.7 221.2 L495.6 222.1 L495.6 222.9 L495.5 223.8 L495.5 224.7 L495.4 225.5 L495.4 226.4 L495.3 227.2 L495.3 228.1 L495.2 228.9 L495.1 229.8 L495.0 230.7 L495.0 231.5 L494.9 232.4 L494.8 233.2 L494.8 234.1 L494.7 234.9 L494.6 235.8 L494.5 236.6 L494.4 237.5 L494.3 238.3 L494.2 239.2 L494.1 240.0 L494.0 240.9 L493.9 241.7 L493.7 242.6 L493.6 243.4 L493.5 244.3 L493.4 245.1 L493.2 246.0 L493.1 246.8 L492.9 247.7 L492.8 248.5 L492.6 249.4 L492.5 250.2 L492.3 251.0 L492.1 251.9 L491.9 252.7 L491.7 253.6 L491.5 254.4 L491.3 255.2 L491.1 256.1 L490.9 256.9 L490.6 257.7 L490.4 258.6 L490.2 259.4 L489.9 260.2 L489.7 261.0 L489.5 261.8 L489.2 262.6 L488.9 263.4 L488.6 264.3 L488.4 265.1 L488.1 265.9 L487.7 266.7 L487.4 267.5 L487.1 268.2 L486.7 269.0 L486.4 269.8 L486.0 270.6 L485.7 271.4 L485.3 272.2 L484.9 273.0 L484.6 273.7 L484.2 274.5 L483.8 275.3 L483.4 276.0 L483.0 276.8 L482.7 277.6 L482.3 278.3 L481.9 279.1 L481.4 279.8 L481.0 280.6 L480.6 281.3 L480.2 282.1 L479.7 282.8 L479.3 283.5 L478.8 284.3 L478.3 285.0 L477.9 285.7 L477.4 286.4 L476.8 287.1 L476.3 287.8 L475.8 288.4 L475.3 289.2 L474.9 289.9 L474.6 290.7 L474.3 291.5 L474.0 292.3 L473.7 293.1 L473.3 293.9 L472.9 294.7 L472.5 295.4 L472.1 296.2 L471.7 297.0 L471.4 297.7 L471.2 298.6 L471.0 299.4 L470.8 300.2 L470.7 301.1 L470.5 301.9 L470.4 302.8 L470.2 303.6 L470.1 304.5 L469.9 305.3 L469.8 306.2 L469.7 307.0 L469.5 307.9 L469.4 308.7 L469.3 309.6 L469.2 310.4 L469.0 311.3 L468.9 312.1 L468.7 312.9 L468.5 313.7 L468.1 314.5 L467.6 315.3 L467.1 316.1 L466.7 316.8 L466.5 317.6 L466.7 318.4 L467.1 319.1 L467.5 319.9 L468.0 320.7 L468.4 321.5 L468.6 322.2 L468.3 323.0 L467.8 323.8 L467.4 324.5 L466.8 325.1 L466.1 325.7 L465.5 326.3 L465.0 327.0 L464.3 327.8 L463.7 328.6 L463.3 329.3 L463.2 329.8 L463.6 330.2 L464.4 330.6 L465.4 330.9 L466.4 331.3 L467.3 331.7 L467.8 332.3 L468.1 333.1 L468.5 333.9 L468.9 334.6 L469.4 335.3 L469.9 336.0 L470.4 336.8 L470.8 337.5 L471.3 338.2 L471.7 338.9 L472.2 339.7 L472.6 340.4 L473.1 341.1 L473.5 341.9 L474.0 342.6 L474.6 343.3 L475.2 344.0 L475.7 344.7 L476.1 345.4 L476.3 346.2 L476.4 347.0 L476.5 347.9 L476.6 348.9 L476.7 349.7 L476.7 350.5 L476.4 351.1 L475.6 351.6 L474.6 352.1 L473.7 352.6 L473.4 353.1 L473.6 353.9 L474.2 354.7 L474.7 355.3 L475.4 355.7 L476.1 356.0 L477.0 356.3 L477.9 356.5 L478.8 356.8 L479.6 357.0 L480.4 357.3 L481.2 357.6 L482.0 357.9 L482.8 358.2 L483.7 358.5 L484.5 358.7 L485.3 359.0 L486.1 359.3 L486.9 359.7 L487.7 360.0 L488.4 360.4 L489.2 360.7 L489.9 361.2 L490.7 361.6 L491.4 362.0 L492.1 362.5 L492.9 363.0 L493.6 363.4 L494.3 363.9 L495.1 364.3 L495.9 364.7 L496.7 365.2 L497.4 365.6 L498.2 366.1 L498.9 366.6 L499.5 367.1 L500.1 367.7 L500.6 368.3 L501.0 369.0 L501.4 369.8 L501.7 370.6 L502.1 371.4 L502.4 372.2 L502.8 373.0 L503.2 373.7 L503.7 374.5 L504.1 375.2 L504.5 376.0 L504.9 376.8 L505.2 377.5 L505.5 378.3 L505.8 379.1 L506.0 379.9 L506.3 380.8 L506.5 381.6 L506.6 382.4 L506.8 383.3 L507.0 384.1 L507.2 385.0 L507.5 385.8 L507.7 386.6 L507.9 387.5 L508.1 388.3 L508.4 389.1 L508.6 389.9 L508.9 390.7 L509.2 391.5 L509.5 392.3 L509.8 393.1 L510.2 393.9 L510.6 394.7 L510.9 395.5 L511.3 396.2 L511.7 397.0 L512.1 397.7 L512.5 398.5 L512.9 399.3 L513.4 400.0 L513.8 400.7 L514.2 401.5 L514.7 402.2 L515.1 402.9 L515.6 403.7 L516.1 404.4 L516.7 405.1 L517.3 405.8 L517.8 406.5 L518.1 407.3 L518.2 408.1 L518.1 408.9 L518.0 409.8 L517.8 410.6 L517.6 411.4 L517.3 412.2 L516.8 412.8 L516.2 413.5 L515.6 414.2 L515.0 414.8 L514.5 415.5 L514.0 416.2 L513.5 417.0 L513.1 417.7 L512.6 418.4 L512.2 419.2 L511.7 419.9 L511.3 420.6 L510.9 421.4 L510.5 422.1 L510.0 422.9 L509.5 423.6 L509.1 424.4 L508.6 425.2 L508.2 426.0 L508.0 426.7 L507.9 427.5 L508.0 428.4 L508.2 429.3 L508.4 430.0 L508.9 430.7 L509.5 431.3 L510.1 431.9 L510.8 432.6 L511.4 433.2 L511.9 433.9 L512.5 434.5 L513.1 435.2 L513.6 435.9 L514.2 436.5 L514.7 437.2 L515.2 437.9 L515.7 438.6 L516.1 439.3 L516.5 440.1 L516.9 440.8 L517.4 441.6 L517.8 442.4 L518.1 443.2 L518.4 444.0 L518.7 444.9 L518.8 445.7 L518.8 446.5 L518.8 447.3 L518.8 448.2 L518.8 449.0 L518.8 449.9 L518.8 450.8 L518.8 451.6 L518.8 452.5 L518.8 453.4 L518.8 454.2 L518.8 455.1 L518.8 456.0 L518.7 456.8 L518.6 457.7 L518.6 458.5 L518.5 459.4 L518.4 460.2 L518.4 461.1 L518.4 461.9 L518.5 462.8 L518.7 463.6 L518.9 464.5 L519.1 465.3 L519.4 466.1 L519.6 467.0 L519.9 467.8 L520.1 468.6 L520.5 469.4 L520.9 470.2 L521.2 471.0 L521.4 471.8 L521.4 472.7 L521.3 473.6 L521.0 474.4 L520.7 475.0 L520.0 475.6 L519.3 476.2 L518.6 476.8 L518.1 477.4 L517.6 478.1 L517.1 478.8 L516.6 479.6 L516.2 480.3" fill="none" stroke="#ff7f0e" stroke-width="2.30" stroke-linecap="round" stroke-linejoin="round" />
</g>
<rect x="68.00" y="96.50" width="188.30" height="393.50" fill="none" stroke="#000" stroke-width="1.30"/>
<line x1="170.10" y1="96.50" x2="170.10" y2="490.00" stroke="#000" stroke-width="1.30"/>
<line x1="68.00" y1="490.00" x2="72.20" y2="490.00" stroke="#000" stroke-width="1.30"/>
<line x1="256.30" y1="490.00" x2="252.10" y2="490.00" stroke="#000" stroke-width="1.30"/>
<text x="63.40" y="494.60" class="t" text-anchor="end" >0</text>
<line x1="68.00" y1="440.81" x2="72.20" y2="440.81" stroke="#000" stroke-width="1.30"/>
<line x1="256.30" y1="440.81" x2="252.10" y2="440.81" stroke="#000" stroke-width="1.30"/>
<text x="63.40" y="445.41" class="t" text-anchor="end" >250</text>
<line x1="68.00" y1="391.62" x2="72.20" y2="391.62" stroke="#000" stroke-width="1.30"/>
<line x1="256.30" y1="391.62" x2="252.10" y2="391.62" stroke="#000" stroke-width="1.30"/>
<text x="63.40" y="396.23" class="t" text-anchor="end" >500</text>
<line x1="68.00" y1="342.44" x2="72.20" y2="342.44" stroke="#000" stroke-width="1.30"/>
<line x1="256.30" y1="342.44" x2="252.10" y2="342.44" stroke="#000" stroke-width="1.30"/>
<text x="63.40" y="347.04" class="t" text-anchor="end" >750</text>
<line x1="68.00" y1="293.25" x2="72.20" y2="293.25" stroke="#000" stroke-width="1.30"/>
<line x1="256.30" y1="293.25" x2="252.10" y2="293.25" stroke="#000" stroke-width="1.30"/>
<text x="63.40" y="297.85" class="t" text-anchor="end" >1000</text>
<line x1="68.00" y1="244.06" x2="72.20" y2="244.06" stroke="#000" stroke-width="1.30"/>
<line x1="256.30" y1="244.06" x2="252.10" y2="244.06" stroke="#000" stroke-width="1.30"/>
<text x="63.40" y="248.66" class="t" text-anchor="end" >1250</text>
<line x1="68.00" y1="194.88" x2="72.20" y2="194.88" stroke="#000" stroke-width="1.30"/>
<line x1="256.30" y1="194.88" x2="252.10" y2="194.88" stroke="#000" stroke-width="1.30"/>
<text x="63.40" y="199.47" class="t" text-anchor="end" >1500</text>
<line x1="68.00" y1="145.69" x2="72.20" y2="145.69" stroke="#000" stroke-width="1.30"/>
<line x1="256.30" y1="145.69" x2="252.10" y2="145.69" stroke="#000" stroke-width="1.30"/>
<text x="63.40" y="150.29" class="t" text-anchor="end" >1750</text>
<line x1="68.00" y1="96.50" x2="72.20" y2="96.50" stroke="#000" stroke-width="1.30"/>
<line x1="256.30" y1="96.50" x2="252.10" y2="96.50" stroke="#000" stroke-width="1.30"/>
<text x="63.40" y="101.10" class="t" text-anchor="end" >2000</text>
<line x1="165.90" y1="490.00" x2="174.30" y2="490.00" stroke="#000" stroke-width="1.30"/>
<line x1="165.90" y1="440.81" x2="174.30" y2="440.81" stroke="#000" stroke-width="1.30"/>
<line x1="165.90" y1="391.62" x2="174.30" y2="391.62" stroke="#000" stroke-width="1.30"/>
<line x1="165.90" y1="342.44" x2="174.30" y2="342.44" stroke="#000" stroke-width="1.30"/>
<line x1="165.90" y1="293.25" x2="174.30" y2="293.25" stroke="#000" stroke-width="1.30"/>
<line x1="165.90" y1="244.06" x2="174.30" y2="244.06" stroke="#000" stroke-width="1.30"/>
<line x1="165.90" y1="194.88" x2="174.30" y2="194.88" stroke="#000" stroke-width="1.30"/>
<line x1="165.90" y1="145.69" x2="174.30" y2="145.69" stroke="#000" stroke-width="1.30"/>
<line x1="165.90" y1="96.50" x2="174.30" y2="96.50" stroke="#000" stroke-width="1.30"/>
<line x1="88.40" y1="490.00" x2="88.40" y2="485.80" stroke="#000" stroke-width="1.30"/>
<line x1="108.83" y1="490.00" x2="108.83" y2="485.80" stroke="#000" stroke-width="1.30"/>
<line x1="129.25" y1="490.00" x2="129.25" y2="485.80" stroke="#000" stroke-width="1.30"/>
<line x1="149.68" y1="490.00" x2="149.68" y2="485.80" stroke="#000" stroke-width="1.30"/>
<line x1="170.10" y1="490.00" x2="170.10" y2="485.80" stroke="#000" stroke-width="1.30"/>
<line x1="191.65" y1="490.00" x2="191.65" y2="485.80" stroke="#000" stroke-width="1.30"/>
<line x1="213.20" y1="490.00" x2="213.20" y2="485.80" stroke="#000" stroke-width="1.30"/>
<line x1="234.75" y1="490.00" x2="234.75" y2="485.80" stroke="#000" stroke-width="1.30"/>
<line x1="256.30" y1="490.00" x2="256.30" y2="485.80" stroke="#000" stroke-width="1.30"/>
<text x="88.40" y="504.20" class="t" text-anchor="middle" >−1</text>
<text x="128.25" y="504.20" class="t" text-anchor="middle" >−0.5</text>
<text x="170.10" y="504.20" class="t" text-anchor="middle" >0</text>
<text x="213.20" y="504.20" class="t" text-anchor="middle" >0.5</text>
<text x="256.30" y="504.20" class="t" text-anchor="middle" >1</text>
<text x="119.5" y="521.5" class="t" text-anchor="middle"><tspan class="i">k</tspan><tspan class="i" font-size="8.8px" dy="2.6">I</tspan><tspan class="i" dy="-2.6">a</tspan>/<tspan class="i">π</tspan></text>
<text x="213.0" y="521.5" class="t" text-anchor="middle"><tspan class="i">k</tspan><tspan class="i" font-size="8.8px" dy="2.6">R</tspan><tspan class="i" dy="-2.6">a</tspan>/<tspan class="i">π</tspan></text>
<text transform="translate(21.6,293.2) rotate(-90)" class="t" text-anchor="middle">Frequency, <tspan class="i">f</tspan> [Hz]</text>
<text x="249.00" y="115.80" class="b" text-anchor="end" font-size="19.5px">a</text>
<rect x="300.10" y="96.50" width="86.20" height="393.50" fill="none" stroke="#000" stroke-width="1.30"/>
<line x1="300.10" y1="490.00" x2="304.30" y2="490.00" stroke="#000" stroke-width="1.30"/>
<line x1="386.30" y1="490.00" x2="382.10" y2="490.00" stroke="#000" stroke-width="1.30"/>
<text x="295.50" y="494.60" class="t" text-anchor="end" >0</text>
<line x1="300.10" y1="440.81" x2="304.30" y2="440.81" stroke="#000" stroke-width="1.30"/>
<line x1="386.30" y1="440.81" x2="382.10" y2="440.81" stroke="#000" stroke-width="1.30"/>
<text x="295.50" y="445.41" class="t" text-anchor="end" >250</text>
<line x1="300.10" y1="391.62" x2="304.30" y2="391.62" stroke="#000" stroke-width="1.30"/>
<line x1="386.30" y1="391.62" x2="382.10" y2="391.62" stroke="#000" stroke-width="1.30"/>
<text x="295.50" y="396.23" class="t" text-anchor="end" >500</text>
<line x1="300.10" y1="342.44" x2="304.30" y2="342.44" stroke="#000" stroke-width="1.30"/>
<line x1="386.30" y1="342.44" x2="382.10" y2="342.44" stroke="#000" stroke-width="1.30"/>
<text x="295.50" y="347.04" class="t" text-anchor="end" >750</text>
<line x1="300.10" y1="293.25" x2="304.30" y2="293.25" stroke="#000" stroke-width="1.30"/>
<line x1="386.30" y1="293.25" x2="382.10" y2="293.25" stroke="#000" stroke-width="1.30"/>
<text x="295.50" y="297.85" class="t" text-anchor="end" >1000</text>
<line x1="300.10" y1="244.06" x2="304.30" y2="244.06" stroke="#000" stroke-width="1.30"/>
<line x1="386.30" y1="244.06" x2="382.10" y2="244.06" stroke="#000" stroke-width="1.30"/>
<text x="295.50" y="248.66" class="t" text-anchor="end" >1250</text>
<line x1="300.10" y1="194.88" x2="304.30" y2="194.88" stroke="#000" stroke-width="1.30"/>
<line x1="386.30" y1="194.88" x2="382.10" y2="194.88" stroke="#000" stroke-width="1.30"/>
<text x="295.50" y="199.47" class="t" text-anchor="end" >1500</text>
<line x1="300.10" y1="145.69" x2="304.30" y2="145.69" stroke="#000" stroke-width="1.30"/>
<line x1="386.30" y1="145.69" x2="382.10" y2="145.69" stroke="#000" stroke-width="1.30"/>
<text x="295.50" y="150.29" class="t" text-anchor="end" >1750</text>
<line x1="300.10" y1="96.50" x2="304.30" y2="96.50" stroke="#000" stroke-width="1.30"/>
<line x1="386.30" y1="96.50" x2="382.10" y2="96.50" stroke="#000" stroke-width="1.30"/>
<text x="295.50" y="101.10" class="t" text-anchor="end" >2000</text>
<line x1="343.20" y1="490.00" x2="343.20" y2="485.80" stroke="#000" stroke-width="1.30"/>
<text x="300.10" y="504.20" class="t" text-anchor="middle" >0</text>
<text x="343.20" y="504.20" class="t" text-anchor="middle" >0.5</text>
<text x="386.30" y="504.20" class="t" text-anchor="middle" >1</text>
<text x="343.2" y="521.5" class="t" text-anchor="middle"><tspan class="i">ka</tspan>/<tspan class="i">π</tspan></text>
<text x="341.00" y="115.50" class="b" text-anchor="start" font-size="19.5px">b</text>
<rect x="430.10" y="96.50" width="106.40" height="393.50" fill="none" stroke="#000" stroke-width="1.30"/>
<line x1="430.10" y1="490.00" x2="434.30" y2="490.00" stroke="#000" stroke-width="1.30"/>
<text x="425.50" y="494.60" class="t" text-anchor="end" >0</text>
<line x1="430.10" y1="440.81" x2="434.30" y2="440.81" stroke="#000" stroke-width="1.30"/>
<text x="425.50" y="445.41" class="t" text-anchor="end" >250</text>
<line x1="430.10" y1="391.62" x2="434.30" y2="391.62" stroke="#000" stroke-width="1.30"/>
<text x="425.50" y="396.23" class="t" text-anchor="end" >500</text>
<line x1="430.10" y1="342.44" x2="434.30" y2="342.44" stroke="#000" stroke-width="1.30"/>
<text x="425.50" y="347.04" class="t" text-anchor="end" >750</text>
<line x1="430.10" y1="293.25" x2="434.30" y2="293.25" stroke="#000" stroke-width="1.30"/>
<text x="425.50" y="297.85" class="t" text-anchor="end" >1000</text>
<line x1="430.10" y1="244.06" x2="434.30" y2="244.06" stroke="#000" stroke-width="1.30"/>
<text x="425.50" y="248.66" class="t" text-anchor="end" >1250</text>
<line x1="430.10" y1="194.88" x2="434.30" y2="194.88" stroke="#000" stroke-width="1.30"/>
<text x="425.50" y="199.47" class="t" text-anchor="end" >1500</text>
<line x1="430.10" y1="145.69" x2="434.30" y2="145.69" stroke="#000" stroke-width="1.30"/>
<text x="425.50" y="150.29" class="t" text-anchor="end" >1750</text>
<line x1="430.10" y1="96.50" x2="434.30" y2="96.50" stroke="#000" stroke-width="1.30"/>
<text x="425.50" y="101.10" class="t" text-anchor="end" >2000</text>
<line x1="447.83" y1="490.00" x2="447.83" y2="485.80" stroke="#000" stroke-width="1.30"/>
<line x1="465.57" y1="490.00" x2="465.57" y2="485.80" stroke="#000" stroke-width="1.30"/>
<line x1="483.30" y1="490.00" x2="483.30" y2="485.80" stroke="#000" stroke-width="1.30"/>
<line x1="501.03" y1="490.00" x2="501.03" y2="485.80" stroke="#000" stroke-width="1.30"/>
<line x1="518.77" y1="490.00" x2="518.77" y2="485.80" stroke="#000" stroke-width="1.30"/>
<text x="447.83" y="506.40" class="t" text-anchor="middle" >10<tspan font-size="8.8px" dy="-5">−4</tspan></text>
<text x="483.30" y="506.40" class="t" text-anchor="middle" >10<tspan font-size="8.8px" dy="-5">−2</tspan></text>
<text x="518.77" y="506.40" class="t" text-anchor="middle" >10<tspan font-size="8.8px" dy="-5">0</tspan></text>
<text x="483.50" y="522.80" class="t" text-anchor="middle" >Transmission</text>
<text x="525.00" y="115.50" class="b" text-anchor="middle" font-size="19.5px">c</text>
<defs><linearGradient id="cg1" x1="0" y1="0" x2="1" y2="0">
<stop offset="0.0000" stop-color="#440154"/>
<stop offset="0.0250" stop-color="#440154"/>
<stop offset="0.0500" stop-color="#440154"/>
<stop offset="0.0750" stop-color="#440154"/>
<stop offset="0.1000" stop-color="#440154"/>
<stop offset="0.1250" stop-color="#440154"/>
<stop offset="0.1500" stop-color="#440154"/>
<stop offset="0.1750" stop-color="#440154"/>
<stop offset="0.2000" stop-color="#440154"/>
<stop offset="0.2250" stop-color="#440154"/>
<stop offset="0.2500" stop-color="#440154"/>
<stop offset="0.2750" stop-color="#440154"/>
<stop offset="0.3000" stop-color="#440154"/>
<stop offset="0.3250" stop-color="#440154"/>
<stop offset="0.3500" stop-color="#440154"/>
<stop offset="0.3750" stop-color="#440154"/>
<stop offset="0.4000" stop-color="#440154"/>
<stop offset="0.4250" stop-color="#440154"/>
<stop offset="0.4500" stop-color="#440154"/>
<stop offset="0.4750" stop-color="#440154"/>
<stop offset="0.5000" stop-color="#440154"/>
<stop offset="0.5250" stop-color="#471365"/>
<stop offset="0.5500" stop-color="#482475"/>
<stop offset="0.5750" stop-color="#463480"/>
<stop offset="0.6000" stop-color="#414487"/>
<stop offset="0.6250" stop-color="#3b528b"/>
<stop offset="0.6500" stop-color="#355f8d"/>
<stop offset="0.6750" stop-color="#2f6c8e"/>
<stop offset="0.7000" stop-color="#2a788e"/>
<stop offset="0.7250" stop-color="#25848e"/>
<stop offset="0.7500" stop-color="#21918c"/>
<stop offset="0.7750" stop-color="#1e9c89"/>
<stop offset="0.8000" stop-color="#22a884"/>
<stop offset="0.8250" stop-color="#2fb47c"/>
<stop offset="0.8500" stop-color="#44bf70"/>
<stop offset="0.8750" stop-color="#5ec962"/>
<stop offset="0.9000" stop-color="#7ad151"/>
<stop offset="0.9250" stop-color="#9bd93c"/>
<stop offset="0.9500" stop-color="#bddf26"/>
<stop offset="0.9750" stop-color="#dfe318"/>
<stop offset="1.0000" stop-color="#fde725"/>
</linearGradient></defs>
<defs><linearGradient id="cg2" x1="0" y1="0" x2="1" y2="0">
<stop offset="0.0000" stop-color="#440154"/>
<stop offset="0.0250" stop-color="#440154"/>
<stop offset="0.0500" stop-color="#440154"/>
<stop offset="0.0750" stop-color="#440154"/>
<stop offset="0.1000" stop-color="#440154"/>
<stop offset="0.1250" stop-color="#440154"/>
<stop offset="0.1500" stop-color="#440154"/>
<stop offset="0.1750" stop-color="#440154"/>
<stop offset="0.2000" stop-color="#440154"/>
<stop offset="0.2250" stop-color="#440154"/>
<stop offset="0.2500" stop-color="#440154"/>
<stop offset="0.2750" stop-color="#440154"/>
<stop offset="0.3000" stop-color="#440154"/>
<stop offset="0.3250" stop-color="#440154"/>
<stop offset="0.3500" stop-color="#440154"/>
<stop offset="0.3750" stop-color="#440154"/>
<stop offset="0.4000" stop-color="#440154"/>
<stop offset="0.4250" stop-color="#440154"/>
<stop offset="0.4500" stop-color="#440154"/>
<stop offset="0.4750" stop-color="#440154"/>
<stop offset="0.5000" stop-color="#440154"/>
<stop offset="0.5250" stop-color="#471365"/>
<stop offset="0.5500" stop-color="#482475"/>
<stop offset="0.5750" stop-color="#463480"/>
<stop offset="0.6000" stop-color="#414487"/>
<stop offset="0.6250" stop-color="#3b528b"/>
<stop offset="0.6500" stop-color="#355f8d"/>
<stop offset="0.6750" stop-color="#2f6c8e"/>
<stop offset="0.7000" stop-color="#2a788e"/>
<stop offset="0.7250" stop-color="#25848e"/>
<stop offset="0.7500" stop-color="#21918c"/>
<stop offset="0.7750" stop-color="#1e9c89"/>
<stop offset="0.8000" stop-color="#22a884"/>
<stop offset="0.8250" stop-color="#2fb47c"/>
<stop offset="0.8500" stop-color="#44bf70"/>
<stop offset="0.8750" stop-color="#5ec962"/>
<stop offset="0.9000" stop-color="#7ad151"/>
<stop offset="0.9250" stop-color="#9bd93c"/>
<stop offset="0.9500" stop-color="#bddf26"/>
<stop offset="0.9750" stop-color="#dfe318"/>
<stop offset="1.0000" stop-color="#fde725"/>
</linearGradient></defs>
<defs><linearGradient id="wfade" x1="0" y1="0" x2="0" y2="1"><stop offset="0" stop-color="#fff" stop-opacity="0"/><stop offset="1" stop-color="#fff" stop-opacity="1"/></linearGradient></defs>
<rect x="93.4" y="47.0" width="140.9" height="27.0" fill="url(#cg1)"/>
<rect x="93.4" y="47.0" width="140.9" height="27.0" fill="url(#wfade)"/>
<rect x="93.4" y="47.0" width="140.9" height="27.0" fill="none" stroke="#000" stroke-width="1.3"/>
<line x1="128.62" y1="47.00" x2="128.62" y2="51.20" stroke="#000" stroke-width="1.30"/>
<line x1="128.62" y1="74.00" x2="128.62" y2="69.80" stroke="#000" stroke-width="1.30"/>
<line x1="163.85" y1="47.00" x2="163.85" y2="51.20" stroke="#000" stroke-width="1.30"/>
<line x1="163.85" y1="74.00" x2="163.85" y2="69.80" stroke="#000" stroke-width="1.30"/>
<line x1="199.08" y1="47.00" x2="199.08" y2="51.20" stroke="#000" stroke-width="1.30"/>
<line x1="199.08" y1="74.00" x2="199.08" y2="69.80" stroke="#000" stroke-width="1.30"/>
<text x="93.40" y="39.30" class="t" text-anchor="middle" >0</text>
<text x="163.85" y="39.30" class="t" text-anchor="middle" >0.5</text>
<text x="234.30" y="39.30" class="t" text-anchor="middle" >1</text>
<text x="88.60" y="51.80" class="t" text-anchor="end" >0</text>
<text x="88.60" y="78.20" class="t" text-anchor="end" >−1</text>
<text x="25" y="63.6" class="t" text-anchor="start">−|<tspan class="i">k</tspan><tspan class="i" font-size="8.8px" dy="2.6">I</tspan><tspan dy="-2.6">|</tspan><tspan class="i">a</tspan><tspan class="i" font-size="8.8px" dy="2.6">x</tspan><tspan dy="-2.6">/</tspan><tspan class="i">π</tspan></text>
<text x="163.5" y="20.6" class="t" text-anchor="middle">Γ<tspan class="i" font-size="8.8px" dy="2.8">TX</tspan></text>
<text x="157.3" y="18.2" class="t" text-anchor="middle">ˆ</text>
<rect x="300.1" y="47.0" width="85.5" height="27.0" fill="url(#cg2)"/>
<rect x="300.1" y="47.0" width="85.5" height="27.0" fill="none" stroke="#000" stroke-width="1.3"/>
<line x1="334.03" y1="47.00" x2="334.03" y2="51.20" stroke="#000" stroke-width="1.30"/>
<line x1="334.03" y1="74.00" x2="334.03" y2="69.80" stroke="#000" stroke-width="1.30"/>
<line x1="367.96" y1="47.00" x2="367.96" y2="51.20" stroke="#000" stroke-width="1.30"/>
<line x1="367.96" y1="74.00" x2="367.96" y2="69.80" stroke="#000" stroke-width="1.30"/>
<text x="300.30" y="39.30" class="t" text-anchor="middle" >0</text>
<text x="334.10" y="39.30" class="t" text-anchor="middle" >0.25</text>
<text x="364.20" y="39.30" class="t" text-anchor="middle" >0.5</text>
<text x="394.50" y="39.30" class="t" text-anchor="middle" >0.63</text>
<text x="342.6" y="18.4" class="t" text-anchor="middle">Γ<tspan class="i" font-size="8.8px" dy="2.8">TX</tspan></text>
</svg>
</body></html>
